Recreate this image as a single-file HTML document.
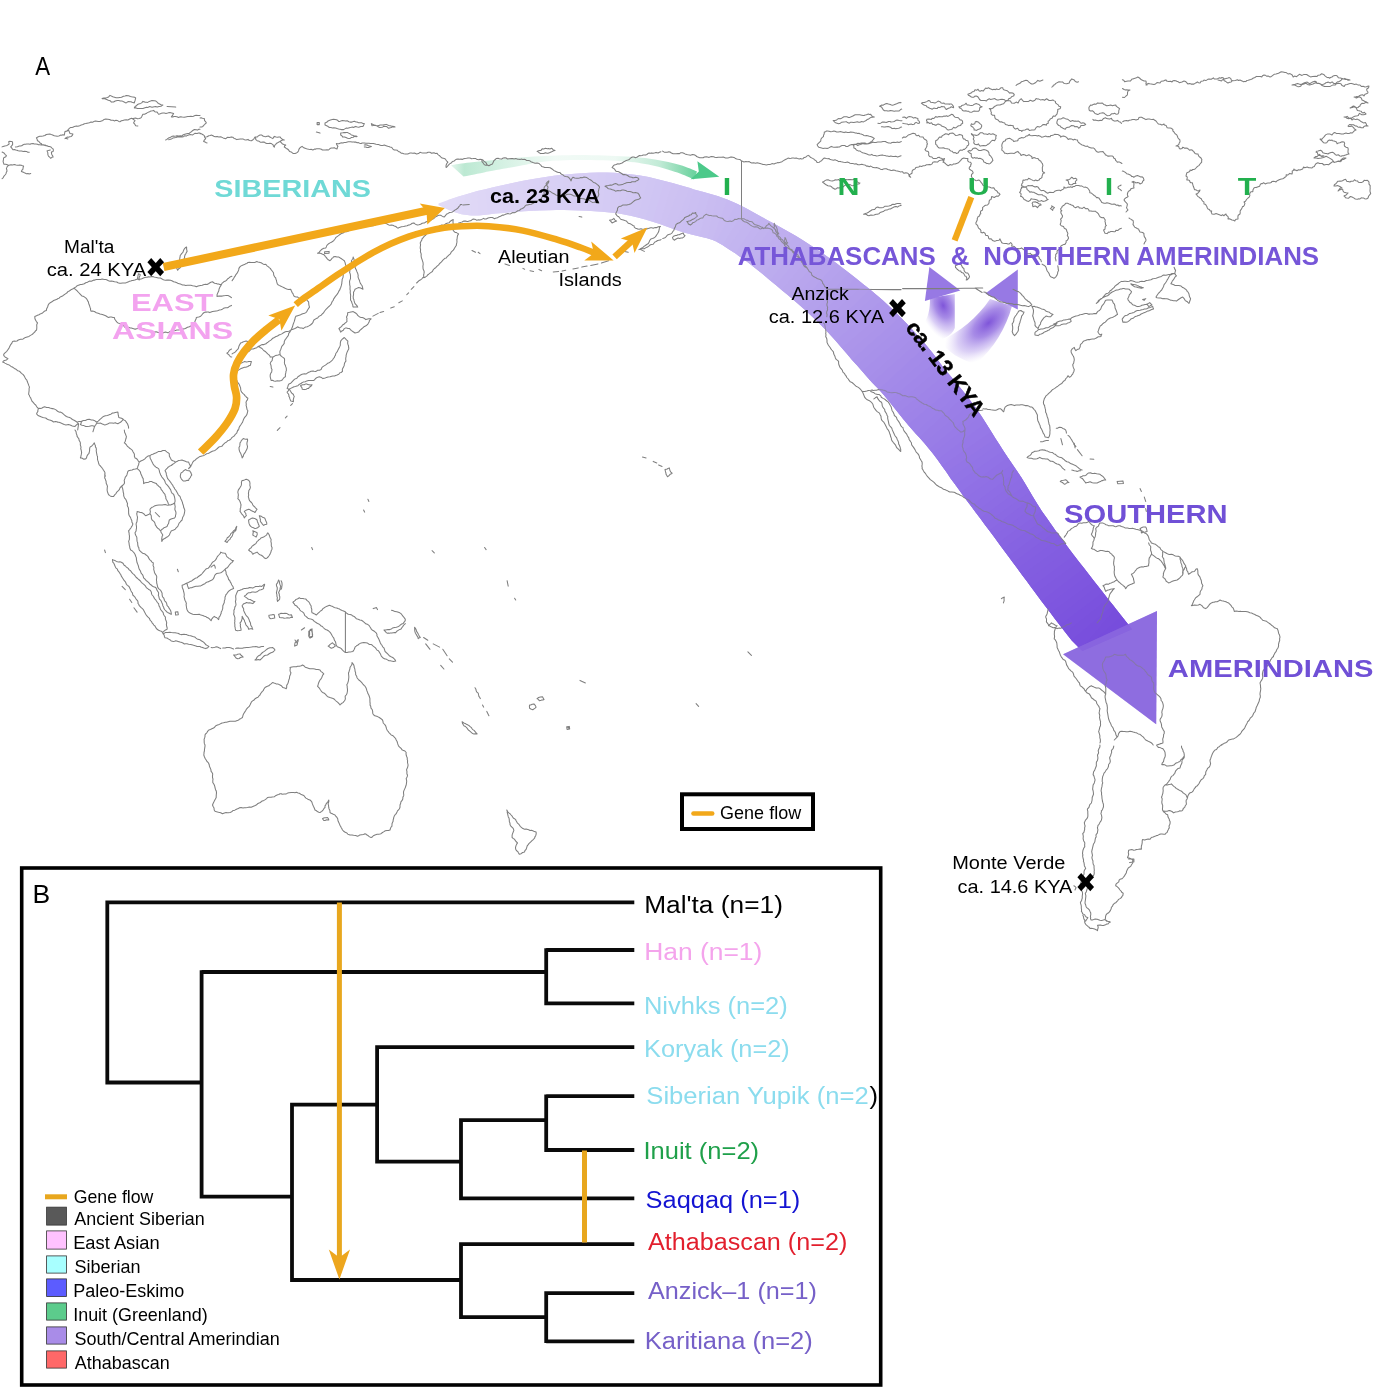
<!DOCTYPE html>
<html lang="en"><head><meta charset="utf-8"><title>Figure: gene flow map and population tree</title>
<style>
html,body{margin:0;padding:0;background:#fff;}
body{width:1400px;height:1400px;overflow:hidden;}
svg{display:block;font-family:"Liberation Sans",Arial,Helvetica,sans-serif;}
svg text{white-space:pre;}
</style></head>
<body>
<svg width="1400" height="1400" viewBox="0 0 1400 1400">
<rect width="1400" height="1400" fill="#fff"/>
<g id="flows-under">
<defs>
<linearGradient id="gband" gradientUnits="userSpaceOnUse" x1="440" y1="150" x2="1130" y2="640">
<stop offset="0" stop-color="#e4ddf7"/>
<stop offset="0.22" stop-color="#d6ccf3"/>
<stop offset="0.42" stop-color="#c5b5ee"/>
<stop offset="0.55" stop-color="#b29ce9"/>
<stop offset="0.68" stop-color="#a185e5"/>
<stop offset="0.80" stop-color="#9270e1"/>
<stop offset="0.92" stop-color="#8159dc"/>
<stop offset="1" stop-color="#7a50da"/>
</linearGradient>
<linearGradient id="ggreen" gradientUnits="userSpaceOnUse" x1="445" y1="0" x2="720" y2="0">
<stop offset="0" stop-color="#4fc48a" stop-opacity="0.05"/>
<stop offset="0.07" stop-color="#4fc48a" stop-opacity="0.38"/>
<stop offset="0.2" stop-color="#4fc48a" stop-opacity="0.25"/>
<stop offset="0.4" stop-color="#4fc48a" stop-opacity="0.08"/>
<stop offset="0.62" stop-color="#4fc48a" stop-opacity="0.10"/>
<stop offset="0.78" stop-color="#4fc48a" stop-opacity="0.35"/>
<stop offset="0.9" stop-color="#4cc98a" stop-opacity="0.8"/>
<stop offset="1" stop-color="#4cc98a" stop-opacity="1"/>
</linearGradient>
<radialGradient id="gs1" gradientUnits="userSpaceOnUse" cx="943.3" cy="305.5" r="37" gradientTransform="translate(943.5 306) rotate(-20) scale(0.62 1) translate(-943.5 -306)">
<stop offset="0" stop-color="#7f55d9" stop-opacity="1"/>
<stop offset="0.35" stop-color="#9877e2" stop-opacity="0.85"/>
<stop offset="0.7" stop-color="#b7a0ec" stop-opacity="0.5"/>
<stop offset="1" stop-color="#d8ccf5" stop-opacity="0"/>
</radialGradient>
<radialGradient id="gs2" gradientUnits="userSpaceOnUse" cx="988.6" cy="323" r="54" gradientTransform="translate(988.5 323) rotate(-42) scale(1 0.5) translate(-988.5 -323)">
<stop offset="0" stop-color="#7f55d9" stop-opacity="1"/>
<stop offset="0.35" stop-color="#9877e2" stop-opacity="0.85"/>
<stop offset="0.7" stop-color="#b7a0ec" stop-opacity="0.5"/>
<stop offset="1" stop-color="#d8ccf5" stop-opacity="0"/>
</radialGradient>
</defs>
<path d="M451.0 165.2C454.2 164.8 461.8 163.5 470.0 162.6C478.2 161.7 489.3 160.6 500.0 159.6C510.7 158.6 520.7 157.4 534.0 156.6C547.3 155.8 564.7 155.0 580.0 155.0C595.3 155.0 613.5 155.8 626.0 156.5C638.5 157.2 646.0 158.1 655.0 159.5C664.0 160.9 673.0 163.0 680.0 165.0C687.0 167.0 694.2 170.4 697.0 171.5L694.0 179.5C691.7 178.5 686.5 175.8 680.0 173.5C673.5 171.2 664.0 168.0 655.0 166.0C646.0 164.0 638.5 162.5 626.0 161.5C613.5 160.5 593.5 160.0 580.0 160.0C566.5 160.0 555.2 160.5 545.0 161.5C534.8 162.5 529.2 164.2 519.0 166.0C508.8 167.8 493.2 170.7 484.0 172.5C474.8 174.3 466.9 175.9 463.5 176.6Z" fill="url(#ggreen)"/>
<path d="M719.3 176.8L697.4 161.3L698.8 171.5L690.6 179.3Z" fill="#4cc98a"/>
<g opacity="1.0">
<path d="M438.5 203.6L448.1 200.1L457.7 196.8L452.4 211.5L443.7 207.6L438.5 205.2Z" fill="#e2dbf7"/>
<path d="M448.1 200.1L457.7 196.8L465.5 194.4L461.5 214.2L452.4 211.5L443.7 207.6Z" fill="#e1daf7"/>
<path d="M457.7 196.8L465.5 194.4L471.4 192.7L471.0 215.4L461.5 214.2L452.4 211.5Z" fill="#e0d9f7"/>
<path d="M465.5 194.4L471.4 192.7L477.3 191.1L478.6 215.4L471.0 215.4L461.5 214.2Z" fill="#dfd8f6"/>
<path d="M471.4 192.7L477.3 191.1L485.3 189.2L488.1 214.4L478.6 215.4L471.0 215.4Z" fill="#dfd7f6"/>
<path d="M477.3 191.1L485.3 189.2L493.2 187.3L495.6 213.5L488.1 214.4L478.6 215.4Z" fill="#ded6f6"/>
<path d="M485.3 189.2L493.2 187.3L501.1 185.5L503.2 212.9L495.6 213.5L488.1 214.4Z" fill="#ddd5f6"/>
<path d="M493.2 187.3L501.1 185.5L509.1 183.7L510.8 212.3L503.2 212.9L495.6 213.5Z" fill="#ddd5f6"/>
<path d="M501.1 185.5L509.1 183.7L517.1 182.0L518.4 211.7L510.8 212.3L503.2 212.9Z" fill="#dcd4f6"/>
<path d="M509.1 183.7L517.1 182.0L523.1 180.7L524.1 211.3L518.4 211.7L510.8 212.3Z" fill="#dcd3f5"/>
<path d="M517.1 182.0L523.1 180.7L533.1 178.9L533.6 210.8L524.1 211.3L518.4 211.7Z" fill="#dbd3f5"/>
<path d="M523.1 180.7L533.1 178.9L539.2 177.9L539.4 210.5L533.6 210.8L524.1 211.3Z" fill="#dbd2f5"/>
<path d="M533.1 178.9L539.2 177.9L547.2 176.7L548.9 210.2L539.4 210.5L533.6 210.8Z" fill="#dad2f5"/>
<path d="M539.2 177.9L547.2 176.7L555.3 175.6L556.5 210.1L548.9 210.2L539.4 210.5Z" fill="#dad1f5"/>
<path d="M547.2 176.7L555.3 175.6L563.4 174.7L564.1 210.1L556.5 210.1L548.9 210.2Z" fill="#d9d0f5"/>
<path d="M555.3 175.6L563.4 174.7L571.5 173.9L571.8 210.2L564.1 210.1L556.5 210.1Z" fill="#d8d0f5"/>
<path d="M563.4 174.7L571.5 173.9L581.7 173.2L579.4 210.4L571.8 210.2L564.1 210.1Z" fill="#d8cff4"/>
<path d="M571.5 173.9L581.7 173.2L589.9 172.7L587.0 210.8L579.4 210.4L571.8 210.2Z" fill="#d7cef4"/>
<path d="M581.7 173.2L589.9 172.7L598.0 172.5L594.6 211.2L587.0 210.8L579.4 210.4Z" fill="#d7cef4"/>
<path d="M589.9 172.7L598.0 172.5L606.2 172.5L602.2 211.8L594.6 211.2L587.0 210.8Z" fill="#d6cdf4"/>
<path d="M598.0 172.5L606.2 172.5L614.3 172.8L609.8 212.4L602.2 211.8L594.6 211.2Z" fill="#d5ccf4"/>
<path d="M606.2 172.5L614.3 172.8L622.5 173.4L617.4 213.3L609.8 212.4L602.2 211.8Z" fill="#d4cbf4"/>
<path d="M614.3 172.8L622.5 173.4L630.6 174.2L623.0 214.3L617.4 213.3L609.8 212.4Z" fill="#d4caf4"/>
<path d="M622.5 173.4L630.6 174.2L638.7 175.3L630.5 215.8L623.0 214.3L617.4 213.3Z" fill="#d3c9f3"/>
<path d="M630.6 174.2L638.7 175.3L648.7 177.1L637.9 217.6L630.5 215.8L623.0 214.3Z" fill="#d2c8f3"/>
<path d="M638.7 175.3L648.7 177.1L656.7 178.9L645.3 219.6L637.9 217.6L630.5 215.8Z" fill="#d1c7f3"/>
<path d="M648.7 177.1L656.7 178.9L664.6 181.0L652.6 221.7L645.3 219.6L637.9 217.6Z" fill="#d0c6f3"/>
<path d="M656.7 178.9L664.6 181.0L672.5 183.1L659.8 224.0L652.6 221.7L645.3 219.6Z" fill="#cfc5f3"/>
<path d="M664.6 181.0L672.5 183.1L680.3 185.3L665.2 225.9L659.8 224.0L652.6 221.7Z" fill="#cfc3f3"/>
<path d="M672.5 183.1L680.3 185.3L690.1 188.1L674.1 229.3L665.2 225.9L659.8 224.0Z" fill="#cec2f2"/>
<path d="M680.3 185.3L690.1 188.1L694.0 189.4L681.3 231.8L674.1 229.3L665.2 225.9Z" fill="#cdc1f2"/>
<path d="M690.1 188.1L694.0 189.4L701.8 191.6L690.5 234.2L681.3 231.8L674.1 229.3Z" fill="#ccc0f2"/>
<path d="M694.0 189.4L701.8 191.6L709.7 193.7L699.8 236.6L690.5 234.2L681.3 231.8Z" fill="#cbbff2"/>
<path d="M701.8 191.6L709.7 193.7L717.5 196.1L707.2 238.3L699.8 236.6L690.5 234.2Z" fill="#cabef2"/>
<path d="M709.7 193.7L717.5 196.1L727.2 199.4L712.7 239.9L707.2 238.3L699.8 236.6Z" fill="#c9bcf1"/>
<path d="M717.5 196.1L727.2 199.4L736.5 203.5L716.2 241.5L712.7 239.9L707.2 238.3Z" fill="#c8bbf1"/>
<path d="M727.2 199.4L736.5 203.5L745.6 208.1L722.8 245.3L716.2 241.5L712.7 239.9Z" fill="#c7b9f1"/>
<path d="M736.5 203.5L745.6 208.1L752.8 212.0L727.6 248.4L722.8 245.3L716.2 241.5Z" fill="#c5b8f1"/>
<path d="M745.6 208.1L752.8 212.0L760.0 215.9L735.5 253.6L727.6 248.4L722.8 245.3Z" fill="#c4b6f0"/>
<path d="M752.8 212.0L760.0 215.9L767.1 219.9L740.2 256.9L735.5 253.6L727.6 248.4Z" fill="#c3b5f0"/>
<path d="M760.0 215.9L767.1 219.9L774.3 223.8L746.4 261.3L740.2 256.9L735.5 253.6Z" fill="#c2b3f0"/>
<path d="M767.1 219.9L774.3 223.8L781.4 227.7L752.5 265.9L746.4 261.3L740.2 256.9Z" fill="#c1b2ef"/>
<path d="M774.3 223.8L781.4 227.7L790.3 232.8L758.5 270.7L752.5 265.9L746.4 261.3Z" fill="#c0b0ef"/>
<path d="M781.4 227.7L790.3 232.8L795.6 235.8L762.9 274.3L758.5 270.7L752.5 265.9Z" fill="#bfaeef"/>
<path d="M790.3 232.8L795.6 235.8L802.5 240.1L770.2 280.4L762.9 274.3L758.5 270.7Z" fill="#beadee"/>
<path d="M795.6 235.8L802.5 240.1L809.4 244.5L776.1 285.3L770.2 280.4L762.9 274.3Z" fill="#bcacee"/>
<path d="M802.5 240.1L809.4 244.5L816.2 249.0L781.9 290.2L776.1 285.3L770.2 280.4Z" fill="#bbaaee"/>
<path d="M809.4 244.5L816.2 249.0L823.0 253.6L787.8 295.1L781.9 290.2L776.1 285.3Z" fill="#baa8ee"/>
<path d="M816.2 249.0L823.0 253.6L829.6 258.3L793.6 299.9L787.8 295.1L781.9 290.2Z" fill="#b9a7ed"/>
<path d="M823.0 253.6L829.6 258.3L836.2 263.1L799.4 304.9L793.6 299.9L787.8 295.1Z" fill="#b8a5ed"/>
<path d="M829.6 258.3L836.2 263.1L842.7 268.0L805.1 310.0L799.4 304.9L793.6 299.9Z" fill="#b7a4ed"/>
<path d="M836.2 263.1L842.7 268.0L849.2 273.0L810.7 315.2L805.1 310.0L799.4 304.9Z" fill="#b5a2ed"/>
<path d="M842.7 268.0L849.2 273.0L855.6 278.0L816.3 320.4L810.7 315.2L805.1 310.0Z" fill="#b4a1ec"/>
<path d="M849.2 273.0L855.6 278.0L863.6 284.4L821.7 325.7L816.3 320.4L810.7 315.2Z" fill="#b39fec"/>
<path d="M855.6 278.0L863.6 284.4L870.0 289.5L827.0 331.2L821.7 325.7L816.3 320.4Z" fill="#b29dec"/>
<path d="M863.6 284.4L870.0 289.5L876.2 294.7L830.9 335.4L827.0 331.2L821.7 325.7Z" fill="#b19ceb"/>
<path d="M870.0 289.5L876.2 294.7L882.4 300.1L835.9 341.1L830.9 335.4L827.0 331.2Z" fill="#af9aeb"/>
<path d="M876.2 294.7L882.4 300.1L889.9 306.9L842.1 348.3L835.9 341.1L830.9 335.4Z" fill="#ae99eb"/>
<path d="M882.4 300.1L889.9 306.9L895.8 312.6L847.1 354.1L842.1 348.3L835.9 341.1Z" fill="#ad97eb"/>
<path d="M889.9 306.9L895.8 312.6L900.2 316.9L852.1 359.9L847.1 354.1L842.1 348.3Z" fill="#ac95ea"/>
<path d="M895.8 312.6L900.2 316.9L905.9 322.8L857.2 365.6L852.1 359.9L847.1 354.1Z" fill="#ab94ea"/>
<path d="M900.2 316.9L905.9 322.8L911.4 328.7L862.2 371.3L857.2 365.6L852.1 359.9Z" fill="#a992ea"/>
<path d="M905.9 322.8L911.4 328.7L916.9 334.7L868.5 378.5L862.2 371.3L857.2 365.6Z" fill="#a891ea"/>
<path d="M911.4 328.7L916.9 334.7L921.1 339.3L872.3 382.8L868.5 378.5L862.2 371.3Z" fill="#a78fea"/>
<path d="M916.9 334.7L921.1 339.3L926.4 345.4L879.0 389.5L872.3 382.8L868.5 378.5Z" fill="#a68ee9"/>
<path d="M921.1 339.3L926.4 345.4L932.8 353.3L884.0 395.2L879.0 389.5L872.3 382.8Z" fill="#a58ce9"/>
<path d="M926.4 345.4L932.8 353.3L937.7 359.9L888.8 401.1L884.0 395.2L879.0 389.5Z" fill="#a38ae9"/>
<path d="M932.8 353.3L937.7 359.9L942.6 366.4L893.6 407.0L888.8 401.1L884.0 395.2Z" fill="#a289e9"/>
<path d="M937.7 359.9L942.6 366.4L947.7 372.8L898.4 413.0L893.6 407.0L888.8 401.1Z" fill="#a187e9"/>
<path d="M942.6 366.4L947.7 372.8L953.0 379.0L903.2 418.9L898.4 413.0L893.6 407.0Z" fill="#a086e8"/>
<path d="M947.7 372.8L953.0 379.0L956.9 383.7L908.0 424.8L903.2 418.9L898.4 413.0Z" fill="#9f84e8"/>
<path d="M953.0 379.0L956.9 383.7L962.1 390.0L915.6 433.4L908.0 424.8L903.2 418.9Z" fill="#9e83e8"/>
<path d="M956.9 383.7L962.1 390.0L965.9 394.8L919.4 437.6L915.6 433.4L908.0 424.8Z" fill="#9c81e8"/>
<path d="M962.1 390.0L965.9 394.8L972.1 402.9L924.5 443.3L919.4 437.6L915.6 433.4Z" fill="#9b80e8"/>
<path d="M965.9 394.8L972.1 402.9L976.9 409.5L929.4 449.2L924.5 443.3L919.4 437.6Z" fill="#9a7ee7"/>
<path d="M972.1 402.9L976.9 409.5L981.5 416.2L932.9 453.6L929.4 449.2L924.5 443.3Z" fill="#997de7"/>
<path d="M976.9 409.5L981.5 416.2L985.8 423.1L937.6 459.7L932.9 453.6L929.4 449.2Z" fill="#987be7"/>
<path d="M981.5 416.2L985.8 423.1L991.3 431.8L942.0 465.9L937.6 459.7L932.9 453.6Z" fill="#977ae7"/>
<path d="M985.8 423.1L991.3 431.8L995.6 438.7L946.4 472.1L942.0 465.9L937.6 459.7Z" fill="#9678e7"/>
<path d="M991.3 431.8L995.6 438.7L998.9 443.8L950.7 478.4L946.4 472.1L942.0 465.9Z" fill="#9576e6"/>
<path d="M995.6 438.7L998.9 443.8L1003.3 450.7L955.2 484.6L950.7 478.4L946.4 472.1Z" fill="#9375e6"/>
<path d="M998.9 443.8L1003.3 450.7L1007.8 457.5L960.8 492.3L955.2 484.6L950.7 478.4Z" fill="#9274e6"/>
<path d="M1003.3 450.7L1007.8 457.5L1012.4 464.3L965.3 498.4L960.8 492.3L955.2 484.6Z" fill="#9172e6"/>
<path d="M1007.8 457.5L1012.4 464.3L1017.0 471.0L971.0 506.1L965.3 498.4L960.8 492.3Z" fill="#9070e5"/>
<path d="M1012.4 464.3L1017.0 471.0L1021.5 477.8L975.6 512.2L971.0 506.1L965.3 498.4Z" fill="#8f6fe5"/>
<path d="M1017.0 471.0L1021.5 477.8L1025.8 484.7L980.2 518.3L975.6 512.2L971.0 506.1Z" fill="#8e6de5"/>
<path d="M1021.5 477.8L1025.8 484.7L1029.9 491.8L984.7 524.4L980.2 518.3L975.6 512.2Z" fill="#8d6ce4"/>
<path d="M1025.8 484.7L1029.9 491.8L1033.0 497.1L989.3 530.5L984.7 524.4L980.2 518.3Z" fill="#8c6ae4"/>
<path d="M1029.9 491.8L1033.0 497.1L1037.3 504.1L993.8 536.6L989.3 530.5L984.7 524.4Z" fill="#8b69e3"/>
<path d="M1033.0 497.1L1037.3 504.1L1041.7 510.9L998.3 542.7L993.8 536.6L989.3 530.5Z" fill="#8a67e3"/>
<path d="M1037.3 504.1L1041.7 510.9L1046.4 517.6L1002.9 548.9L998.3 542.7L993.8 536.6Z" fill="#8966e3"/>
<path d="M1041.7 510.9L1046.4 517.6L1051.1 524.3L1008.5 556.5L1002.9 548.9L998.3 542.7Z" fill="#8864e2"/>
<path d="M1046.4 517.6L1051.1 524.3L1055.8 530.9L1013.1 562.7L1008.5 556.5L1002.9 548.9Z" fill="#8663e2"/>
<path d="M1051.1 524.3L1055.8 530.9L1060.7 537.5L1017.6 568.8L1013.1 562.7L1008.5 556.5Z" fill="#8561e1"/>
<path d="M1055.8 530.9L1060.7 537.5L1065.5 544.0L1022.1 574.9L1017.6 568.8L1013.1 562.7Z" fill="#845fe1"/>
<path d="M1060.7 537.5L1065.5 544.0L1069.2 548.9L1026.7 581.1L1022.1 574.9L1017.6 568.8Z" fill="#835ee1"/>
<path d="M1065.5 544.0L1069.2 548.9L1074.1 555.4L1031.2 587.2L1026.7 581.1L1022.1 574.9Z" fill="#825de0"/>
<path d="M1069.2 548.9L1074.1 555.4L1079.1 561.9L1035.7 593.3L1031.2 587.2L1026.7 581.1Z" fill="#825ce0"/>
<path d="M1074.1 555.4L1079.1 561.9L1084.1 568.3L1041.4 601.0L1035.7 593.3L1031.2 587.2Z" fill="#815ae0"/>
<path d="M1079.1 561.9L1084.1 568.3L1089.1 574.8L1046.0 607.0L1041.4 601.0L1035.7 593.3Z" fill="#8059df"/>
<path d="M1084.1 568.3L1089.1 574.8L1094.1 581.2L1050.6 613.1L1046.0 607.0L1041.4 601.0Z" fill="#7f57df"/>
<path d="M1089.1 574.8L1094.1 581.2L1097.9 586.0L1055.2 619.2L1050.6 613.1L1046.0 607.0Z" fill="#7e56df"/>
<path d="M1094.1 581.2L1097.9 586.0L1103.0 592.4L1059.9 625.3L1055.2 619.2L1050.6 613.1Z" fill="#7d55de"/>
<path d="M1097.9 586.0L1103.0 592.4L1108.0 598.9L1065.7 632.8L1059.9 625.3L1055.2 619.2Z" fill="#7c54de"/>
<path d="M1103.0 592.4L1108.0 598.9L1113.1 605.3L1071.6 640.3L1065.7 632.8L1059.9 625.3Z" fill="#7b52de"/>
<path d="M1108.0 598.9L1113.1 605.3L1115.6 608.5L1081.0 649.7L1071.6 640.3L1065.7 632.8Z" fill="#7a51dd"/>
<path d="M1113.1 605.3L1115.6 608.5L1121.9 616.5L1082.4 651.0L1081.0 649.7L1071.6 640.3Z" fill="#794fdd"/>
<path d="M1115.6 608.5L1121.9 616.5L1132.0 629.3L1082.4 651.0L1082.4 651.0L1081.0 649.7Z" fill="#784edc"/>
<path d="M1121.9 616.5L1132.0 629.3L1132.0 629.3L1082.4 651.0L1082.4 651.0L1082.4 651.0Z" fill="#774ddc"/>
</g>
<path d="M1157 611.1L1063.1 654.3L1156.2 724.3Z" fill="#8f6de1"/>
<path d="M930 298C930 312 928 324 912 336C926 344 950 342 954.8 328L954.8 294Z" fill="url(#gs1)"/>
<path d="M929.4 267.1L924.9 300.9L960.3 290.6Z" fill="#9779e4"/>
<path d="M940 341C960 332 977 318 990 299L1012 306C1006 328 994 348 976 364C960 360 948 352 940 341Z" fill="url(#gs2)"/>
<path d="M1017.8 269.4L985.4 293.4L1017.8 309.4Z" fill="#9779e4"/>
</g>
<g id="map"><path d="M36.4 137.9L38.3 136.7L39.8 136.3L41.5 136.2L42.9 136.0L44.9 135.5L46.3 134.5L48.0 134.2L49.8 134.1L51.3 134.6L52.6 134.9L54.3 135.7L55.9 136.0L57.1 136.2L58.9 136.0L60.5 135.1L61.5 135.3L62.8 134.8L64.3 135.1L64.6 133.5L65.0 131.4L66.8 130.9L68.0 130.0L68.6 129.3L69.3 128.4L70.4 127.6L72.1 127.4L73.5 127.0L74.3 126.4L76.5 126.1L77.9 126.3L79.7 125.8L81.3 124.9L83.0 124.5L84.4 123.7L85.7 123.6L87.1 123.2L89.4 122.7L91.0 122.1L92.7 122.2L93.7 121.6L95.6 121.0L98.2 121.4L100.0 121.4L101.4 121.1L102.9 120.4L104.1 119.4L105.7 119.1L107.7 119.3L109.6 119.5L111.0 120.3L113.1 120.2L114.3 120.9L115.9 120.3L117.5 120.6L118.8 121.4L119.9 121.7L121.4 120.8L122.9 120.4L124.3 120.0L126.2 119.8L127.9 120.0L129.7 119.0L131.4 118.3L133.3 118.6L134.4 118.3L135.5 118.1L137.5 118.8L139.3 118.5L140.6 118.0L141.4 117.4L142.0 116.1L142.9 114.3L144.5 114.3L146.2 113.6L147.0 112.9L148.6 112.1L149.6 111.8L151.0 110.9L152.5 110.7L153.6 110.4L154.8 111.7L155.7 111.9L157.1 112.1L157.9 113.3L158.6 114.3L159.7 114.1L161.3 113.3L163.0 113.0L164.3 113.1L166.0 113.5L167.7 113.1L168.5 112.8L170.0 112.6L171.7 112.9L173.6 113.6L172.5 115.4L171.4 116.9L172.8 117.0L174.0 116.5L175.3 116.5L176.9 116.7L178.6 117.4L180.3 116.8L182.3 117.1L184.1 117.3L185.7 116.9L187.7 116.5L189.1 116.4L190.9 116.3L192.2 116.5L193.5 116.2L194.3 115.7L196.1 115.2L197.9 115.6L200.0 115.4 M131.4 118.3L133.0 119.0L134.0 119.8L135.0 120.7L134.0 122.0L133.6 122.9L134.8 124.2L135.7 125.7L137.9 126.0 M65.0 131.4L66.6 131.2L68.6 130.3L69.4 132.0L70.0 133.6L71.5 133.7L72.9 134.0L72.5 135.2L71.4 136.4L69.8 136.7L68.3 137.2L67.1 137.1L65.8 137.9L65.0 138.6L66.4 138.4L67.9 138.9 M102.1 98.6L103.9 98.0L105.3 97.9L106.4 97.7L107.3 97.4L108.6 96.9L110.0 95.4L112.8 96.8L116.1 97.8L118.1 97.8L121.5 97.3L123.5 96.2L125.1 96.1L126.4 95.6L128.6 95.7L130.4 96.4L131.6 96.8L133.0 97.0L134.6 97.3L135.7 97.9L135.4 99.0L135.1 100.4L134.6 101.7L134.3 102.9L133.0 102.5L132.1 102.3L130.9 101.7L130.0 101.7L128.7 101.6L127.7 101.8L126.9 102.4L125.7 102.9L124.1 102.0L122.3 101.1L120.4 100.9L118.8 100.6L117.3 100.4L115.2 101.0L113.6 102.0L111.4 102.1L110.1 100.7L108.3 100.2L107.3 99.7L106.0 99.2L104.2 98.6L102.1 98.6 M134.3 107.9L135.1 106.5L136.4 105.8L137.6 104.4L138.6 104.0L140.7 103.4L141.7 102.9L142.9 101.4L144.2 101.8L145.1 102.2L146.4 102.3L147.7 102.4L149.3 101.4L150.5 101.1L152.0 100.5L154.3 100.7L155.9 101.1L157.4 102.3L158.2 103.4L159.2 103.8L161.0 104.7L162.9 105.0L161.6 105.8L160.9 106.3L159.1 106.6L157.1 107.1L155.6 106.5L154.2 106.7L152.0 107.3L149.7 106.6L147.7 107.4L146.5 107.2L145.0 107.8L142.9 108.6L141.8 108.5L140.1 108.5L138.7 108.5L137.4 108.5L135.5 107.8L134.3 107.9 M167.1 106.4L175.7 107.1 M165.7 140.0L166.9 139.4L168.0 138.5L168.6 137.9L170.5 137.3L171.6 136.6L173.3 136.0L174.7 136.2L175.8 136.1L177.1 135.7L178.6 136.0L180.7 135.8L182.2 136.0L182.8 135.0L184.0 134.5L185.7 134.0L187.7 133.4L189.2 133.5L190.0 132.6L191.4 131.7L192.8 130.5L194.4 129.5L196.1 129.7L197.5 130.1L198.8 129.3L200.0 129.3 M168.6 139.7L169.7 139.6L171.3 139.1L172.8 138.1L174.6 137.7L175.8 137.6L177.3 136.9L178.9 136.9L180.0 137.1L182.1 136.9L183.5 136.7L184.5 135.8L186.3 136.1L187.3 135.4L188.6 135.0L190.2 134.5L192.7 134.9L194.1 133.9L195.1 133.3L197.0 133.5L198.8 132.9L200.0 133.1 M36.4 137.9L37.1 139.1L37.4 140.7L38.7 141.2L40.0 142.9L41.1 143.4L41.8 144.4L43.4 144.7L44.3 145.2L46.0 145.7L47.1 145.7L48.4 146.5L49.4 146.5L51.0 147.0L51.6 147.9L52.9 148.6L53.4 150.0L53.1 151.4L51.4 152.1L51.6 154.0L52.1 155.0L52.8 156.1L53.1 157.1L51.9 157.3L50.7 158.3L49.6 157.0L48.6 156.4L48.0 155.1L47.8 153.9L47.9 152.9L47.3 151.6L47.1 150.7L48.4 150.5L50.3 150.0 M2.1 146.9L3.1 146.4L4.8 145.9L5.8 145.8L7.1 145.4L8.9 144.3L9.1 143.2L8.6 141.7L9.8 141.3L11.1 141.4L12.1 141.4L12.6 142.7L12.6 144.6L11.4 146.1L10.7 146.9L11.6 147.9L12.9 149.7L14.6 149.5L15.7 150.0L17.0 150.3L18.2 150.8L19.5 151.1L21.4 150.9L23.4 151.4L24.5 151.3L26.4 151.4L27.8 152.2L29.3 152.3 M15.4 146.9L17.4 146.7L19.3 146.0L20.4 146.1L21.7 145.8L22.7 145.0L24.3 144.3L25.5 144.3L26.8 144.0L28.6 143.9L30.1 144.2L31.1 143.7L33.1 143.5L34.2 143.9L35.7 144.0L37.5 144.2L38.5 144.8L39.7 144.8L41.4 145.0L43.6 145.1L45.4 145.1L47.1 146.0 M2.1 152.1L3.9 152.9L5.0 154.3L6.4 155.7L5.8 156.7L4.8 157.2L3.6 157.9L3.5 159.4L3.1 161.4L3.4 162.6L4.0 164.3L5.6 164.2L6.8 164.5L8.6 165.4L9.7 165.1L11.1 164.8L12.6 165.0L14.3 164.6L16.0 165.1L17.5 165.3L18.6 165.3L19.6 165.0L21.3 165.3L22.4 165.7L23.6 166.1L23.1 167.6L22.9 169.3L21.9 170.2L21.4 171.4L23.4 172.3L25.0 173.1L26.4 173.7L28.0 173.6L29.1 174.0L30.7 173.6 M2.1 178.6L3.1 177.8L3.8 176.4L5.0 175.0L6.0 173.7L6.3 172.3L6.9 171.4L6.9 170.0L6.4 168.6L7.2 166.6L8.6 165.4 M200.0 117.9L201.1 117.8L202.4 118.3L204.3 118.6L204.6 120.6L205.8 121.9L206.4 122.9L205.4 123.7L204.5 124.6L203.7 125.3L202.9 126.4L201.6 127.0L200.0 127.1 M200.0 133.6L201.1 133.6L202.2 134.2L203.0 134.7L204.3 135.7L204.6 137.2L205.7 138.6L204.3 140.1L203.6 141.4L205.1 141.9L205.7 142.5L207.1 142.9 M205.7 136.9L207.1 136.8L208.8 135.7L210.1 135.6L211.7 135.1L212.5 135.5L213.8 136.3L215.1 136.7L217.1 136.4L218.8 137.0L220.7 136.7L223.1 137.9L225.8 138.7L226.8 137.8L227.7 137.3L229.3 137.5L231.4 136.9L232.8 137.2L234.3 138.6L235.3 138.8L236.7 139.6L238.6 139.2L240.3 138.9L241.3 139.1L242.9 138.9L244.5 139.7L246.0 139.9L248.0 139.4L249.3 140.5L251.4 140.7L253.0 139.7L253.9 138.8L255.0 137.1L256.4 137.0L257.3 137.0L258.3 135.9L260.0 135.0L261.8 135.1L262.9 136.0L264.4 136.6L265.6 136.7L267.0 136.3L268.6 136.0L269.8 137.1L270.9 137.6L272.9 138.6L273.5 137.6L274.3 136.4L276.1 136.9L277.6 137.2L278.8 136.9L280.0 136.9L281.0 138.1L281.9 138.8L282.7 139.6L284.3 140.0L282.7 140.1L281.5 140.5L280.0 141.4L281.0 142.4L282.2 143.7L283.7 144.5L285.7 145.0L284.6 146.0L284.3 147.1L285.6 147.8L286.2 148.4L287.5 149.0L288.6 150.0L289.5 151.4L291.4 152.1L293.0 153.4L295.0 153.6L296.3 153.0L297.5 152.4L298.6 150.7L298.9 149.4L299.7 148.1L300.3 147.5L302.1 146.4L303.8 147.8L305.7 148.6L307.4 149.0L308.9 149.3L310.2 149.5L311.1 149.3L312.9 150.0L314.4 149.1L315.8 149.1L316.7 148.8L318.2 148.7L319.5 148.8L321.4 149.3L322.4 150.0L323.8 150.0L325.2 149.9L327.0 149.7L328.6 150.0L330.0 148.6L331.4 148.0L332.7 148.1L334.4 147.7L335.4 148.4L337.1 148.9L337.4 147.3L337.9 146.4L336.8 144.7L336.4 143.6L337.3 143.8L338.8 143.8L340.7 143.0L341.8 142.8L342.9 142.9L344.2 142.5L345.8 142.4L348.2 141.8L350.6 141.7L352.1 142.1L353.3 141.9L354.2 142.1L355.7 142.1L357.1 142.7L358.1 142.5L359.9 143.4L361.3 143.5L362.1 143.0L364.3 142.9L365.9 143.2L367.6 143.3L368.9 143.3L370.5 143.5L371.4 143.6L373.4 143.5L376.1 144.2L377.8 144.5L378.7 144.5L379.6 144.9L381.1 145.4L382.8 145.5L384.3 145.0L386.1 145.7L387.7 146.3L388.8 146.6L390.0 147.1L391.1 147.2L392.4 148.2L392.9 149.1L394.3 150.0L395.5 150.1L397.4 150.3L398.3 151.5L400.0 152.1L401.2 153.2L402.6 153.2L403.7 153.8L405.4 154.1L407.7 153.9L408.9 153.4L410.0 153.1L411.2 153.0L412.9 153.2L414.5 153.0L416.6 153.9L418.5 153.6L420.0 152.3L421.5 152.8L422.6 152.9L424.5 152.9L426.6 153.0L428.1 152.2L430.0 152.3 M255.0 137.1L255.7 138.5L255.8 139.7L257.1 140.7L259.2 141.3L260.2 142.2L261.7 142.3L262.8 142.1L264.3 142.1L265.5 143.0L266.7 143.5L268.8 143.6L269.9 143.3L271.4 143.6L273.2 144.9L273.3 145.9L274.3 147.1L274.7 145.3L275.7 144.3L276.7 143.2L278.1 142.5L280.0 141.4 M325.0 122.9L326.7 122.3L327.6 121.3L328.6 120.7L330.4 120.0L332.3 119.6L333.6 119.3L335.1 119.4L336.5 119.7L337.5 120.2L338.6 121.4L340.0 121.4L340.9 120.9L342.3 120.6L344.3 120.7L345.7 121.1L347.2 120.8L348.9 121.7L350.0 122.1L352.0 122.1L353.2 121.5L354.6 121.3L355.7 121.9L357.1 122.1L358.6 122.7L359.9 122.8L361.7 122.8L362.7 123.4L364.3 123.6L363.7 125.0L362.9 126.4L360.8 126.5L358.8 127.2L357.3 127.1L355.7 126.4L354.6 126.8L353.7 127.5L352.6 127.1L351.2 127.3L350.2 127.4L348.6 127.9L347.7 128.2L346.1 128.1L344.8 128.9L343.6 129.6L341.2 129.6L339.9 129.2L338.6 129.0L337.1 128.6L335.5 128.0L333.7 127.7L332.5 127.9L330.9 127.6L329.7 127.5L328.6 127.1L327.7 126.2L326.7 125.7L325.0 125.0L325.0 122.9 M340.7 132.9L342.7 132.8L344.2 132.6L345.7 132.6L347.4 132.5L348.2 132.9L349.4 133.6L350.4 134.0L351.4 135.0L352.7 135.2L354.2 136.1L356.1 136.7L357.1 136.4L356.1 136.1L354.9 136.0L353.2 137.2L351.4 137.4L350.3 138.3L349.1 138.4L347.6 138.2L346.0 137.5L344.5 136.9L342.9 137.1L342.2 136.1L340.7 135.0L340.7 132.9 M371.4 123.6L373.1 124.5L374.4 125.0L376.1 125.6L377.6 125.8L378.9 125.6L380.0 125.0L381.6 125.0L383.3 125.1L384.2 124.7L386.3 124.4L388.6 125.5L390.0 125.7L391.3 126.1L392.5 126.2L394.0 126.4L395.0 126.9L393.7 127.1L392.3 126.9L391.3 127.5L390.2 127.8L388.6 128.3L387.4 127.1L386.4 126.5L385.5 126.4L383.9 126.3L382.9 126.9L381.8 127.3L379.8 127.4L378.6 127.1L377.3 126.0L375.5 125.6L374.1 125.2L372.1 125.7L371.7 125.0L371.4 123.6 M317.1 122.6L319.3 122.6L319.3 124.6L317.1 124.6L317.1 122.6 M316.4 132.1L320.0 133.1 M364.3 145.0L365.5 144.7L367.0 145.1L368.5 145.8L369.5 145.9L371.4 146.4L369.8 147.0L368.6 147.4L367.0 147.5L365.7 147.1L364.3 146.9 M74.1 288.0L75.7 287.1L76.4 286.3L77.6 285.6L79.3 284.9L80.3 284.5L81.8 284.4L84.3 283.7L85.7 282.7L87.5 282.3L88.8 281.4L89.7 281.1L91.3 281.3L92.4 280.8L93.9 280.1L94.8 280.1L96.4 279.6L98.0 279.4L99.1 279.5L100.7 279.5L102.1 279.1L104.2 279.6L105.9 279.5L107.1 280.0L108.5 280.8L109.9 281.2L111.2 281.0L112.8 281.2L114.5 281.8L116.8 282.0L117.9 282.7L119.6 283.2L120.7 283.3L122.8 282.9L124.0 283.0L125.5 282.9L126.7 282.6L128.6 281.8L129.4 281.3L130.7 281.0L132.1 280.5L132.9 280.5L134.8 280.0L136.2 279.4L137.5 279.1L138.7 279.2L139.7 279.2L141.1 279.1L142.9 278.2L144.1 277.7L145.9 277.3L147.3 277.2L148.2 276.8L150.0 277.0L151.7 276.6L153.2 276.6L154.0 277.0L155.4 277.3L156.6 277.4L158.2 277.9L160.4 278.0L161.7 278.7L162.7 279.4L164.3 280.0L165.5 280.2L167.0 280.1L168.6 280.1L170.6 280.3L172.4 281.0L173.6 281.8L175.0 282.1L176.9 282.8L178.3 283.6L180.3 283.9L181.4 284.5L182.6 284.9L184.1 284.9L185.7 285.4L187.4 285.2L188.5 285.3L190.9 285.3L192.6 285.7L194.2 286.0L195.3 286.2L196.4 286.8L198.1 286.1L199.3 285.7L200.5 285.4L202.3 285.2L203.3 284.7L204.4 284.4L205.6 284.2L207.1 284.5L208.9 283.5L210.0 282.7L210.8 282.2L212.5 281.8L213.8 282.7L214.7 283.2L216.4 283.6L217.3 283.9L218.6 284.0L219.8 284.5L221.4 284.5L221.0 285.4L220.0 286.9L219.5 288.0L219.0 289.2L218.8 290.7L218.3 291.8L217.6 293.4L217.1 294.5L217.0 296.4L218.9 296.1L220.8 296.1L222.2 296.1L223.8 295.7L225.5 295.6L226.8 295.4L227.8 295.5L229.2 296.1L230.2 296.7L231.5 297.6 M231.5 305.4L230.4 305.9L229.2 306.5L228.4 307.3L227.4 307.8L225.7 307.7L224.3 308.1L223.2 308.6L222.4 309.2L221.0 309.7L219.3 310.1L218.3 310.4L217.6 310.8L216.2 310.9L214.3 311.2L212.4 311.5L211.2 312.0L209.8 312.6L208.2 311.9L206.7 312.1L205.4 312.1L204.2 312.5L202.9 313.5L201.6 315.3L200.6 316.2L199.5 316.8L198.6 317.1L197.3 317.3L196.4 317.5L196.0 319.0L195.1 320.9L194.6 322.9L193.2 324.0L192.2 324.7L191.2 325.7L189.4 326.8L187.5 327.3L185.4 328.5L183.5 329.1L182.5 328.8L180.9 329.1L179.8 329.7L178.5 329.9L176.8 330.0L175.5 330.4L174.3 330.8L173.1 330.9L171.4 331.2L170.0 331.5L168.9 332.4L167.9 332.7L166.3 332.2L165.4 332.1L162.7 333.0L161.2 333.2L159.6 332.5L158.0 332.4L157.1 332.1L156.1 331.8L154.8 331.9L152.4 332.1L150.5 331.6L149.0 331.1L147.7 330.6L146.4 330.0L144.8 329.3L143.3 328.8L141.2 328.6L139.6 328.4L137.9 328.5L136.8 328.7L135.7 329.1L134.6 329.1L132.8 328.5L131.4 328.0L130.3 327.9L128.4 327.3L127.1 327.2L125.0 327.3L124.0 326.1L122.4 324.7L121.7 323.9L120.4 323.4L119.1 323.3L117.9 322.9L116.7 321.9L115.9 320.7L114.8 319.3L114.3 317.5L113.0 317.4L111.4 317.0L109.9 317.1L108.7 317.5L107.6 317.0L105.7 315.7L102.4 314.5L100.0 313.9L98.2 313.2L96.3 312.7L95.6 312.3L94.4 311.5L92.5 311.1L91.1 311.2L90.5 309.8L90.6 308.6L90.0 307.2L89.6 305.8L89.3 305.0L88.6 303.2L88.4 301.9L87.8 301.1L87.2 299.7L86.6 298.9L85.7 297.9L84.6 297.1L83.9 296.6L82.0 296.1L81.1 295.1L79.9 293.8L78.6 292.5L77.8 291.7L76.8 290.5L75.3 289.4L74.1 288.0 M221.4 284.5L222.2 283.1L223.5 282.1L224.1 281.4L225.7 280.9L226.8 280.0L227.7 278.7L228.7 278.2L229.9 277.1L231.9 276.2 M74.1 288.0L73.1 288.8L71.5 289.4L70.0 290.5L68.8 291.3L67.9 291.6L67.1 292.7L65.4 293.9L64.2 294.7L62.5 296.1L60.8 296.8L59.7 297.4L59.1 298.2L57.8 298.6L57.0 299.3L55.7 299.7L53.6 300.5L51.9 301.8L50.7 302.5L49.8 303.0L48.9 303.9L48.2 305.0L47.6 307.0L46.9 308.2L46.5 309.3L46.4 310.4L44.8 311.0L43.9 311.6L42.6 313.0L41.4 313.5L40.2 313.9L39.0 314.7L37.4 315.2L35.9 316.1L34.8 316.6L34.9 318.5L35.5 320.1L36.4 321.6L37.5 322.9L37.1 323.7L36.7 325.0L36.8 326.4L36.8 327.9L36.6 330.0L35.5 330.9L34.5 332.4L33.3 333.2L32.8 334.0L31.4 334.9L30.4 335.4L29.0 336.4L27.1 336.9L25.5 337.4L24.1 338.2L23.2 338.9L22.1 339.2L20.6 339.3L18.3 340.0L17.0 341.0L15.4 341.3L14.3 341.1L12.5 341.6L11.9 343.1L10.7 344.6L9.0 348.1L7.7 350.0L6.8 351.3L5.0 352.8L4.0 353.8L3.6 355.0L4.3 356.3L5.9 357.6L7.2 358.2L8.0 358.6L6.5 359.9L4.5 360.5L3.5 361.0L2.7 362.1L3.8 362.4L4.9 363.1L6.4 363.9L7.4 364.5L8.9 364.8L9.7 365.4L11.0 366.4L12.4 367.0L14.0 368.1L14.9 368.8L16.1 369.3L17.6 370.7L19.1 371.1L20.1 371.8L21.5 373.3L23.2 374.6L24.3 376.1L25.1 377.8L25.9 379.1L26.8 380.0L27.2 381.3L27.9 383.1L28.5 384.5L28.7 385.4L29.5 387.1L29.1 388.4L29.1 390.4L29.0 391.4L28.8 392.8L28.6 394.3L29.3 395.2L29.8 396.7L30.6 397.8L31.3 399.6L32.2 401.5L33.0 402.2L33.8 403.1L34.6 404.1L35.7 405.0L36.8 406.8L37.8 407.9L38.4 408.6 M38.4 408.6L39.7 408.3L41.2 408.4L42.0 408.0L43.3 407.2L44.6 406.8L46.6 407.5L48.6 407.5L49.9 408.0L51.8 408.6L52.7 408.6L54.1 408.9L56.0 409.9L57.3 411.0L58.4 411.8L59.8 412.2L60.7 412.1L62.6 413.3L63.8 414.4L65.4 415.8L66.4 416.5L67.7 417.1L69.6 417.5L70.8 418.1L72.4 419.5L74.1 420.2L75.8 421.3L76.8 422.0L77.9 421.8L79.4 421.4L81.0 421.3L82.1 421.1L83.4 420.6L85.4 420.4L87.3 419.6L89.3 419.3L91.4 419.9L92.9 419.9L94.2 420.4L95.5 421.3L96.4 422.0L98.2 421.1L99.0 420.3L100.0 419.3L101.5 418.1L102.4 417.1L104.0 416.2L105.4 415.7L107.4 415.5L108.6 415.1L109.8 414.6L110.9 414.2L112.5 413.0L113.7 413.0L115.3 412.5L116.5 412.3L117.9 412.1L118.1 413.8L118.3 415.2L118.6 416.5L118.8 417.5L120.5 417.9L121.6 418.2L123.2 419.3L124.2 420.1L125.4 420.7L126.3 422.1L126.8 422.9L127.5 423.8L128.0 425.2L128.5 426.6L128.6 428.2 M38.4 408.6L37.9 410.1L37.8 411.6L37.0 412.7L36.6 413.9L38.0 415.5L39.8 416.3L41.6 417.1L42.9 417.5L44.3 417.8L45.7 418.0L47.4 419.2L48.6 419.7L50.5 420.2L51.8 420.8L53.6 422.0L55.5 421.6L56.9 421.7L57.8 422.2L59.0 422.3L61.0 423.0L62.1 423.6L63.0 424.0L64.3 424.6L65.9 424.9L68.5 424.5L70.1 424.9L71.3 425.4L72.2 426.0L73.5 426.2L75.0 426.4L76.2 425.1L77.6 424.0L78.6 423.8L77.8 423.0L76.8 422.0 M82.1 421.1L81.1 422.5L81.1 423.3L80.4 424.6L82.0 425.2L83.6 425.4L84.8 426.1L85.7 426.4L87.0 426.5L89.3 426.3L90.5 425.9L91.4 425.7L92.8 425.7L94.6 426.4L95.5 425.2L96.1 424.2L97.3 422.9L96.4 422.0 M78.6 423.8L77.7 430.0 M97.3 422.9L99.4 423.3L100.6 423.1L101.8 423.8L103.6 424.6L104.8 424.9L106.4 424.5L108.1 423.8L109.2 423.1L110.7 422.9L112.3 423.0L113.3 423.2L115.4 422.7L116.4 423.3L117.9 423.8L119.2 422.9L120.0 422.6L121.4 421.5L122.6 420.1L123.2 419.3 M94.6 426.4L92.9 431.8 M231.8 357.0L230.4 356.8L229.4 355.5L228.8 354.6L227.9 354.0L226.8 353.2L228.3 352.1L229.4 350.3L230.4 349.6L231.5 349.0 M176.8 268.4L177.0 266.9L177.8 265.8L177.7 264.2L178.3 263.0L178.8 261.9L179.5 260.4L179.8 258.2L180.1 256.6L180.1 255.7L181.6 253.6L182.9 252.4L183.3 251.2L183.9 249.6L184.5 248.7L185.3 247.8L186.6 247.0L186.6 249.1L186.9 250.4L187.1 251.4L186.3 252.6L185.8 253.8L185.2 254.5L184.6 256.3L184.6 257.5L183.9 259.5L182.8 261.1L182.4 262.0L182.2 263.9L181.5 264.6L180.9 266.0L180.4 267.5L178.7 268.7L177.7 270.2L176.8 268.4 M138.4 273.8L140.2 274.6L140.0 275.8L139.1 277.5L139.1 278.8L139.3 280.0L138.1 279.1L137.5 278.2L137.9 276.7L138.0 275.6L138.4 273.8 M232.1 280.7L232.6 279.9L233.6 278.6L234.3 277.2L235.1 276.2L235.9 274.6L237.1 273.2L238.0 271.6L238.7 269.9L238.9 268.4L239.9 266.9L240.7 266.1L242.5 265.2L244.4 264.6L245.7 263.8L246.9 263.4L247.9 262.5L249.6 262.2L250.9 262.4L252.2 262.5L253.5 262.4L254.8 262.4L256.8 261.6L257.8 262.0L259.1 262.2L261.1 262.8L262.9 263.9L264.4 264.4L265.7 264.3L266.6 265.2L267.3 266.1L268.6 266.9L269.2 267.6L270.3 268.4L271.1 269.6L272.2 271.0L273.5 272.8L273.6 273.7L273.7 275.1L274.6 276.8L275.7 277.9L275.9 279.1L276.5 280.5L276.7 281.9L277.3 283.9L278.0 284.7L279.2 285.4L280.4 286.0L282.3 286.9L283.6 287.5L285.1 288.3L286.7 288.9L288.6 289.5L290.7 289.3L291.1 290.3L291.6 291.3L292.1 292.6L293.0 293.6L293.3 294.7L294.3 296.4L296.2 297.0L297.4 296.9L298.3 297.7L299.6 298.2L301.1 298.2L303.0 298.0L305.0 297.3L305.7 298.7L307.0 300.1L307.6 300.8L308.6 301.8L308.7 303.0L308.9 305.1L309.5 307.1L308.4 308.8L307.6 310.0L306.8 311.6L305.8 312.6L304.6 313.2L302.7 313.7L301.4 314.3L300.0 315.1L298.3 315.5L297.0 316.0L296.1 316.1L295.3 317.3L295.1 318.3L294.8 319.5L294.3 321.4L293.9 322.4L293.2 324.2L292.8 325.6L292.5 326.8L291.7 328.5L290.7 330.4 M290.7 330.4L292.2 329.4L293.7 328.9L294.9 328.5L296.3 327.8L297.9 326.8L298.8 327.5L300.4 327.9L301.9 328.1L303.2 328.6L304.5 327.6L305.6 327.0L307.3 326.7L308.9 325.9L310.4 325.0L312.2 323.5L313.0 322.4L313.2 321.4L313.9 320.0L316.1 318.6L317.7 318.0L318.5 316.8L319.3 316.1L321.2 315.2L322.2 314.0L323.5 312.9L324.3 311.5L326.0 309.3L327.0 308.3L328.2 307.1L329.5 306.0L330.8 304.7L331.4 303.5L332.2 301.5L333.2 300.3L333.7 298.9L334.6 297.6L335.4 296.4L336.9 294.7L337.7 293.4L338.5 292.2L338.7 291.4L339.9 289.6L340.2 288.5L340.7 287.5L341.3 285.7L341.5 284.7L341.8 283.5L341.9 281.9L342.1 280.9L342.1 279.6L342.5 278.6L343.0 277.5L343.2 275.9L343.2 274.1L343.3 273.0L343.4 271.4L344.2 270.5L345.1 269.2L345.3 267.4L346.1 266.1L345.4 264.1L345.1 262.6L344.3 260.7L342.7 259.6L341.1 258.5L339.9 257.8L338.9 257.1L336.9 256.9L335.2 256.5L333.6 256.8L332.8 257.9L332.0 258.3L331.1 259.7L330.0 260.7L328.3 259.8L327.3 258.9L326.4 257.6L325.2 256.3L324.6 255.4L323.6 254.5L322.6 254.2L321.1 253.6L319.3 253.1L317.5 253.2L319.1 252.5L319.8 251.4L321.1 250.0L322.0 249.2L323.7 248.3L325.7 247.9L326.3 246.9L326.9 245.4L328.7 243.7L330.0 242.9L331.4 242.2L332.9 241.3L333.9 240.4L334.6 239.5L335.3 238.5L336.0 237.4L337.1 236.6L338.8 235.4L339.6 234.7L341.0 233.7L342.2 233.3L343.1 233.0L344.3 232.1L345.5 231.8L346.6 231.8L347.4 231.5L348.7 230.8L350.2 230.2L351.4 229.3L352.8 228.9L355.0 228.6L356.1 228.3L357.4 228.5L359.3 228.2L361.0 227.7L363.3 226.6L364.4 226.6L365.7 226.8L367.0 226.3L368.2 226.4L369.6 226.5L371.5 225.8L372.7 225.8L374.2 225.4L375.2 225.0L376.4 224.1L377.9 223.6L379.4 223.3L381.5 223.1L383.5 223.4L385.4 223.2L386.4 223.6L387.5 224.3L388.7 224.9L389.8 225.2L391.7 225.1L392.8 225.2L394.3 225.9L395.8 226.5L397.1 227.6L397.9 228.2L399.4 227.4L401.4 226.8L403.6 226.6L404.7 226.3L405.6 226.1L407.1 225.8L408.6 225.0L409.7 224.9L411.2 224.0L412.2 223.3L413.9 222.9L415.3 224.1L416.1 224.5L417.5 225.0L418.9 224.7L420.6 224.2L422.2 223.2L423.7 222.9L424.6 222.9L425.8 222.0L427.5 221.2L429.3 220.9L430.4 220.3L431.8 219.6L432.8 218.9L433.9 218.4L435.2 217.1L436.8 216.3L437.6 215.8L438.8 215.3L440.7 215.2L441.7 215.9L442.6 216.4L444.3 217.0L445.4 215.6L446.7 214.0L448.1 213.4L449.6 212.5L451.8 212.3L453.3 211.4L454.8 210.1L456.0 209.5L456.8 208.9L457.8 208.2L458.9 206.6L460.0 205.5L460.4 204.5L461.8 204.6 M324.6 251.8L329.1 251.4L329.1 253.2L324.6 253.6L324.6 251.8 M453.2 219.6L451.8 220.2L451.1 220.7L450.0 221.5L449.2 222.8L448.1 223.0L447.0 223.3L445.3 224.1L444.3 225.0L443.3 225.3L441.6 225.1L440.1 225.7L438.3 226.7L436.9 227.3L435.4 228.6L433.2 229.0L431.7 229.9L430.5 230.2L429.6 231.6L428.8 232.3L428.1 233.1L426.4 233.9L425.8 235.0L424.4 236.2L423.0 237.8L422.0 238.9L421.9 239.9L421.2 241.0L420.2 242.9L420.6 244.9L420.3 246.5L420.2 248.0L420.6 249.6L420.4 251.7L421.1 253.6L421.2 254.6L421.1 255.8L421.3 257.3L422.1 259.7L422.4 260.6L423.0 262.3L423.2 264.5L422.9 266.1L423.0 267.7L423.1 269.0L423.8 270.4L424.2 271.9L423.9 273.9L423.6 275.0L423.8 276.8L422.7 277.7L421.9 278.8L420.4 279.9L419.3 280.4 M453.2 219.6L453.0 221.2L453.0 222.1L453.1 223.4L453.9 224.8L453.5 225.9L453.1 227.1L453.0 229.0L453.2 230.4L454.3 231.8L455.2 232.4L456.6 232.6L457.3 233.1L458.6 233.9L457.5 235.6L457.2 237.7L457.1 239.0L456.8 239.8L457.0 241.3L456.8 242.9L456.4 244.3L456.4 245.3L455.4 246.8L454.3 248.6L453.3 250.1L452.2 251.1L451.4 251.8L450.8 253.1L450.4 253.9L449.1 254.9L448.1 255.8L447.1 256.7L446.3 258.0L445.1 258.2L444.3 258.9L442.9 260.1L442.1 261.2L440.9 262.5L439.4 263.7L438.7 264.9L437.1 266.1L435.7 267.7L434.4 268.5L433.2 269.8L432.4 271.5L431.1 272.4L430.0 273.2L428.7 274.2L427.9 274.7L427.0 275.8L425.6 276.9L423.8 277.7 M458.6 222.9L461.0 222.4 M353.2 257.1L354.0 259.1L354.2 260.6L355.0 262.5L355.1 263.8L354.8 265.7L355.1 267.5L355.5 268.6L356.1 269.5L356.8 271.4L357.4 272.7L357.8 273.6L358.2 275.6L358.0 276.9L358.5 278.4L359.5 280.4L359.8 281.9L360.4 283.4L361.4 284.8L362.1 285.7L362.6 287.6L363.0 289.3L362.1 288.8L360.6 288.1L358.6 287.5L356.8 288.4L355.0 289.3L354.6 290.4L353.5 292.2L353.6 293.2L353.5 295.0L353.2 296.4L353.3 298.6L353.9 299.7L354.1 300.9L354.6 302.6L355.0 303.6L356.2 304.9L357.3 306.2L357.7 307.1L356.3 306.9L355.1 307.0L353.2 307.1L352.8 306.0L352.8 304.9L352.0 303.2L351.5 301.5L350.5 300.0L350.6 298.9L350.5 297.2L350.6 296.4L350.6 294.8L350.2 292.8L350.3 290.7L350.0 289.3L350.0 288.2L350.1 286.7L349.7 284.6L349.7 283.5L349.5 281.8L349.8 280.4L350.5 278.6L350.5 276.5L350.4 274.9L350.1 273.5L349.6 272.8L349.8 271.7L349.8 270.4L349.9 269.2L349.6 267.9L350.1 266.3L350.9 265.5L351.3 264.3L351.6 263.1L351.5 262.1L351.4 260.7L352.5 259.3L352.9 258.4L353.2 257.1 M347.9 312.5L349.6 312.2L351.1 311.9L353.2 311.6L354.2 312.2L355.6 313.0L356.9 314.1L357.4 315.0L358.6 316.1L359.3 316.7L360.7 317.4L362.2 317.5L363.1 317.8L364.5 318.4L365.7 319.6L366.9 319.2L368.7 318.7L369.6 318.8L371.1 318.8L370.3 319.7L369.4 320.4L369.3 321.5L368.4 323.2L367.6 324.5L366.7 325.2L365.5 326.0L363.9 326.8L362.5 328.2L361.5 329.0L359.9 330.3L359.1 331.4L358.6 332.1L357.0 332.6L355.0 333.0L353.2 331.8L351.5 330.6L350.8 330.0L349.6 328.6L347.9 328.4L346.6 328.0L345.3 328.1L344.3 328.6L343.3 330.3L341.5 331.2L340.7 332.1L340.3 331.2L339.8 330.0L338.9 328.6L340.1 327.5L341.5 326.6L342.5 325.0L343.9 324.3L345.0 323.1L346.0 322.5L347.0 321.4L346.8 319.6L347.0 318.6L346.5 317.0L346.9 316.2L347.6 314.8L347.6 313.4L347.9 312.5 M344.3 337.5L345.6 338.9L346.5 339.9L347.9 341.1L347.7 342.0L347.7 343.6L348.1 344.7L348.5 345.7L348.6 347.2L348.8 348.2L348.6 349.3L348.0 350.3L347.2 351.9L346.6 353.6L346.1 355.4L346.1 356.5L345.8 357.8L345.7 359.0L345.9 361.1L344.7 362.8L344.3 364.3L344.2 365.6L343.6 366.9L342.8 368.2L342.3 369.4L342.5 371.4L341.1 372.5L339.9 372.7L339.1 373.8L338.2 374.6L337.1 375.0L335.6 375.5L334.6 375.9L332.8 376.0L331.8 376.3L330.0 376.8L328.0 377.0L326.4 377.4L325.4 377.9L324.0 378.2L322.9 378.6L321.6 377.6L320.7 377.3L319.3 376.8L317.2 377.4L315.6 378.5L314.9 379.4L313.9 380.4L312.7 380.6L311.0 380.4L309.5 380.5L308.6 380.4L306.8 380.9L305.3 381.7L303.2 382.1L301.8 382.8L301.0 383.6L299.5 384.2L297.9 385.7L296.7 386.0L295.5 386.4L294.0 386.7L292.5 387.5L290.7 388.4L288.9 389.3 M344.3 337.5L343.1 338.5L342.3 339.2L341.2 340.3L340.7 341.1L340.3 343.2L340.3 344.3L340.3 345.4L339.6 346.9L338.9 348.2L338.0 349.9L337.4 351.4L336.8 352.2L335.8 353.5L335.4 355.4L334.8 356.0L334.4 357.4L333.4 358.5L332.5 360.0L331.8 360.7L330.4 361.9L329.1 362.7L327.6 363.3L326.4 364.3L325.4 365.1L323.7 366.1L322.2 367.2L321.6 368.1L321.1 369.6L319.5 370.2L317.7 370.2L316.6 371.1L315.7 371.4L314.1 371.2L313.1 371.0L311.0 371.3L309.5 372.0L308.6 372.3L306.9 373.4L305.8 373.9L304.7 373.8L303.2 374.1L302.1 374.3L300.6 374.9L299.5 375.8L297.9 376.8L296.7 378.5L295.2 378.8L294.4 379.4L293.4 380.4L292.0 381.9L290.8 383.2L288.9 383.9L288.1 385.5L287.9 386.6L287.1 388.4L288.9 389.3 M288.9 389.3L290.0 390.2L290.5 391.2L291.6 392.9L292.1 393.5L293.3 394.3L293.7 395.4L294.3 396.4L293.8 397.6L293.3 399.5L293.4 400.4L293.4 401.8L292.1 401.2L290.7 400.9L289.9 398.9L289.5 397.2L288.9 396.4L288.9 395.4L288.5 394.0L287.4 392.9L287.1 392.0L288.3 390.8L288.9 389.3 M300.5 385.7L301.3 385.3L302.6 384.8L304.2 384.7L305.4 384.1L306.8 383.9L307.8 384.6L309.0 384.8L310.2 385.0L312.1 384.8L311.0 386.3L309.3 387.3L308.6 388.4L307.2 388.6L306.2 389.2L304.9 389.6L303.8 389.5L302.3 389.3L302.0 387.8L301.5 387.1L300.5 385.7 M258.6 346.4L259.8 345.8L261.0 345.1L262.5 344.6L263.9 344.6L266.0 343.8L267.1 342.7L268.0 342.2L269.3 341.1L270.9 340.1L271.6 339.4L273.2 338.0L274.6 337.5L275.5 336.7L277.5 336.0L279.4 334.8L280.8 334.4L281.8 333.9L283.5 332.7L285.3 331.8L286.6 331.5L287.5 331.4L288.8 331.3L290.7 330.4 M290.7 330.4L290.0 331.8L288.7 333.4L288.5 335.0L287.8 336.1L286.8 337.5L286.0 338.6L285.4 339.3L285.0 340.1L284.3 341.5L284.2 343.4L282.9 345.2L281.8 346.4L281.2 348.1L280.8 349.4L280.3 350.3L279.8 351.8L280.0 353.2L280.0 354.5 M258.6 346.4L260.2 347.5L262.0 348.5L262.8 349.5L264.1 350.8L265.7 351.8L266.7 352.8L267.7 353.9L269.0 354.9L270.0 356.2L270.2 357.1L271.4 356.9L272.9 357.1 M272.9 357.1L273.9 356.5L275.4 355.6L277.1 355.2L278.0 355.1L280.0 354.5L280.8 355.6L281.4 356.4L282.6 357.1L284.0 358.1L284.5 358.9L284.6 360.5L284.4 362.5L284.6 363.9L285.4 365.4L285.8 366.9L286.2 367.9L286.3 368.8L286.4 370.4L285.9 371.6L285.8 372.9L285.4 374.3L285.4 375.9L285.4 376.8L284.2 377.4L283.5 378.3L282.4 379.5L281.8 380.4L280.2 380.7L279.2 381.1L277.3 380.8L275.5 381.2L273.9 380.9L272.6 380.3L271.1 380.4L270.6 378.4L270.2 376.8L270.2 375.0L270.8 373.1L271.7 372.0L271.8 370.8L272.0 369.6L271.3 368.3L271.2 367.2L271.1 365.9L270.8 364.8L270.2 363.4L270.9 361.9L272.2 360.5L272.3 359.2L272.9 357.1 M232.1 353.9L233.2 353.1L234.2 352.7L235.4 351.8L236.6 350.4L237.4 349.7L238.3 348.7L238.9 346.3L239.5 345.1L240.2 343.7L240.7 342.9L242.0 342.5L243.4 341.8L244.4 341.6L246.1 341.1L247.7 341.5L248.7 342.2L249.6 342.9L248.8 343.7L248.0 344.8L247.8 345.8L247.0 346.9L246.1 348.2L244.7 349.8L243.8 350.5L243.1 351.6L242.0 352.9L240.7 353.6L242.4 353.6L244.4 353.2L245.8 353.0L247.0 352.3L247.9 351.8L249.5 351.0L250.4 349.9L251.6 348.9L253.2 349.0L255.0 348.2L256.8 347.7L257.8 346.7L258.6 346.4 M232.4 366.7L234.1 365.4L235.8 364.7L237.1 364.3L238.5 364.2L240.0 363.3L241.5 363.1L242.4 362.6L244.3 361.6L246.5 361.9L247.7 361.8L248.8 361.4L250.4 361.5L251.4 361.6L251.0 362.8L250.7 363.9L250.5 365.2L248.9 365.8L247.9 366.5L245.8 367.2L244.5 367.2L242.5 367.9L241.2 368.5L240.5 368.8L239.3 369.6L238.0 370.4L237.0 370.6L235.4 371.4L234.2 371.6L232.7 372.8 M232.1 375.9L233.0 376.5L234.0 377.0L235.4 378.6L236.2 379.6L237.0 380.9L237.4 382.2L238.1 382.9L238.9 383.9L239.5 385.0L240.1 386.6L240.6 387.9L240.7 389.3L240.9 390.7L241.9 392.4L243.1 393.6L244.3 394.6L245.1 395.9L245.8 396.3L246.4 397.2L247.9 398.2L247.4 399.9L246.6 400.9L246.0 402.3L246.3 404.1L246.1 405.4L246.4 406.3L246.8 408.2L247.0 409.5L247.9 410.7L247.5 412.1L247.1 414.0L246.7 414.9L245.8 416.1L245.1 416.9L244.3 417.9L243.6 419.3L243.1 420.6L242.5 422.3L241.5 423.7L240.7 425.0L239.9 426.1L239.1 427.6L238.8 429.2L238.0 430.4 M372.9 316.1L378.2 313.4 M380.0 312.5L383.6 311.6 M390.7 308.0L394.3 306.8 M398.8 302.7L402.3 300.9 M406.8 294.6L408.6 292.9 M411.2 289.3L413.9 286.6 M416.6 283.0L419.3 280.4 M290.7 405.4L292.5 403.6 M285.4 417.9L287.1 416.1 M277.3 430.4L280.0 427.7 M270.2 386.6L272.9 387.1 M430.0 152.3L431.2 153.1L432.4 153.1L434.0 152.8L435.4 153.4L437.1 153.2L437.7 154.3L438.7 155.1L439.7 155.8L440.7 156.8L442.1 158.1L444.3 158.6L445.3 159.0L446.1 160.2L447.1 161.5L447.9 162.1L446.8 163.5L446.1 165.3L446.0 166.3L446.1 167.5L447.5 166.3L448.4 165.1L449.6 163.9L451.5 162.8L452.1 161.9L453.2 161.2L454.3 160.9L455.4 159.9L456.4 159.3L458.0 159.0L459.5 159.2L461.1 159.0L462.1 159.5L463.7 158.7L464.9 158.4L466.5 158.2L468.1 157.9L470.0 158.0L471.6 158.7L472.9 158.6L474.7 158.4L475.8 158.6L477.2 159.6L479.0 159.7L480.0 159.2L481.8 159.5L483.2 160.3L484.2 161.5L485.4 162.1L486.5 163.4L486.7 164.5L487.8 165.1L488.9 165.7L490.6 164.7L492.5 163.9L493.1 162.5L494.0 160.5L495.0 159.8L496.1 158.6L498.1 158.2L499.4 158.7L501.6 159.1L503.2 158.0L505.0 157.7L506.2 158.0L507.5 159.0L509.1 158.7L511.7 158.6L512.8 158.6L514.0 158.9L515.7 158.6L517.8 159.3L519.1 159.2L520.0 159.5L521.6 159.1L522.6 159.4L524.4 159.2L525.3 159.5L526.4 160.4L528.2 160.6L529.9 160.8L530.9 161.7L533.0 162.6L535.0 163.2L537.1 163.0L539.1 163.5L539.9 164.3L540.8 165.1L541.7 166.6L543.6 167.0L544.7 167.5L546.1 167.5L548.0 167.6L550.2 167.8L550.9 168.2L552.1 169.0L553.2 169.8L554.1 170.6L555.0 171.1L556.9 171.9L558.4 172.5L560.0 172.4L560.6 173.5L562.1 174.6L563.1 174.9L564.1 176.0L565.5 176.4L567.5 176.8L568.4 177.2L569.3 178.2L570.3 179.4L571.1 180.9L571.6 179.0L572.9 177.3L574.7 178.1L576.5 178.3L578.2 178.2L579.6 177.9L580.7 177.5L582.2 177.7L584.1 177.0L585.4 177.3L586.8 177.6L587.6 178.1L589.0 179.1L590.7 180.0L592.2 181.1L593.5 182.5L594.8 182.8L596.1 183.6L597.4 184.7L598.4 185.4L599.6 187.1L599.0 188.5L598.6 190.5L598.2 192.0L598.5 192.8L598.8 194.3L598.2 196.4L597.3 197.3L596.6 198.2L596.1 199.6L597.8 200.9L598.5 202.1L598.8 203.2 M537.1 151.4L538.7 150.7L539.7 150.4L541.0 150.5L541.5 149.5L542.5 148.8L543.7 148.9L545.4 148.2L547.3 148.7L548.6 148.5L549.9 148.9L551.4 148.2L552.3 148.8L553.0 149.8L555.0 150.5L553.5 150.7L552.2 151.6L551.1 151.9L549.4 152.7L547.9 153.2L547.0 153.2L545.5 152.8L543.7 153.6L541.9 153.5L540.7 153.6L539.2 152.8L538.5 152.1L537.1 151.4 M598.8 203.2L597.0 203.1L595.4 202.1L593.7 202.3L592.4 202.4L590.7 201.4L589.4 200.3L588.4 199.8L586.9 199.2L585.6 199.4L583.6 198.8L581.5 198.6L580.1 198.4L579.4 197.8L578.3 197.2L577.3 197.0L576.4 196.1L574.7 195.9L573.7 195.9L571.8 194.8L570.4 194.3L569.3 194.3L567.7 194.2L566.2 194.7L565.6 195.4L564.2 196.1L562.1 196.1L560.2 196.4L559.0 195.7L557.4 195.3L555.8 194.9L555.0 194.3L553.5 193.5L552.5 193.1L550.8 191.8L549.5 191.1L547.9 190.7L547.5 188.7L548.1 187.1L546.9 185.6L546.1 183.6L547.5 181.9L548.8 180.9L548.7 182.1L548.1 183.1L547.4 184.1L546.1 185.1L545.2 186.0L544.3 187.1L544.0 188.9L544.1 190.6L544.0 192.7L544.3 194.3L543.7 195.1L542.8 196.2L541.6 197.7L540.7 199.6L539.2 199.9L538.1 200.5L537.3 201.7L535.9 201.7L535.0 202.1L533.6 203.2L532.6 203.5L531.3 204.2L529.2 204.4L527.5 205.1L526.4 205.0L525.3 205.8L524.3 207.1L523.5 207.8L522.5 208.5L521.0 208.9L520.2 209.8L519.3 210.4L517.8 210.7L516.1 211.9L514.3 212.7L512.9 212.6L511.9 213.0L510.4 213.9L508.8 213.7L507.8 213.5L506.3 213.9L504.8 214.6L503.8 215.1L502.7 215.1L501.4 215.7L500.5 216.2L499.1 216.8L497.2 217.9L495.8 218.1L494.7 218.7L492.3 217.5L490.7 217.5L489.1 217.7L488.1 218.0L486.2 219.0L484.5 219.0L483.6 218.4L481.8 219.4L479.8 220.1L478.7 219.8L476.8 220.2L475.6 219.6L474.6 219.3L473.5 219.1L472.2 219.6L470.7 220.8L469.2 220.9L468.3 221.4L467.0 221.4L465.7 221.1L463.6 221.1L462.1 222.0 M462.9 204.9L469.3 204.6 M481.8 159.5L482.0 161.6L483.1 162.8L483.6 163.9L484.5 164.7L485.7 165.2L487.5 165.3L488.9 165.7 M660.9 151.7L659.4 152.2L658.1 153.0L656.1 152.4L655.1 152.8L653.2 153.2L651.6 152.9L650.5 153.2L649.0 153.0L648.1 153.4L646.9 154.5L645.6 155.1L644.3 155.0L643.2 155.1L642.0 155.5L640.6 155.8L639.5 155.5L638.3 156.3L637.3 157.0L635.4 157.7L634.0 157.1L632.9 156.9L631.8 157.3L630.2 158.4L629.3 159.5L627.8 160.1L626.4 160.4L624.8 161.3L623.7 161.8L622.1 163.0L620.7 163.4L619.3 163.9L617.8 163.7L616.1 164.4L614.4 164.9L613.5 165.7L613.0 166.3L612.1 167.5L614.0 168.6L614.8 169.4L615.7 171.1L616.7 171.4L618.0 171.4L619.5 172.2L620.8 173.0L622.3 174.0L623.0 174.6L624.6 174.6L626.4 175.0L627.6 175.5L629.0 176.5L630.0 177.1L631.8 177.3L632.7 177.8L633.9 177.8L635.7 177.3L636.8 177.6L638.0 178.0L638.9 179.1L637.5 180.6L636.0 181.0L635.4 181.8L633.6 181.8L631.9 181.8L630.7 182.5L629.5 182.4L628.2 182.4L626.4 182.7L625.4 183.2L624.2 183.6L622.4 184.6L619.6 185.0L618.0 184.9L617.3 184.2L615.7 183.6L614.1 184.1L613.2 184.5L611.4 185.2L610.4 184.9L608.6 185.4L606.5 185.7L605.0 186.2L606.9 187.3L607.9 188.4L608.8 188.7L610.4 188.9L612.4 189.7L614.3 190.3L615.5 191.2L617.0 190.8L617.9 190.6L619.3 190.7L620.4 190.8L622.1 190.0L623.4 189.9L625.6 190.4L627.0 191.3L628.6 191.5L630.0 191.6L631.6 191.9L633.0 192.7L634.1 192.8L635.5 192.6L637.2 192.9L638.1 193.3L638.9 194.3L639.7 196.2L640.7 197.9L639.3 198.9L637.7 199.6L635.7 200.0L634.7 200.5L633.6 201.4L631.9 202.8L630.9 203.7L628.8 204.5L626.6 205.1L625.2 204.9L623.9 205.1L622.9 205.0L621.8 205.6L620.9 206.3L619.0 206.5L618.0 207.6L617.5 208.6L617.4 210.2L616.7 211.6L616.0 212.9L615.7 213.9L616.8 215.4L617.5 216.2L618.6 216.6L619.3 217.5L620.3 218.8L621.4 219.6L623.4 220.1L624.8 220.6L626.4 221.1L627.6 222.3L628.2 223.2L630.2 223.8L631.8 224.6L632.6 225.4L634.0 225.8L634.3 227.2L635.4 228.2L636.8 228.5L637.6 229.1L639.1 229.3L641.0 228.8L642.1 229.3L644.3 229.1L645.6 228.7L646.7 229.0L648.1 228.5L649.1 228.2L650.7 227.7L651.8 227.8L653.2 228.2L654.3 227.8L655.4 227.6L656.7 227.6L658.4 226.8L660.4 226.4L659.5 227.4L659.2 229.5L658.9 230.7L658.6 231.8L657.8 233.3L656.6 235.0L656.1 235.9L655.0 237.1L653.7 238.1L652.6 238.6L651.5 238.7L650.4 239.5L649.6 240.7L648.9 242.6L648.4 243.5L646.7 244.5L645.4 245.5L644.3 246.1L643.0 247.4L642.2 247.8L640.9 248.4L640.1 249.0L638.9 249.6L640.0 249.3L641.7 248.8L643.2 248.7L644.3 248.8L645.6 247.9L647.5 247.0L648.8 246.1L650.0 245.0L651.3 244.4L653.2 244.3L653.9 243.3L654.9 242.0L656.2 241.5L657.6 240.5L658.9 240.2L660.3 240.1L661.0 239.6 M609.5 220.2L610.5 219.9L611.7 219.9L612.8 219.3L613.9 218.4L614.9 220.1L616.6 221.1L614.5 221.7L613.5 222.3L612.1 222.9L610.8 221.3L609.5 220.2 M579.1 216.6L581.8 217.1 M472.0 250.5L475.5 252.3 M478.2 252.3L480.0 253.6 M505.0 263.9L509.5 265.4 M522.9 268.4L524.6 269.3 M530.0 270.7L533.6 271.4 M538.9 269.6L541.6 270.7 M553.2 272.0L558.6 271.4 M562.1 271.1L565.7 270.2 M572.9 268.9L578.2 267.9 M581.8 267.1L587.1 266.1 M590.7 265.4L597.9 263.9 M601.4 263.0L608.6 260.7 M624.6 251.4L628.2 252.3 M640.7 249.6L644.3 251.4 M662.6 151.1L663.9 151.9L664.8 152.3L666.0 152.2L667.2 152.3L668.9 151.8L670.0 152.0L671.4 153.0L673.1 153.8L674.7 153.8L676.0 153.8L677.9 153.6L679.6 153.6L680.8 152.7L682.5 152.7L683.8 153.2L685.0 153.9L686.8 154.5L688.2 154.8L690.5 155.2L692.5 154.5L694.1 154.7L695.7 155.4L696.6 156.6L698.4 157.2L699.8 157.7L702.3 157.8L703.2 157.8L704.4 157.0L706.4 156.8L707.5 156.9L709.1 157.4L710.5 156.7L711.6 156.4L713.7 156.7L714.7 157.2L716.1 157.6L717.1 157.5L718.0 157.3L719.6 157.2L721.4 157.2L723.3 157.1L725.5 158.0L726.9 158.1L727.9 158.0L729.4 157.6L730.8 157.1L731.7 157.1L732.9 157.3L734.7 157.8L735.4 158.5L736.8 158.9L738.3 159.2L739.8 159.4L741.2 160.7 M741.5 160.7L741.5 218.8 M741.2 160.7L742.5 161.3L743.9 161.9L745.8 161.5L747.2 161.7L749.3 161.6L750.6 162.6L751.7 163.0L753.6 162.8L755.6 163.3L757.2 162.8L758.1 162.9L760.0 163.4L761.1 163.8L763.0 164.4L764.2 164.6L766.3 165.0L768.2 164.6L769.7 164.5L770.7 164.3L772.0 163.6L774.0 163.9L775.6 163.2L776.6 163.0L777.9 162.5L778.8 162.7L780.3 162.3L782.0 161.7L783.5 160.6L785.0 159.8L786.5 159.1L788.0 158.1L789.9 158.4L791.2 158.3L792.1 158.0L793.5 158.0L794.7 158.2L796.3 158.0L797.5 158.4L799.3 158.9L800.6 158.6L801.5 159.0L802.9 158.8L803.8 157.7L806.0 156.9L807.2 155.9L808.2 155.4L809.6 156.3L810.3 157.2L812.1 158.1L813.6 158.9L814.4 159.7L815.8 160.6L816.4 161.2L817.1 162.5L819.2 162.3L820.2 161.4L821.6 160.7L822.9 159.2L824.3 158.0L826.3 158.6L827.9 158.7L828.9 158.5L829.7 159.2L831.4 159.8L833.5 160.3L835.0 159.7L836.4 160.4L837.2 160.6L838.6 161.6L840.3 161.4L841.2 161.8L842.4 162.0L843.6 162.2L845.7 162.5L847.5 162.0L848.6 162.4L850.0 163.2L851.3 163.4L852.9 163.4L854.3 164.1L856.1 163.8L858.0 164.8L859.7 164.7L861.8 164.3L863.5 164.8L864.9 164.9L866.5 166.1L867.8 166.1L869.2 166.7L870.7 166.1L871.7 166.6L873.1 167.6L875.2 167.8L876.6 167.6L877.9 167.9L879.5 168.6L880.8 169.4L882.6 169.6L883.3 168.9L885.0 168.8L886.4 168.7L887.8 169.5L889.9 170.1L891.0 170.5L892.1 170.5L893.2 170.0L894.8 170.3L895.7 170.7L897.2 171.0L899.3 171.4L900.2 171.9L901.7 171.8 M824.3 132.1L825.5 131.7L826.5 131.0L827.5 131.1L829.0 131.3L830.8 131.8L832.4 131.5L833.9 131.0L835.0 131.2L836.7 132.0L838.3 132.0L839.6 131.7L840.5 131.6L841.9 132.0L843.0 132.3L844.1 132.6L845.7 132.1L847.5 132.6L849.3 132.5L850.5 132.1L852.7 132.3L854.3 132.6L855.2 133.1L856.4 133.0L857.6 133.4L858.9 133.2L859.8 133.7L861.0 133.9L861.7 134.3L863.1 134.8L863.8 135.4L865.4 135.7L866.5 135.5L867.6 135.7L869.3 136.3L870.6 136.5L872.4 137.3L874.3 138.4L872.9 140.0L871.9 141.4L870.7 142.0L869.5 143.0L868.0 143.5L866.3 143.7L865.0 143.1L864.1 142.9L862.9 143.0L861.8 142.9L860.5 143.2L859.4 143.5L857.9 143.2L856.2 144.2L855.0 144.4L853.7 144.9L852.9 144.6L851.6 144.6L849.6 145.2L847.9 146.4L846.1 146.5L845.0 145.6L843.9 145.5L842.0 145.6L840.5 146.2L839.7 146.9L838.2 147.1L837.0 147.1L835.0 147.3L834.0 147.2L832.8 146.9L831.3 146.4L830.3 147.0L828.7 147.9L827.1 148.5L826.1 148.2L824.2 148.2L823.2 148.4L821.7 148.1L820.7 147.7L818.9 147.3L817.7 146.0L817.1 144.6L818.6 143.1L819.6 142.1L820.7 141.1L821.0 139.0L822.0 137.7L823.4 136.6L823.6 135.0L824.2 134.0L824.3 132.1 M852.9 144.6L854.9 144.2L856.2 144.3L857.7 145.5L859.1 144.7L860.7 144.5L861.8 143.8L863.1 143.8L864.8 144.0L866.8 144.0L868.5 143.8L869.4 143.4L870.7 142.9L872.2 142.6L872.8 142.1L874.0 142.5L875.0 142.4L876.0 142.5L877.7 142.1L879.6 142.0L881.1 141.9L883.0 141.5L884.1 141.6L885.4 141.5L886.6 142.3L888.6 142.9L889.8 143.1L890.8 143.2L892.0 142.4L893.7 142.3L895.8 142.5L897.5 142.0L898.9 142.4L900.3 141.9L901.3 141.6 M852.9 144.6L853.8 145.8L853.9 148.0L855.2 148.4L856.4 150.0L858.2 150.9L859.8 150.9L861.5 152.1L862.6 152.8L863.8 153.1L865.4 153.6L866.9 154.1L867.9 154.5L869.1 154.9L870.8 155.0L871.7 154.4L873.0 155.2L874.3 155.4L875.2 155.4L876.5 155.9L878.2 155.8L880.4 155.2L882.3 154.9L883.4 155.2L885.0 155.4L885.9 155.9L887.4 156.0L889.2 156.4L890.8 156.0L892.8 156.4L894.4 156.6L895.7 156.2L897.7 156.9L899.6 156.3L901.1 155.8 M833.2 120.5L835.0 120.4L836.7 119.9L837.5 119.1L838.7 118.5L840.4 118.7L842.1 117.9L844.0 116.7L845.5 116.8L846.8 116.7L848.6 117.4L849.8 117.4L851.2 116.7L852.9 116.1L853.7 115.5L855.2 114.7L856.7 114.7L858.0 114.8L859.7 114.8L861.8 115.2L863.3 115.5L864.2 115.5L865.1 115.1L866.4 114.8L868.4 114.0L869.2 114.4L870.7 114.3L871.5 115.6L872.5 116.4L874.3 117.0L872.6 117.2L871.4 117.2L869.7 118.1L868.8 119.0L867.1 119.6L866.1 120.5L865.2 120.9L863.5 121.9L861.6 121.6L860.0 122.3L858.7 122.2L857.4 121.8L855.2 122.2L853.7 122.6L851.6 122.2L850.4 122.3L849.3 123.2L847.5 122.6L846.4 121.7L845.5 121.8L843.8 121.9L841.7 122.2L840.4 123.2L838.5 123.7L837.1 123.2L835.5 122.7L834.7 122.1L833.2 120.5 M879.6 106.2L881.8 105.0L883.3 105.2L884.3 104.4L885.7 103.8L886.8 103.5L888.4 104.1L890.4 104.5L891.4 105.0L892.6 105.2L894.0 104.8L896.0 104.0L897.3 103.5L898.8 102.8L900.1 102.4L901.1 102.7 M901.7 109.1L900.6 109.5L899.8 110.4L899.0 111.0L897.3 111.1L895.6 110.9L894.2 111.3L892.1 110.7L890.3 110.5L889.1 111.0L887.8 111.1L886.8 110.8L885.8 110.8L884.5 110.7L883.2 109.8L882.6 108.7L881.6 107.1L879.6 106.2 M877.9 123.2L879.2 123.5L880.7 123.2L881.9 122.3L882.6 122.1L884.2 122.1L886.2 122.5L887.5 121.9L888.6 121.4L890.0 121.4L890.8 122.0L892.9 121.8L894.3 121.5L895.6 120.6L897.1 120.1L899.3 120.5L900.7 120.7L902.0 120.8 M881.4 126.8L882.5 126.8L883.8 127.0L885.0 127.1L886.1 126.8L888.2 126.5L889.7 127.0L891.0 127.6L892.1 128.6L893.2 128.4L894.3 128.3L895.6 128.7L896.9 128.4L898.6 128.2L899.5 128.0L900.4 127.3L901.7 127.0 M822.5 182.1L823.6 181.8L824.6 180.9L826.0 180.1L828.1 179.8L829.6 180.4L830.6 180.7L832.3 181.0L834.0 180.4L835.3 179.8L837.1 179.9L838.6 179.5L840.1 180.9L842.1 181.2L843.7 179.8L845.7 179.5L847.6 179.7L848.7 179.6L850.4 179.6L852.6 179.7L854.2 179.2L855.4 179.4L856.4 180.4L857.3 181.8L858.5 182.7L860.0 183.0L859.1 183.9L857.9 184.1L856.3 184.3L855.4 183.8L853.9 185.1L852.9 185.7L851.4 185.4L850.3 184.7L849.3 184.4L848.0 184.8L846.6 185.1L845.7 184.8L844.2 185.9L842.9 187.0L841.6 187.1L840.4 187.5L839.2 187.9L837.6 187.7L836.3 188.7L835.0 189.3L833.3 188.2L832.3 187.7L831.4 186.6L830.2 186.0L829.2 185.9L827.9 185.7L826.1 184.8L824.4 183.5L823.2 182.6L822.5 182.1 M863.6 214.3L865.5 213.4L867.0 213.0L868.1 212.6L869.0 211.8L870.7 210.7L872.1 209.8L874.3 209.6L875.2 208.9L876.2 207.5L877.9 207.1L879.2 207.7L880.0 207.7L881.5 207.7L883.4 207.4L885.0 206.2L887.1 206.3L888.8 206.0L890.8 205.6L892.1 204.5L893.0 204.2L894.6 204.5L896.2 203.7L897.4 203.5L899.3 203.6L900.8 203.7 M901.2 205.2L899.8 205.8L898.8 206.1L897.5 207.1L896.6 206.6L895.3 206.6L893.5 207.2L892.1 208.1L890.4 208.9L888.8 209.1L887.4 209.9L886.2 210.0L884.8 210.3L883.2 211.6L881.6 212.0L880.1 212.5L878.9 213.8L877.3 214.2L876.1 214.3L874.1 215.0L872.4 215.3L870.9 215.0L868.9 215.7L867.9 215.6L866.5 214.5L865.3 214.1L863.6 214.3 M662.7 238.4L664.3 237.9L665.4 237.5L666.4 236.4L667.5 235.0L669.5 234.3L670.7 233.9L671.9 233.1L672.9 231.4L673.8 230.5L674.3 228.6L675.1 227.3L675.7 225.6L676.1 224.4L677.9 223.2L679.5 222.8L680.3 222.1L681.9 220.6L683.2 219.6L684.1 218.6L684.9 217.4L686.6 216.7L688.6 216.1L689.8 215.0L691.3 214.7L692.4 213.0L694.3 213.2L695.7 212.5L695.9 213.9L696.6 214.9L697.5 216.1L696.7 216.6L695.4 217.9L693.6 219.1L692.1 219.6L690.4 220.8L689.1 220.9L688.1 221.4L686.8 221.4L687.9 222.8L688.4 224.1L690.4 225.0L691.9 223.9L692.7 222.8L694.4 222.2L695.7 221.4L697.1 219.9L698.0 219.8L699.4 219.0L700.1 218.4L701.5 218.0L702.9 217.9L703.3 217.0L703.9 215.9L705.3 214.8L706.4 214.3L707.9 215.1L709.2 215.6L710.8 215.4L711.9 215.8L713.6 216.1L715.2 216.0L716.6 216.0L718.0 217.2L718.9 217.5L720.7 217.9L722.3 218.3L723.2 218.9L724.3 220.5L726.3 221.3L728.0 221.5L730.1 221.1L731.4 221.4L732.7 221.1L733.7 220.3L734.7 219.3L736.7 219.4L738.4 218.6L739.6 218.7L741.2 218.8L743.2 218.7L744.6 219.1L745.4 219.6L746.6 220.2L747.5 220.3L749.3 221.4L750.9 221.6L752.3 221.9L753.5 223.5L754.5 224.4L756.4 225.0L757.9 225.5L759.5 226.1L761.2 227.0L762.3 227.2L763.6 228.6L764.7 228.1L765.9 226.7L766.5 225.6L768.1 224.8L768.9 223.2L769.8 224.7L771.0 225.9L772.3 226.9L773.3 227.7L774.3 228.6L775.7 230.1L776.1 231.9L777.0 232.9L777.4 234.1L777.9 235.7L779.2 236.7L780.4 237.7L781.1 238.9L782.5 239.8L783.2 241.1L784.4 241.7L785.7 242.5L786.5 244.3L787.5 245.3L788.6 246.4L789.2 248.2L790.2 249.0L792.0 249.8L792.8 251.2L793.9 251.8L794.9 252.5L795.9 253.6L797.6 254.6L798.5 256.3L799.3 257.1L799.9 259.2L800.8 260.0L802.1 261.6L803.7 261.9L804.6 262.5L804.6 264.1L805.0 265.4L805.5 266.1L807.0 267.7L807.5 268.8L808.2 269.6L808.9 271.1L809.8 272.0L811.1 272.6L811.5 273.5L811.8 275.0L813.1 276.2L815.0 277.3L816.2 277.8L817.1 278.6L818.4 279.0L820.1 279.5L821.3 280.2L821.9 281.1L822.5 282.1L822.7 283.3L823.7 284.4L824.3 285.6L824.6 286.5L826.1 287.5L827.0 288.7L827.4 290.3L827.9 291.5L828.0 292.9L828.3 294.9L827.9 296.4L827.0 298.2L827.0 299.6L827.3 300.6L827.6 302.0L827.0 303.6L826.9 305.1L827.6 307.4L827.4 308.7L827.6 309.9L827.0 311.0L826.7 312.0L826.6 313.2L827.0 314.3L827.0 315.5L826.8 316.8 M672.5 237.5L673.5 236.2L675.5 235.4L676.6 235.5L677.9 234.8L679.2 234.7L681.2 233.8L683.2 233.0L683.8 234.7L685.0 235.7L683.7 237.1L682.6 237.9L680.9 238.1L679.6 238.4L678.2 238.1L677.1 238.6L676.2 239.0L675.3 239.5L674.3 240.2L673.2 239.4L672.5 237.5 M827.9 289.3L838.6 289.3L856.4 289.3L874.3 289.6L892.1 289.6L901.1 289.6 M741.2 218.8L742.6 220.5L743.8 221.3L744.4 221.8L746.6 222.2L747.8 223.0L749.3 224.1L750.5 225.1L751.7 225.9L753.8 226.9L755.6 226.8L757.4 226.9L758.4 227.8L760.0 228.9L761.1 228.7L762.7 228.0L763.9 228.2L765.1 228.3L767.3 228.0L769.4 228.6L770.7 228.9L771.7 229.4L772.6 230.6L772.9 231.8L773.2 232.8L774.4 233.0L776.1 234.3L776.5 235.4L776.9 236.4L778.0 237.1L778.9 238.8L780.5 239.8L781.4 241.4L782.6 242.6L783.5 243.5L784.3 244.1L784.6 245.5L786.0 246.8L787.0 247.5L788.6 248.6L790.5 249.8L792.0 250.7L792.6 252.1L793.3 252.5L793.8 253.3L795.0 254.2L795.7 255.4L797.1 256.6L798.1 256.9L798.7 258.9L799.6 259.6L801.1 260.7L801.5 262.0L802.9 263.4L803.1 264.4L803.8 265.6L804.8 266.8L805.7 267.2L807.0 268.0L808.2 269.6 M774.3 223.2L774.4 224.3L775.3 225.5L776.2 226.6L777.0 228.6L777.3 230.1L777.2 231.3L778.0 232.5L778.8 233.9L777.7 233.4L776.1 232.1L775.5 230.8L775.5 229.6L774.0 228.0L774.4 226.5L774.3 225.7L774.1 224.7L774.3 223.2 M785.0 237.5L785.7 238.7L786.1 239.8L786.5 241.0L786.7 241.9L787.7 242.9L786.5 243.7L785.9 244.6L784.5 243.2L784.0 242.2L784.1 241.1L784.9 239.1L785.0 237.5 M902.4 171.7L903.2 172.7L904.1 173.2L905.8 172.7L907.1 172.9L908.2 173.7L909.4 175.1L909.9 176.4L910.7 177.3L909.2 176.3L908.9 174.6L910.3 174.2L912.0 173.2L912.1 171.4L912.5 170.2L914.3 169.3L915.1 168.9L915.8 167.6L917.2 167.3L918.8 167.1L919.7 166.0L921.5 166.4L923.2 165.7L924.3 165.7L925.4 165.5L926.2 164.8L927.7 164.8L929.4 164.4L930.5 164.7L932.1 163.9L932.9 162.2L934.8 161.8L936.2 161.9L937.5 162.1L938.6 161.1L939.3 160.4L940.5 160.3L941.7 160.0L943.3 159.1L944.6 158.6L943.9 160.0L943.9 161.1L942.9 162.1L943.9 162.4L945.1 163.2L946.0 164.2L947.1 165.0L948.2 165.7L949.5 165.1L950.2 164.5L951.5 165.0L952.7 164.7L953.6 163.9L955.1 164.0L956.6 163.4L957.9 163.1L959.3 161.8L960.7 160.4L962.0 158.8L963.8 158.0L965.9 158.5L967.9 158.6L967.7 159.8L967.7 160.8L968.9 161.9L970.6 162.2L971.4 163.9L970.7 164.6L970.7 166.1L969.6 167.0L969.1 168.1L969.6 169.3L970.7 170.0L971.7 170.6L972.5 171.2L973.2 172.9L972.2 173.8L971.5 174.6L971.4 176.4L972.5 178.2L973.3 179.5L975.0 180.0L975.9 180.7L977.1 180.5L978.8 180.0L980.1 180.9L980.7 181.9L982.1 183.6L982.9 185.2L984.4 185.6L986.5 185.7L987.5 186.7L989.3 187.1L991.0 187.8L992.0 188.1L993.6 187.7L994.4 188.7L995.1 189.9L996.4 190.7L997.4 191.7L997.9 192.9L998.9 193.0L1000.0 194.3L998.8 195.6L998.1 196.3L996.4 196.1L994.3 197.5L991.7 196.5L991.1 199.4L989.4 200.3L989.1 201.6L989.0 203.1L988.5 203.8L987.5 205.0L985.6 205.2L984.6 205.8L983.6 206.7L982.5 207.6L982.7 208.9L982.4 210.2L981.1 210.7L980.4 212.1L980.8 213.7L979.9 214.2L979.6 215.9L978.1 216.6L977.2 218.8L977.3 219.7L976.8 221.1L975.8 222.9L976.2 224.4L977.5 225.2L977.8 226.1L978.1 227.1L978.6 228.2L980.3 229.5L981.0 230.8L980.8 232.2L982.4 232.9L983.4 232.3L985.0 233.2L985.7 235.4L987.6 235.5L988.5 236.8L988.5 237.9L989.3 238.9L990.8 238.8L991.7 239.3L992.4 240.5L994.7 241.3L996.1 240.8L996.9 240.4L999.1 240.3L1000.0 238.9L1000.9 241.1L1001.8 242.8L1003.1 243.2L1005.2 243.5L1006.6 243.4L1007.9 243.9L1009.3 243.9L1010.7 242.5L1012.1 244.3L1011.6 246.1L1014.4 246.5L1016.1 248.5L1017.7 248.6L1019.2 248.7L1020.5 248.6L1021.4 247.9L1022.9 249.0L1024.5 250.2L1024.9 251.6L1024.7 252.8L1026.3 253.4L1028.1 253.8L1029.6 253.8L1030.4 253.2L1031.0 254.3L1032.7 255.3L1034.4 254.8L1036.3 255.0L1037.1 255.6L1038.2 256.4L1039.1 257.2L1039.3 258.6L1040.8 259.9L1041.4 261.8 M1056.0 261.0L1055.8 259.7L1055.4 258.6L1055.3 257.3L1055.8 256.4L1055.6 254.8L1056.1 254.0L1057.1 253.1L1057.1 251.4L1057.3 250.4L1058.8 249.8L1059.8 248.7L1060.8 247.2L1060.7 246.1L1062.2 245.2L1063.4 244.6L1064.9 244.4L1065.7 243.1L1066.2 242.2L1066.1 240.7L1067.1 240.6L1067.8 239.4L1068.4 238.7L1068.4 237.3L1067.3 235.4L1067.9 233.6L1067.5 232.5L1066.8 231.3L1066.6 230.2L1066.2 229.2L1064.3 228.2L1063.5 226.6L1062.6 226.2L1061.2 225.8L1060.2 224.5L1060.7 222.9L1061.2 220.7L1060.6 219.2L1061.8 217.8L1062.4 216.9L1062.5 215.7L1061.8 214.6L1060.9 212.9L1060.9 211.3L1061.8 210.7L1060.8 209.9L1060.7 208.6L1061.8 207.7L1062.0 206.7L1063.1 205.7L1064.3 205.0L1064.9 204.4L1065.7 203.2L1067.6 203.2L1068.9 203.9L1070.0 204.3L1071.4 205.0L1073.1 205.6L1074.0 206.9L1075.6 207.7L1077.3 206.7L1078.6 206.8L1079.3 207.9L1080.5 208.1L1082.4 208.4L1084.0 207.2L1085.5 208.7L1087.5 208.6L1088.6 209.4L1089.1 211.0L1091.0 210.9L1092.1 211.3L1094.1 211.2L1095.7 211.3L1096.4 212.1L1097.4 212.8L1098.2 213.6L1099.1 215.3L1100.0 216.8L1101.3 217.4L1102.0 217.8L1103.6 217.5L1104.6 219.0L1105.3 220.1L1104.9 221.1L1105.4 222.9L1105.5 224.5L1106.4 225.5L1105.4 226.1L1105.1 227.6L1105.0 229.1L1103.6 230.0L1104.3 231.8L1105.0 233.3L1107.1 233.6L1108.5 232.1L1109.8 232.2L1110.8 231.4L1112.3 231.4L1114.3 231.8L1115.4 231.4L1115.9 230.2L1118.0 230.4L1119.6 228.9L1121.4 228.2 M1060.7 190.7L1061.9 189.8L1063.3 189.1L1064.0 188.5L1063.9 186.9L1065.5 188.0L1066.8 187.7L1067.9 187.1L1069.6 187.2L1070.6 186.8L1072.2 187.4L1073.2 186.5L1074.7 186.4L1076.0 185.4L1078.6 185.4L1080.2 186.1L1081.6 185.9L1083.3 186.9L1084.6 187.3L1085.7 187.1L1087.6 188.0L1088.8 189.5L1089.8 191.3L1089.8 192.7L1091.1 192.9L1092.9 194.3L1094.2 195.5L1095.5 196.2L1096.6 197.8L1097.4 197.4L1098.8 197.9L1100.0 199.6L1101.1 201.3L1101.9 202.6L1104.0 203.2L1105.7 203.3L1106.9 202.7L1108.9 203.2L1110.3 203.7L1111.6 204.3L1113.0 204.3L1114.0 204.0L1115.2 204.3L1116.1 205.2L1117.9 205.0L1119.1 206.1L1119.9 205.6L1121.4 205.9 M1121.4 190.7L1120.1 189.4L1118.4 188.5L1117.9 187.1L1119.0 186.0L1120.0 185.8L1121.1 185.0 M1121.9 163.5L1120.8 162.8L1119.6 162.1L1118.2 161.9L1117.3 162.2L1116.5 161.0L1115.7 160.6L1115.4 159.1L1114.3 158.6L1113.5 157.6L1113.3 156.6L1112.2 156.0L1110.7 155.9L1109.5 156.1L1107.7 156.1L1106.3 155.1L1105.4 155.0L1105.0 153.8L1104.0 152.8L1103.0 151.6L1101.4 151.7L1100.2 151.7L1098.2 152.2L1096.4 151.4L1095.2 149.7L1094.4 148.6L1093.3 147.9L1091.4 148.1L1090.4 147.7L1088.4 146.9L1087.5 146.1L1085.8 146.4L1084.8 145.9L1083.3 145.2L1082.1 145.0L1081.2 144.4L1080.1 143.7L1078.6 142.5L1077.7 141.2L1077.5 140.1L1075.8 139.7L1074.7 139.3L1073.3 140.0L1071.4 138.9L1069.7 138.7L1068.2 139.4L1066.8 137.7L1065.5 136.7L1063.6 136.1L1062.1 136.2L1060.7 137.1L1060.1 135.8L1059.2 135.2L1057.9 134.6L1056.8 134.5L1054.8 134.2L1053.6 134.9L1051.8 135.4L1050.8 135.5L1050.1 136.8L1048.4 136.5L1046.8 136.7L1046.0 136.1L1044.2 136.4L1042.9 137.1L1041.5 137.2L1040.3 136.2L1038.4 135.5L1037.4 135.9L1035.9 135.5L1033.9 135.4L1032.0 135.8L1030.0 135.4L1029.3 134.4L1028.0 135.5L1027.1 136.0L1026.1 136.1L1025.0 137.1L1023.4 137.9L1021.7 137.5L1020.7 137.9L1019.2 138.6L1018.2 139.1L1017.9 140.7L1015.7 140.9L1013.7 141.5L1012.8 140.0L1011.7 139.7L1010.7 138.9L1009.9 138.3L1008.3 138.4L1006.8 139.0L1005.9 139.3L1005.4 140.7L1003.4 141.4L1002.4 143.2L1001.9 144.6L1001.8 146.1L1002.2 147.6L1001.8 149.2L1002.0 150.4L1003.6 151.4L1004.6 153.3L1005.6 153.3L1007.4 153.7L1008.8 153.5L1010.7 153.2L1012.2 153.3L1014.3 153.4L1016.0 152.2L1017.9 151.4L1018.8 152.8L1019.8 153.2L1020.5 154.2L1021.1 155.4L1022.5 154.8L1023.5 154.6L1025.0 155.0L1026.3 155.7L1027.3 155.4L1028.9 154.8L1030.3 155.6L1031.9 156.7L1032.1 158.6L1034.0 157.5L1035.9 158.2L1038.0 158.6L1039.3 160.4L1040.7 161.0L1041.4 162.5L1042.4 163.6L1042.9 165.7L1042.3 167.6L1042.4 169.3L1042.4 170.3L1042.6 171.6L1043.8 172.2L1044.6 172.9L1043.1 173.3L1042.6 174.6L1042.0 176.2L1042.0 177.3L1041.1 178.2L1039.8 178.7L1039.4 179.7L1038.3 180.3L1037.2 180.8L1035.7 180.0L1034.3 180.8L1032.9 180.4L1030.9 179.4L1029.7 178.7L1028.6 178.2L1027.6 179.7L1025.6 179.8L1024.5 180.2L1023.2 180.0L1022.7 181.2L1022.9 182.5L1022.0 183.6L1021.4 185.4L1022.5 186.1L1023.4 186.5L1025.0 187.1L1026.6 186.4L1028.0 185.6L1030.0 185.8L1032.1 185.4L1033.4 186.3L1035.1 187.1L1036.4 186.6L1038.0 187.1L1039.3 188.9L1040.5 190.1L1041.3 190.7L1042.6 190.5L1043.5 190.4L1045.2 191.5L1046.4 192.5L1047.7 193.2L1048.6 192.7L1049.8 192.3L1052.0 192.6L1053.6 192.5L1054.8 191.2L1056.6 190.6L1058.5 190.3L1059.7 190.2L1060.7 190.7 M1021.4 187.1L1023.0 187.2L1024.0 187.1L1025.5 187.1L1026.7 187.9L1027.1 189.6L1028.6 190.7L1030.0 192.3L1031.1 191.8L1032.5 192.3L1033.8 192.2L1035.0 193.1L1036.1 193.5L1037.5 194.3L1038.4 194.7L1039.6 194.8L1040.9 194.7L1042.2 194.7L1043.3 195.8L1044.6 196.1L1046.2 197.2L1046.9 198.9L1048.2 199.6L1046.9 199.9L1046.3 200.5L1045.0 201.1L1042.9 201.4L1041.5 200.5L1040.5 200.9L1038.8 201.3L1037.7 200.3L1035.7 199.6L1033.9 199.2L1032.3 199.1L1031.1 198.8L1030.3 200.2L1028.6 201.4L1027.0 201.1L1025.4 200.0L1024.1 199.6L1023.2 197.9L1021.8 196.6L1020.6 196.5L1021.1 194.3L1020.9 193.4L1019.6 192.5L1020.8 190.6L1020.7 189.3L1021.7 188.1L1021.4 187.1 M1032.1 203.2L1033.0 202.0L1034.2 202.1L1035.2 201.7L1036.6 202.5L1037.5 202.3L1038.0 203.3L1039.1 203.9L1040.6 204.1L1041.1 205.0L1039.2 205.6L1038.4 206.4L1037.5 207.7L1036.2 206.5L1035.2 206.1L1034.1 206.3L1033.0 206.8L1032.6 205.4L1032.8 204.4L1032.1 203.2 M1051.8 205.9L1052.9 206.6L1054.5 207.7L1053.0 208.8L1052.7 210.4L1052.0 209.6L1050.4 208.6L1052.0 207.2L1051.8 205.9 M921.4 103.2L922.8 102.5L924.4 102.6L925.7 102.1L926.7 101.6L928.6 100.5L929.7 100.8L930.6 102.2L932.7 102.4L935.0 103.1L936.6 102.1L938.1 101.1L939.3 101.4L940.7 102.3L941.2 103.1L942.4 103.3L944.0 103.0L944.9 104.0L946.3 103.9L948.7 104.1L950.0 104.1L951.5 104.0L952.6 105.1L953.5 106.5L953.6 107.7L952.3 107.2L951.3 106.8L950.0 107.7L948.5 108.2L947.5 108.8L946.4 109.5L945.4 108.6L944.4 106.8L943.3 106.7L941.6 106.4L940.2 107.4L938.0 107.3L937.3 108.5L935.7 108.6L933.8 108.1L932.1 109.2L930.7 108.6L929.7 108.3L927.9 107.2L926.8 106.8L926.1 105.6L924.4 105.3L923.2 104.5L922.5 104.0L921.4 103.2 M967.9 94.3L969.2 93.8L971.1 93.1L972.5 91.7L974.0 91.5L975.0 89.8L976.7 90.3L978.0 89.2L979.0 90.7L980.1 91.2L981.7 90.5L983.1 91.1L984.6 89.4L985.7 88.0L986.8 88.5L988.7 87.7L989.5 88.5L990.8 89.0L992.6 89.7L994.0 89.2L995.4 89.7L996.4 88.9L998.2 89.5L999.3 89.3L1001.1 87.7L1002.7 87.7L1003.1 89.0L1003.7 89.7L1005.5 90.3L1007.1 90.7L1008.5 91.9L1009.6 93.1L1010.7 92.8L1012.7 93.0L1014.3 94.3L1013.8 95.7L1012.8 96.2L1011.8 96.5L1010.7 97.9L1008.7 98.8L1007.9 100.2L1006.6 100.4L1005.8 101.5L1004.6 99.8L1003.4 99.5L1002.0 99.2L1000.0 99.6L998.3 99.9L997.3 100.0L996.0 99.6L994.9 98.5L992.9 98.9L990.6 99.4L989.3 98.8L987.5 99.7L986.4 101.0L985.0 100.5L982.5 100.4L980.9 100.5L979.6 99.5L978.6 97.9L977.5 96.4L976.1 95.9L974.7 96.2L973.7 97.3L972.3 97.3L971.4 97.0L969.6 95.8L968.4 95.2L967.9 94.3 M958.9 106.8L960.9 106.7L961.7 105.6L963.6 105.1L965.0 104.4L966.1 103.2L967.2 105.0L968.4 104.9L969.8 105.2L971.3 105.4L973.1 105.2L973.8 104.5L975.0 104.1L976.1 103.5L977.5 104.1L979.0 104.5L979.6 105.1L980.4 106.2L982.1 106.8L980.9 107.2L979.7 107.8L979.6 110.0L978.6 111.2L976.7 111.3L975.8 111.3L974.5 111.1L973.3 111.3L972.3 111.9L971.1 112.2L969.6 112.1L968.5 111.2L967.2 111.3L965.7 110.7L963.9 110.9L962.5 110.4L962.0 109.5L961.1 108.5L959.8 108.1L958.9 106.8 M926.8 119.3L928.9 119.0L930.2 119.2L931.4 119.4L932.2 118.3L933.9 118.4L934.5 117.8L935.7 116.6L937.1 117.2L939.0 116.6L940.8 116.7L942.5 116.7L943.7 116.1L945.4 116.3L946.4 115.7L948.0 116.4L950.1 115.3L951.3 114.3L952.6 114.4L953.7 115.9L955.0 117.2L957.1 117.5L958.4 117.8L959.1 118.7L960.1 119.9L961.6 120.0L962.5 121.1L962.7 123.2L961.1 124.2L960.7 125.5L958.8 125.8L957.7 126.3L956.4 127.4L955.0 128.0L953.6 127.3L952.3 129.0L950.8 129.6L948.1 130.1L946.5 128.9L945.8 127.8L944.5 127.1L942.9 126.4L941.5 125.9L940.7 124.9L939.6 124.6L938.4 124.1L937.1 124.3L936.3 125.1L935.0 125.1L933.9 124.6L932.7 124.4L931.5 122.8L929.7 123.5L928.1 122.4L926.8 122.9L927.2 121.6L926.5 120.6L926.8 119.3 M902.6 117.2L904.5 117.0L905.4 117.4L906.3 118.4L907.6 117.3L908.9 116.6L910.8 116.8L911.8 116.9L913.5 118.1L915.2 117.5L916.2 118.1L917.9 118.4L917.9 119.8L918.2 120.6L919.2 121.1L919.6 122.9L917.9 123.4L916.1 122.4L914.8 123.3L914.2 124.2L912.5 124.6L911.6 124.1L909.8 124.3L908.4 124.7L907.5 124.1L905.4 123.8L903.7 123.5L902.7 123.3 M971.4 123.8L972.6 124.4L974.7 123.8L975.3 121.8L976.8 121.4L978.6 122.2L979.5 123.3L981.2 124.6L981.8 125.9L981.3 127.3L980.6 128.6L979.5 129.1L978.0 129.5L976.5 130.4L975.3 130.0L974.1 130.0L974.1 128.5L973.4 127.8L972.6 126.8L971.4 126.4L970.8 125.5L971.4 123.8 M935.7 140.7L937.6 139.7L938.8 137.9L939.9 136.9L941.6 137.2L942.0 136.0L942.9 135.4L944.4 134.5L945.6 133.8L947.2 134.1L948.7 134.8L949.5 133.6L950.8 133.2L952.5 133.1L953.6 133.6L954.3 134.2L955.5 135.4L957.6 135.3L959.6 134.4L960.8 134.7L962.5 135.4L962.7 137.5L963.5 138.9L964.8 139.1L965.7 140.1L966.4 140.6L967.9 140.7L968.4 142.4L968.8 143.4L968.5 145.1L967.2 145.8L966.8 147.2L966.1 147.9L965.0 148.8L964.4 149.5L963.4 149.3L962.3 150.3L960.2 150.1L958.9 151.4L958.3 152.8L956.6 153.5L955.3 152.6L953.3 152.8L952.2 151.3L950.9 150.9L950.0 150.5L949.2 149.2L948.3 149.1L947.1 148.7L945.1 148.5L943.3 147.7L941.9 147.9L941.1 147.9L939.1 148.0L937.5 146.7L936.9 145.2L935.7 144.3L935.6 142.8L935.7 140.7 M902.4 138.0L903.9 136.9L905.9 137.2L907.1 136.2L908.3 135.0L910.0 134.6L911.1 133.9L913.0 133.3L914.4 133.6L915.5 134.0L916.1 135.4L917.1 135.7L918.7 135.2L919.8 136.8L922.0 137.0L923.2 137.1L923.7 138.4L924.7 139.3L926.4 140.3L927.0 141.3L926.8 142.5L927.5 143.9L926.8 145.0L927.0 146.1L926.0 148.0L925.0 149.6L926.1 150.9L927.4 151.3L928.4 151.8L928.8 153.2L928.6 155.0L929.5 156.6L930.4 156.7L931.9 157.0L933.1 158.5L934.2 158.4L935.7 158.6L937.0 158.2L937.9 157.4L939.2 157.2L940.2 158.0L942.1 158.5L942.9 160.4 M971.4 133.6L973.0 134.7L975.0 134.9L976.2 135.4L977.9 135.0L978.9 134.3L980.4 132.7L982.6 132.8L983.8 133.9L986.0 134.0L987.6 134.4L989.3 133.6L990.4 134.2L991.6 134.2L992.9 133.8L994.8 134.7L996.4 135.4L995.7 137.0L996.0 138.3L995.4 139.3L994.6 140.7L992.9 140.2L992.0 140.5L991.0 141.5L989.6 143.1L988.5 144.2L987.5 144.3L986.8 145.3L985.6 145.7L983.6 145.4L981.6 145.8L980.4 146.1L979.4 145.5L978.5 143.9L977.1 144.8L975.0 144.3L973.7 142.9L974.2 140.8L973.2 138.9L974.0 137.5L973.1 135.5L971.7 134.5L971.4 133.6 M967.9 151.4L969.3 150.4L970.7 150.9L972.3 149.7L972.9 148.5L975.0 147.9L976.5 148.6L977.8 149.6L978.7 150.4L980.9 150.5L982.3 149.9L983.9 149.6L985.8 150.1L987.7 150.9L988.9 152.6L989.1 153.9L989.3 155.0L990.1 155.5L991.1 156.7L992.2 158.3L992.9 160.4L991.5 162.1L990.3 163.4L989.3 163.9L987.7 163.5L986.8 163.6L985.3 162.5L983.9 162.1L983.2 160.2L981.6 158.9L979.9 158.2L978.6 158.6L977.0 157.7L975.9 158.3L974.8 157.6L972.8 158.2L971.4 156.8L971.2 155.0L971.3 153.8L969.7 153.1L968.6 152.0L967.9 151.4 M989.3 108.6L991.3 108.8L992.6 108.2L993.9 107.3L994.2 106.4L995.6 106.0L996.7 105.2L998.0 105.0L1000.0 105.0L1001.8 104.2L1003.5 103.8L1005.0 102.0L1005.4 100.7L1008.2 100.6L1010.5 101.1L1011.5 102.9L1014.3 103.2L1016.2 102.1L1018.1 102.9L1019.3 100.4L1021.3 98.7L1022.5 100.4L1023.8 101.6L1025.5 101.4L1028.6 101.4L1030.2 100.3L1032.8 101.3L1034.9 100.3L1036.1 98.6L1037.6 98.9L1038.9 99.1L1040.4 99.9L1042.9 99.6L1044.5 100.2L1046.6 98.7L1049.1 100.5L1051.0 100.4L1052.9 99.9L1053.8 100.6L1055.4 101.4L1055.5 102.9L1056.8 103.9L1058.5 105.1L1058.9 106.3L1060.7 106.8L1060.4 108.2L1059.8 108.8L1057.7 109.5L1057.8 111.2L1057.4 112.0L1057.1 113.9L1056.2 114.9L1055.2 116.3L1053.7 115.9L1052.9 116.5L1052.3 118.0L1051.3 118.4L1050.0 119.3L1049.5 120.4L1048.1 121.2L1048.3 123.3L1046.8 123.7L1046.4 125.2L1044.9 124.6L1042.9 124.6L1041.3 126.1L1039.3 127.1L1037.7 126.6L1036.7 127.0L1035.7 128.2L1034.8 129.7L1033.7 130.0L1031.9 129.9L1030.4 130.3L1029.3 130.4L1028.3 129.1L1026.5 129.1L1025.0 130.0L1023.1 130.2L1021.8 131.5L1021.1 130.4L1019.2 130.4L1018.6 129.5L1017.6 128.3L1015.6 129.1L1014.3 128.2L1013.3 127.0L1013.3 125.8L1011.6 125.4L1010.5 125.3L1008.5 125.6L1007.5 124.9L1005.4 124.6L1004.7 122.9L1002.9 122.5L1001.3 121.7L1000.0 122.0L999.0 121.1L998.0 119.9L996.4 119.3L995.4 118.7L994.8 117.2L994.6 115.3L992.6 115.3L991.1 113.9L991.4 112.3L990.9 111.4L990.6 109.6L989.3 108.6 M1016.1 85.4L1017.0 84.6L1018.8 83.8L1020.3 83.1L1021.5 81.7L1023.1 81.3L1025.9 80.2L1027.4 80.5L1028.6 81.8L1030.3 83.2L1031.7 84.0L1032.9 84.0L1034.0 83.5L1035.8 82.5L1037.8 80.4L1039.8 81.3L1042.9 80.0 M1051.8 87.1L1053.0 86.4L1053.3 85.2L1054.7 84.7L1055.9 83.4L1059.0 81.8L1061.1 82.0L1062.5 81.9L1064.3 83.6L1066.8 83.7L1069.2 83.1L1069.7 81.3L1071.8 78.9L1074.3 79.9L1075.3 81.6L1077.1 82.2L1078.6 81.8 M1057.1 121.1L1057.9 119.3L1059.2 118.9L1061.2 118.9L1063.1 117.8L1064.3 118.1L1066.2 119.1L1067.9 119.3L1068.9 120.2L1070.4 121.4L1072.6 120.6L1074.1 121.2L1075.1 121.0L1076.6 121.2L1078.6 121.1L1079.7 121.9L1080.3 122.8L1081.5 123.3L1082.9 122.8L1084.4 123.2L1085.7 124.6L1083.7 125.4L1081.8 125.4L1080.7 125.8L1080.1 127.3L1078.6 128.2L1077.6 126.8L1076.1 126.6L1074.6 126.7L1073.7 125.7L1071.5 125.5L1070.0 126.6L1069.0 127.3L1067.9 127.3L1066.2 127.8L1065.3 129.3L1063.3 128.6L1062.2 127.7L1060.9 127.1L1060.0 125.8L1058.9 125.5L1057.9 124.8L1056.8 123.1L1057.1 121.1 M1089.3 106.8L1090.6 105.1L1092.0 105.3L1093.1 104.4L1094.6 103.9L1095.9 104.3L1097.6 102.9L1100.0 103.2L1102.4 103.0L1103.7 104.4L1104.8 104.8L1106.6 105.8L1108.6 105.4L1110.7 105.0L1112.5 105.7L1114.0 105.2L1115.9 105.0L1116.1 106.0L1117.2 106.9L1118.4 107.8L1119.6 108.6L1118.9 110.1L1118.7 111.7L1118.7 112.8L1117.9 113.9L1115.9 114.2L1114.6 113.2L1113.5 113.8L1111.5 113.8L1110.2 115.2L1109.1 115.5L1107.1 115.7L1105.1 114.1L1104.1 113.2L1102.9 112.7L1101.4 113.1L1099.8 113.3L1099.0 113.9L1097.6 114.4L1096.4 113.9L1095.0 113.5L1094.4 112.7L1093.3 111.4L1092.4 110.8L1090.8 111.1L1089.3 110.4L1089.0 109.1L1088.9 107.8L1089.3 106.8 M1092.9 119.3L1093.7 120.3L1095.4 120.1L1096.9 120.4L1098.8 120.8L1100.2 120.2L1101.9 120.4L1103.6 118.4L1105.5 117.7L1106.7 118.6L1107.8 118.7L1109.7 119.1L1111.4 118.2L1112.1 119.7L1114.3 121.1L1115.9 121.0L1117.5 120.4L1119.0 121.7L1120.7 122.2L1121.4 123.5 M955.4 265.7L956.9 265.1L957.7 264.7L958.9 263.9L961.0 264.4L961.6 265.5L962.5 267.5L963.9 268.5L964.1 270.5L964.7 271.6L966.1 272.9L967.7 273.0L968.5 274.3L968.9 275.1L969.6 276.6L968.8 278.2L967.4 279.7L966.1 280.0L966.7 279.2L966.8 277.9L966.0 276.3L965.0 276.1L964.3 274.6L963.3 272.9L961.4 272.5L960.7 271.1L959.2 271.0L958.0 269.8L957.1 269.3L956.7 268.4L955.5 267.5L955.4 265.7 M902.6 288.6L917.9 288.6L935.7 288.6L953.6 288.6L975.0 288.0 M975.0 288.0L982.1 292.5 M982.7 288.0L975.0 288.0 M1066.1 180.0L1067.8 179.7L1069.5 179.4L1070.8 178.3L1071.4 177.3L1072.4 177.6L1073.5 178.8L1075.5 178.2L1076.8 179.1L1076.7 180.4L1075.5 181.1L1075.3 182.3L1075.9 183.6L1074.9 183.4L1073.5 183.5L1072.0 184.8L1070.8 184.8L1069.6 184.5L1068.8 183.8L1068.6 182.5L1068.1 180.8L1066.1 180.0 M1146.0 85.0L1146.8 84.5L1148.2 83.4L1149.8 83.7L1151.2 83.9L1154.0 84.5L1155.5 83.9L1157.0 82.6L1160.0 83.0L1161.2 81.3L1163.4 81.1L1164.8 80.2L1165.9 79.9L1166.7 81.1L1168.6 81.5L1170.6 81.2L1172.0 82.0L1172.6 81.1L1174.1 80.6L1175.8 80.7L1176.7 81.3L1178.3 81.8L1179.3 82.7L1182.0 82.0L1184.0 81.0L1185.6 81.4L1186.6 82.7L1188.0 84.0L1189.6 83.5L1191.1 84.1L1193.9 84.1L1195.4 83.1L1196.3 82.8L1197.3 81.9L1198.6 82.7L1200.0 83.0L1201.1 81.2L1203.0 81.1L1204.0 80.0L1205.6 80.4L1206.6 80.2L1207.8 79.3L1209.0 79.0L1211.3 79.3L1213.4 77.9L1214.3 79.0L1216.0 79.0L1217.3 78.9L1219.5 77.8L1220.8 78.2L1221.9 77.5L1223.0 77.7L1224.2 79.1L1226.2 78.4L1228.0 78.0L1229.3 77.6L1230.7 78.4L1231.4 80.3L1232.7 80.7L1235.4 80.4L1237.4 79.7L1238.6 80.5L1240.0 80.0L1242.0 80.9L1243.5 81.8L1244.6 81.4L1245.8 81.6L1246.7 80.6L1248.2 80.3L1250.7 79.5L1252.0 79.0L1253.0 78.3L1254.9 77.5L1256.5 76.4L1258.6 76.6L1260.4 76.4L1261.8 76.9L1262.5 75.8L1264.0 75.0L1265.3 75.2L1266.8 76.3L1268.0 75.9L1270.0 77.0L1271.5 76.4L1272.8 75.3L1274.1 74.3L1276.0 74.0L1278.5 73.2L1281.2 71.8L1283.0 71.9L1284.9 72.4L1286.2 72.6L1287.3 73.4L1288.6 74.0L1290.0 73.6L1292.2 75.0L1293.2 77.0L1294.6 76.1L1296.5 76.7L1297.5 75.8L1299.4 74.3L1302.0 75.4L1304.0 74.4L1306.6 74.5L1308.5 75.8L1310.5 76.9L1312.5 76.4L1315.4 76.3L1317.0 76.4L1318.0 75.3L1320.0 75.0L1321.7 73.8L1323.7 74.4L1325.0 75.8L1327.3 77.6L1328.5 77.5L1329.8 78.2L1330.4 77.4L1332.0 77.0L1333.0 76.1L1335.0 75.5L1336.2 75.5L1337.4 76.1L1338.3 77.8L1340.7 78.1L1342.3 78.7L1344.0 79.0L1345.5 79.5L1346.8 79.3L1348.1 79.4L1350.0 80.0L1348.1 80.3L1347.1 79.6L1346.1 79.2L1344.7 78.4L1343.4 78.9L1342.2 78.6L1341.2 80.1L1340.0 81.0L1339.0 81.5L1337.2 82.0L1335.9 83.4L1334.0 83.6L1332.1 81.9L1330.3 83.0L1328.0 82.0L1327.2 82.6L1325.7 82.8L1324.7 83.8L1323.4 84.2L1321.4 84.5L1318.7 83.3L1316.7 82.9L1316.0 81.6L1314.7 81.2L1312.6 82.0L1311.5 82.6L1309.6 83.7L1308.5 83.0L1307.2 82.1L1305.3 82.4L1304.0 83.0L1302.0 83.9L1300.2 84.6L1299.0 83.9L1297.5 83.5L1295.4 84.2L1294.3 85.0L1292.0 85.0L1294.1 84.5L1295.2 85.3L1297.2 86.4L1298.8 86.7L1300.7 86.3L1301.4 85.0L1302.3 84.4L1304.0 84.0L1305.1 83.3L1306.3 83.5L1307.6 84.4L1309.6 85.0L1313.0 83.9L1315.4 82.8L1317.5 83.5L1320.0 83.6L1322.1 85.6L1324.6 86.6L1326.7 86.5L1328.1 86.4L1330.2 86.4L1333.1 84.9L1335.0 85.1L1336.0 84.0L1338.4 83.3L1340.9 83.7L1342.1 85.6L1344.2 86.4L1345.3 84.8L1347.3 84.4L1348.4 84.0L1350.0 83.6L1351.6 83.4L1353.3 84.0L1354.4 84.4L1356.3 84.1L1358.2 85.1L1360.0 85.0L1361.3 86.4L1363.2 86.3L1364.9 87.0L1366.4 86.8L1367.6 86.3L1369.0 86.0L1368.6 87.7L1367.0 88.8L1366.7 89.6L1367.0 91.0L1368.0 92.0L1367.8 93.0L1366.4 93.7L1365.0 94.2L1364.0 96.0L1362.9 94.8L1361.1 95.0L1359.2 95.7L1358.5 96.7L1356.8 96.6L1355.1 97.2L1354.0 97.0L1355.5 97.1L1356.1 98.1L1357.6 97.6L1358.3 97.0L1359.5 97.0L1360.8 97.6L1361.5 98.3L1362.0 100.0L1363.8 100.8L1365.0 101.6L1366.6 102.1L1368.0 103.0L1367.0 102.8L1365.7 102.2L1364.8 103.0L1363.7 103.5L1362.2 103.3L1361.1 104.0L1360.3 104.8L1360.0 106.0L1358.6 106.7L1358.0 107.6L1356.4 107.8L1354.9 106.8L1353.7 106.0L1352.2 106.6L1351.0 107.9L1350.0 108.0L1351.0 107.6L1352.4 107.5L1353.8 106.7L1355.1 107.2L1356.3 108.1L1357.4 110.5L1359.0 110.7L1360.0 111.0L1361.2 111.2L1362.0 112.5L1363.1 112.9L1364.4 112.3L1365.1 113.2L1366.0 114.0L1364.9 114.6L1363.6 114.8L1361.8 114.7L1359.5 113.4L1358.7 114.5L1358.3 115.5L1357.4 115.8L1356.0 116.0L1354.7 116.2L1352.9 117.1L1351.8 118.1L1350.5 118.1L1348.8 118.2L1347.2 116.4L1345.4 117.0L1344.0 117.0L1345.8 117.3L1346.8 118.2L1348.7 118.7L1350.0 118.2L1351.0 118.6L1352.0 120.0L1353.5 118.8L1354.8 119.2L1355.9 119.5L1357.3 119.1L1359.5 120.2L1360.8 121.5L1362.0 122.0L1363.4 122.9L1365.4 122.5L1366.3 124.1L1366.8 125.6L1368.0 126.0L1366.9 126.1L1365.8 125.8L1363.9 126.6L1363.2 127.8L1361.2 127.8L1360.0 127.0L1358.9 127.3L1357.8 126.9L1356.5 126.0L1355.3 125.9L1353.5 124.7L1351.9 124.8L1349.5 124.5L1348.0 126.0L1348.8 126.6L1350.2 126.5L1351.7 126.1L1353.6 127.6L1354.2 128.8L1356.0 130.0L1355.1 130.3L1354.0 131.1L1352.3 133.0L1350.6 132.7L1349.0 133.6L1347.4 133.4L1346.0 133.0L1344.6 133.4L1343.4 134.0L1341.4 134.1L1339.0 133.4L1336.8 133.6L1334.7 132.5L1333.3 133.2L1332.0 135.0L1329.7 133.9L1327.7 133.9L1325.6 134.9L1324.0 136.8L1322.9 138.0L1321.9 139.2L1320.0 139.0L1321.9 140.8L1323.5 142.7L1325.2 143.1L1326.7 142.7L1328.2 140.6L1329.7 140.0L1330.9 140.4L1332.0 140.0L1332.5 140.8L1334.1 141.1L1336.5 141.9L1337.1 143.8L1338.3 143.1L1339.8 142.8L1342.1 141.7L1344.0 142.0L1344.7 143.2L1344.3 144.5L1344.4 146.0L1345.9 147.2L1346.9 147.4L1348.0 148.0L1348.2 149.4L1348.0 151.3L1348.0 152.5L1349.0 154.0L1347.3 154.2L1346.4 154.7L1344.7 155.3L1343.7 155.7L1342.2 155.7L1341.2 156.3L1340.0 156.0L1338.2 154.8L1336.4 155.2L1335.0 154.4L1334.6 153.6L1332.7 152.3L1331.0 152.4L1329.0 153.3L1328.0 154.0L1326.5 153.5L1325.4 153.4L1322.9 152.8L1322.0 151.2L1320.6 150.2L1318.0 151.0L1316.6 151.3L1316.0 152.0L1317.4 152.7L1317.7 153.8L1318.3 155.5L1319.8 155.3L1320.6 155.8L1321.9 156.6L1324.0 156.0L1322.9 155.7L1321.2 156.0L1320.3 155.4L1319.6 154.4L1318.7 155.0L1317.3 156.4L1315.9 156.4L1314.0 158.0L1315.5 157.7L1318.0 158.6L1321.4 157.9L1323.5 157.4L1325.2 156.8L1326.1 156.2L1328.7 157.6L1330.0 158.4L1332.2 159.7L1334.4 162.5L1338.0 161.3L1340.3 161.7L1340.5 160.4L1342.1 158.9L1343.5 158.0L1346.0 158.0L1344.8 158.7L1343.8 159.4L1342.1 159.5L1341.4 160.9L1340.2 161.3L1338.4 161.1L1336.0 162.0L1334.1 162.3L1332.7 161.6L1330.1 163.5L1328.5 164.8L1327.5 164.4L1326.3 164.4L1324.9 164.7L1324.0 165.0L1322.3 163.5L1319.6 163.5L1317.8 162.7L1315.9 163.7L1314.9 165.3L1314.4 166.4L1312.8 167.1L1312.0 168.0L1310.0 167.7L1308.8 167.7L1307.2 167.0L1304.8 167.7L1303.6 167.0L1302.6 168.9L1300.0 170.0L1298.5 169.8L1296.9 170.7L1295.6 170.0L1294.7 170.2L1294.0 169.0L1293.3 170.6L1292.2 171.0L1292.3 172.9L1292.0 174.0L1289.7 173.4L1288.6 174.4L1287.7 175.1L1286.2 174.7L1286.1 176.6L1285.3 177.0L1284.0 178.0L1282.8 178.7L1281.4 179.0L1279.7 179.6L1277.7 180.5L1276.6 181.1L1276.0 182.0L1274.9 181.6L1273.2 181.3L1272.0 181.4L1271.3 182.5L1269.8 183.0L1268.0 183.0L1266.7 183.3L1265.2 183.9L1263.6 182.7L1262.4 183.7L1261.1 183.5L1260.0 185.0L1259.7 186.2L1258.1 186.8L1256.2 187.6L1255.1 187.4L1254.0 188.0L1253.0 189.7L1252.8 191.8L1250.9 191.8L1250.0 193.0L1249.6 194.3L1249.9 195.4L1249.2 197.1L1248.0 198.0L1246.5 199.5L1245.5 201.2L1244.0 202.0L1244.9 203.3L1244.3 205.3L1243.5 206.5L1242.5 206.6L1242.0 208.0L1241.2 209.4L1240.1 211.0L1240.2 212.7L1240.0 214.0L1238.2 215.2L1237.9 216.9L1238.0 219.0L1236.2 219.2L1235.4 219.8L1234.8 221.0L1233.5 220.3L1232.0 220.0L1230.5 219.2L1229.6 218.8L1228.0 219.0L1228.3 217.1L1227.6 216.2L1226.4 215.3L1226.0 214.0L1224.8 214.8L1224.0 215.7L1222.5 214.8L1221.2 215.6L1220.0 215.0L1218.0 214.3L1216.0 213.6L1215.1 213.9L1213.9 214.3L1212.0 214.0L1211.2 212.1L1211.7 211.0L1210.3 211.0L1209.4 209.6L1208.0 209.0L1207.2 207.8L1207.0 206.8L1206.2 205.4L1205.4 204.3L1204.0 204.0L1203.9 201.9L1202.6 201.1L1201.7 199.8L1201.3 198.7L1200.0 198.0L1199.0 197.2L1198.2 196.6L1197.3 195.8L1196.8 194.7L1196.0 194.0L1197.7 193.5L1198.5 192.3L1199.3 191.7L1200.0 190.0L1198.6 190.9L1196.8 190.4L1195.8 189.8L1194.5 189.7L1194.0 188.0L1193.3 186.3L1192.8 184.6L1192.3 182.7L1190.9 182.8L1190.0 182.0L1189.5 180.5L1188.3 180.1L1186.8 179.9L1187.2 178.2L1187.2 176.9L1186.0 176.0L1186.4 174.3L1186.9 172.7L1188.8 172.1L1189.9 171.1L1190.0 170.0L1191.6 170.5L1192.7 169.5L1193.7 169.4L1195.1 169.0L1196.0 168.0L1197.5 166.4L1198.9 165.6L1200.0 164.0L1201.0 162.9L1201.7 162.1L1201.6 160.7L1201.9 159.8L1201.0 158.0L1199.7 157.0L1198.9 156.4L1198.3 155.0L1198.0 154.0L1196.8 154.1L1194.9 153.4L1194.3 152.0L1193.4 151.8L1193.1 150.8L1192.0 150.0L1191.0 149.8L1189.5 150.2L1188.3 149.0L1187.5 148.3L1186.0 148.0L1184.6 148.2L1183.4 147.4L1182.6 147.2L1182.1 148.5L1180.0 149.0L1179.2 148.1L1178.8 146.7L1177.4 146.0L1176.0 146.0L1177.3 145.6L1178.1 145.0L1178.9 144.3L1179.2 143.0L1180.0 142.0L1179.9 139.9L1178.8 138.8L1178.0 138.0L1177.7 137.0L1177.2 135.8L1176.5 134.6L1175.1 133.7L1174.0 132.0L1172.8 130.9L1172.9 129.5L1171.4 128.3L1170.0 128.0L1168.7 127.9L1167.2 127.7L1166.5 126.4L1166.2 125.6L1164.4 125.0L1164.0 124.0L1163.0 124.5L1161.8 125.0L1160.3 124.3L1158.3 123.9L1157.1 122.5L1156.0 121.0L1154.4 120.0L1153.4 119.2L1152.3 119.5L1150.6 119.2L1149.2 118.9L1147.8 118.9L1146.0 119.6L1144.4 118.7L1143.4 118.2L1141.6 117.2L1140.2 117.2L1139.0 117.4L1138.4 119.2L1136.0 120.0L1134.5 119.4L1132.7 119.4L1130.9 120.0L1129.3 120.3L1128.0 121.0L1126.7 120.6L1124.9 120.7L1123.9 121.0L1122.7 121.7 M1122.4 79.8L1123.8 80.3L1124.6 81.7L1126.6 81.2L1128.0 81.0L1129.3 81.1L1130.6 80.9L1132.0 79.0L1133.0 79.0L1134.2 78.4L1135.8 78.1L1137.8 77.0L1139.5 78.0L1141.4 79.8L1144.1 81.0L1146.0 81.0L1146.2 82.5L1145.9 83.6L1147.0 85.0 M1122.5 88.5L1124.1 89.5L1125.8 90.1L1126.7 89.7L1128.0 89.9L1130.0 90.0L1128.1 90.8L1127.5 92.7L1127.5 94.2L1127.2 95.1L1126.0 96.0L1124.5 97.5L1122.4 97.2 M1218.0 80.0L1220.0 80.6L1221.4 81.0L1222.2 80.0L1223.5 79.4L1224.3 80.8L1225.9 81.5L1226.9 82.5L1228.0 83.0L1229.6 82.3L1231.2 81.9L1232.0 81.0 M1334.0 186.0L1334.5 184.4L1335.5 184.1L1336.8 182.6L1337.7 181.3L1339.0 181.2L1340.0 181.0L1340.9 181.2L1342.5 180.7L1343.7 180.0L1345.4 179.3L1346.2 180.1L1346.8 181.4L1348.2 181.4L1350.0 182.0L1351.0 181.3L1352.2 181.3L1353.6 180.9L1354.5 179.7L1355.6 180.7L1357.5 180.9L1358.4 182.2L1360.0 182.4L1361.9 182.4L1363.4 181.5L1364.1 180.2L1365.8 180.6L1367.4 180.3L1368.3 181.1L1369.0 182.0L1369.0 184.1L1370.2 185.6L1370.1 187.4L1370.2 188.7L1370.0 190.0L1370.0 191.1L1370.3 192.5L1370.7 193.4L1369.9 194.7L1368.7 196.0L1368.0 198.0L1366.9 198.8L1366.0 198.9L1364.7 198.7L1363.4 197.9L1362.3 197.9L1361.2 197.8L1360.0 199.0L1358.8 198.8L1357.4 199.2L1355.3 199.0L1353.7 197.9L1352.0 197.0L1350.6 196.5L1349.4 197.3L1348.4 198.3L1347.0 198.1L1345.5 197.8L1344.8 196.5L1344.0 196.0L1344.9 195.5L1346.2 194.9L1347.4 193.7L1348.0 193.0L1346.2 192.7L1344.0 192.2L1343.0 191.0L1342.7 189.3L1341.7 189.2L1340.1 189.7L1338.7 190.4L1338.0 191.0L1338.7 190.2L1339.6 188.9L1340.3 188.1L1342.0 188.0L1340.2 186.8L1339.2 186.2L1337.5 185.6L1336.1 185.9L1334.0 186.0 M1122.3 171.1L1123.4 171.3L1124.5 171.9L1125.9 172.8L1126.6 173.7L1128.0 174.0L1129.8 174.7L1131.1 175.6L1131.6 176.6L1132.9 176.5L1133.8 177.3L1135.1 176.3L1136.0 176.0L1137.5 175.5L1138.5 175.9L1139.7 176.5L1141.0 177.1L1142.2 176.8L1143.3 177.9L1144.0 180.0L1142.6 181.3L1142.2 182.9L1141.0 183.5L1140.0 184.0L1139.3 183.1L1137.5 182.5L1135.8 182.9L1135.0 182.2L1133.3 181.4L1132.0 182.0L1133.6 182.6L1134.0 183.7L1133.8 185.6L1133.7 186.9L1134.0 188.0L1132.6 188.2L1131.7 188.5L1130.4 189.3L1130.3 190.3L1129.0 190.9L1128.0 192.0L1127.4 194.0L1127.4 195.1L1128.1 196.5L1127.0 197.2L1125.9 197.8L1124.6 198.9L1124.0 200.0L1125.0 201.4L1125.7 202.2L1126.9 203.3L1127.4 204.5L1127.0 206.2L1126.5 207.8L1127.3 209.0L1128.0 210.0L1127.3 210.7L1126.0 212.0 M1129.0 218.0L1129.9 218.6L1131.2 219.4L1132.0 220.1L1133.1 220.5L1133.4 222.5L1133.0 224.4L1134.0 226.0L1134.6 227.1L1136.4 228.0L1137.6 228.7L1138.6 228.9L1139.0 230.3L1140.0 232.0L1141.6 232.2L1142.7 232.5L1144.0 233.6L1143.9 234.6L1144.3 236.6L1145.5 238.4L1146.0 240.0L1145.8 241.0L1144.9 242.0L1144.0 244.0 M823.6 322.9L824.5 323.8L824.8 324.7L825.0 326.1L825.4 328.4L825.7 329.9L825.9 330.8L825.9 332.5L825.7 333.6L826.0 334.8L825.7 336.6L826.8 338.8L827.0 340.4L827.0 342.4L827.9 344.3L828.6 345.5L830.1 347.5L831.1 349.1L831.8 350.0L833.0 351.3L833.5 352.3L833.7 353.7L834.3 355.0L834.8 355.9L835.3 357.7L836.2 359.4L837.6 360.4L838.6 361.4L838.6 362.9L838.7 364.0L839.3 365.8L840.1 367.6L841.3 368.9L842.3 370.2L842.9 372.1L843.5 372.7L844.6 373.7L845.4 375.3L846.2 376.0L846.8 377.5L848.3 379.0L849.3 380.7L850.3 381.8L851.9 382.4L852.6 383.0L853.6 383.9L854.9 385.2L856.0 386.2L857.9 387.1L858.7 387.7L860.1 388.8L861.5 390.5L862.1 391.4 M862.1 391.4L862.8 392.6L863.5 394.2L864.6 397.1L865.6 398.4L867.3 399.8L869.4 400.7L871.8 402.7L872.9 404.3L873.7 407.2L876.0 410.4L877.2 411.6L879.5 413.1L880.0 414.4L881.0 416.3L881.1 418.0L881.4 419.3L882.1 420.7L883.7 422.1L885.0 424.3L886.4 426.9L887.2 428.9L888.2 429.9L889.2 431.8L890.0 434.3L890.4 435.3L890.7 436.8L891.4 438.4L891.4 439.6L892.1 440.9L893.2 442.3L895.6 445.2L896.4 447.1L897.4 448.4L898.9 449.5L899.5 450.6L900.7 451.4 M873.9 398.9L875.3 397.8L877.1 396.8L877.5 398.1L878.7 399.9L879.8 401.2L881.5 402.2L882.1 404.2L882.1 405.2L882.5 406.4L883.6 408.3L884.6 409.1L884.9 411.1L886.7 414.0L887.0 415.3L887.9 416.7L887.6 417.9L887.9 419.3L888.5 421.8L888.9 424.1L889.4 425.5L890.7 426.9L891.8 428.1L892.3 429.9L893.6 432.7L894.3 434.3L895.0 435.7L896.7 437.9L897.1 439.2L897.8 440.4L898.6 442.5L898.6 443.9L899.4 445.2L899.6 446.1L900.1 447.0L900.3 448.2L900.7 449.3L900.7 451.4 M870.7 391.4L872.6 392.2L873.8 392.6L874.9 393.6L875.8 394.1L877.7 394.5L879.3 394.6L880.8 395.9L881.3 397.3L883.1 398.4L884.9 399.3L885.7 400.0L886.9 401.0L887.8 401.5L888.9 402.9L890.2 405.2L891.1 406.7L891.6 408.7L892.1 410.7L893.1 412.0L893.5 413.1L894.1 414.2L894.3 415.5L895.8 416.7L896.6 417.6L897.0 419.3L898.6 421.4L899.9 423.5L900.6 425.3L901.8 426.8L903.0 427.7L903.2 428.9L903.6 429.9L904.4 431.4L905.0 432.1L905.6 432.8L906.7 434.1L907.4 435.7L908.9 438.1L909.1 439.5L910.1 440.9L910.7 441.8L911.4 442.8L911.6 444.6L912.2 445.7L913.4 447.1L915.0 449.6L915.5 450.7L916.2 452.1L917.8 453.6L918.8 455.1L919.4 456.6L919.5 458.0L920.3 459.0L921.1 460.5L922.1 462.1L922.2 463.7L922.1 464.9L921.9 466.2L922.2 467.3L922.1 468.6L922.6 469.3L923.3 470.6L924.4 472.5L925.3 473.2L926.4 475.0L927.6 476.7L929.0 478.1L930.3 479.6L931.8 480.7L932.8 481.4L934.3 482.6L935.6 484.2L936.4 485.0L937.7 485.8L939.7 487.1L941.4 487.8L942.8 488.6L943.4 489.3L945.3 489.7L946.5 490.4L947.8 490.8L948.5 491.5L950.0 492.1L951.8 491.9L954.0 492.2L954.9 492.5L955.9 493.3L957.5 493.9L958.6 494.3L959.8 495.0L960.8 495.4L962.2 495.9L963.6 497.2L966.5 498.9L968.4 499.7L970.3 501.5L971.4 502.8L972.5 503.5L974.4 504.1L976.5 506.3L978.4 507.6L979.2 508.5L980.7 509.1L982.5 510.6L984.3 511.4L985.7 511.5L987.2 512.1L989.2 512.9L990.3 513.6L991.0 514.1L992.0 515.0L992.8 515.7L993.8 516.5L994.7 517.9L997.0 518.9L998.5 520.0L1000.5 520.5L1001.7 521.5L1003.6 522.1L1004.7 522.6L1005.7 522.8L1006.8 523.6L1007.7 524.0L1009.9 524.4L1011.9 525.0L1012.9 525.3L1014.3 526.4L1015.4 526.8L1016.9 527.9L1018.6 528.9L1020.5 529.9L1021.9 530.2L1023.8 530.5L1025.0 530.7L1026.5 531.7L1028.6 532.8L1030.2 533.7L1031.2 534.0L1033.3 534.8L1034.3 535.6L1035.7 537.1L1037.4 538.0L1038.7 538.6L1040.5 539.6L1041.3 540.4L1042.7 540.5L1043.7 540.7L1045.2 541.0L1046.4 541.4L1048.0 542.1L1049.0 542.2L1050.6 542.9L1051.9 543.4L1053.9 543.6L1055.5 544.8L1057.1 545.7L1058.6 545.3L1059.9 544.8L1061.5 543.8L1063.4 543.8L1064.4 543.5L1065.7 543.6 M862.1 391.4L863.7 391.4L864.8 391.6L866.8 391.0L868.4 390.4L870.8 390.3L872.1 389.9L873.2 390.4L875.0 390.3L876.5 390.3L878.5 389.6L881.0 389.7L882.9 390.1L883.8 390.2L885.5 390.8L887.1 391.9L890.0 392.5L892.0 392.8L894.0 392.4L895.6 392.6L896.7 392.7L898.4 393.5L899.8 393.7L901.3 394.7L902.8 395.7L905.0 395.6L906.2 395.9L907.2 396.6L908.8 396.9L910.2 396.7L912.1 396.7L914.3 397.2L915.7 397.8L916.4 398.8L917.8 399.9L919.9 401.5L921.1 402.3L922.1 403.0L923.1 403.5L924.3 404.3L926.4 404.5L927.5 405.5L928.8 405.9L930.2 406.5L931.0 407.1L931.7 407.6L932.8 408.6L934.2 409.0L935.7 410.1L937.8 410.3L938.8 410.7L940.0 410.7L941.4 410.7L942.5 411.8L944.0 413.3L945.0 415.1L946.2 416.0L947.8 417.1L948.8 418.0L949.3 419.0L950.7 420.1L952.0 421.5L953.2 422.7L953.9 424.5L954.3 425.7L955.1 426.9L955.7 427.6L956.8 428.4L957.4 429.4L958.5 430.1L959.7 431.2L960.7 432.1L961.6 432.0L963.1 431.5L964.2 430.5L965.0 430.0 M965.0 430.0L965.0 428.5L964.5 426.8L963.8 425.6L963.0 424.0L963.1 422.5L962.8 421.4L964.8 420.6L966.1 419.5L967.2 418.5L968.3 417.1L968.8 416.3L969.3 415.0L970.6 413.5L972.2 412.7L973.4 412.4L974.5 412.1L976.0 411.1L977.8 410.7L979.8 410.5L981.7 410.3L982.7 410.1 M965.0 430.0L964.8 431.3L964.6 432.7L964.7 433.9L964.7 435.0L964.2 437.0L963.6 438.5L963.3 440.0L962.8 440.7L963.1 442.1L962.9 443.0L962.4 444.8L962.3 446.3L962.5 447.2L963.1 448.5L963.2 449.9L963.9 451.4L965.2 452.8L965.7 454.0L966.3 455.6L966.6 457.7L966.2 459.1L966.3 460.6L967.1 462.1L968.5 462.7L970.1 464.1L971.2 465.9L972.5 467.4L972.9 469.5L973.6 470.7L974.6 471.9L975.3 473.0L976.5 473.5L977.4 474.4L978.8 475.8L980.7 476.8L982.1 477.1L983.5 476.8L984.9 476.9L986.2 476.6L987.4 477.0L988.8 477.6L989.4 478.4L991.0 479.1L992.8 479.3L993.9 477.9L994.7 477.3L995.3 476.3L996.9 475.0L998.0 474.5L999.0 473.9L1000.3 473.3L1001.4 472.8L1002.2 471.6L1002.6 470.4 M1013.6 470.7L1012.8 471.7L1012.1 472.8L1012.0 473.9L1011.8 475.2L1011.7 476.9L1010.8 478.5L1010.5 479.6L1010.0 481.4L1009.4 483.4L1009.1 484.6L1008.0 486.3L1008.1 487.4L1007.9 488.6L1007.8 490.0L1009.3 491.4L1010.1 492.5L1010.7 493.5L1011.1 494.9L1012.1 496.4L1012.7 497.0L1013.9 497.8L1015.7 498.5L1016.8 499.2L1017.6 499.7L1018.6 500.7L1020.6 501.2L1022.4 501.0L1023.5 501.4L1024.5 501.9L1026.0 502.5L1027.1 502.8L1029.1 503.5L1031.0 504.4L1031.9 505.4L1033.4 506.5L1034.9 506.7L1035.7 507.1L1035.5 508.1L1035.4 509.5L1035.2 511.2L1034.5 513.1L1033.8 514.5L1033.6 515.7L1033.9 517.0L1034.4 518.0L1035.0 519.0L1035.7 520.6L1036.2 521.4L1036.8 522.9L1037.8 524.3L1039.2 524.8L1040.9 525.8L1041.9 526.6L1042.8 527.8L1043.8 528.2L1044.7 529.2L1045.5 529.7L1046.4 530.7L1048.2 531.8L1050.1 532.3L1051.5 532.9L1052.7 532.9L1053.7 533.1L1055.3 532.8L1057.1 532.8L1058.4 534.0L1059.0 535.5L1060.2 536.9L1061.3 538.4L1062.4 539.5L1064.2 541.6L1065.7 543.6 M1080.7 470.7L1079.0 470.8L1077.2 471.4L1076.1 470.9L1074.3 470.7L1072.7 470.2L1071.8 470.1 M1060.3 481.4L1061.5 480.6L1063.5 480.3L1064.5 480.1L1065.7 479.7L1067.1 480.9L1067.9 481.9L1068.9 482.5L1067.1 482.7L1065.8 483.7L1064.6 484.2L1063.5 483.6L1062.5 482.4L1061.2 482.1L1060.3 481.4 M1001.4 472.8L1002.1 473.8L1002.6 475.0L1002.9 476.2L1003.4 477.4L1003.4 479.4L1003.6 481.4L1003.8 482.8L1003.5 484.7L1004.8 486.5L1005.2 487.8L1005.2 488.9L1005.7 490.0L1006.1 491.1L1007.1 492.3L1008.1 493.7L1009.1 494.2L1010.4 495.1L1012.1 496.4 M1027.1 502.8L1027.1 504.1L1027.1 505.5L1026.9 506.8L1026.2 508.1L1025.4 509.6L1025.0 511.4L1026.3 512.7L1027.2 513.5L1028.2 513.7L1029.6 514.4L1030.8 515.2L1031.6 515.5L1033.6 515.7 M1064.3 537.1L1065.4 535.6L1066.1 534.7L1066.6 533.6L1067.3 532.8L1067.8 531.4L1069.8 530.4L1071.4 528.6L1073.2 527.6L1074.3 526.8L1076.1 526.3L1077.1 525.3L1078.4 523.7L1080.0 522.9L1081.8 523.2L1083.3 522.8L1084.4 522.7L1086.0 522.7L1087.6 522.2L1088.6 521.4L1089.9 522.7L1090.5 523.6L1091.7 524.7L1092.9 525.4L1094.3 525.7L1093.6 527.1L1093.2 528.4L1093.0 530.2L1092.7 531.2L1092.1 532.7L1091.4 534.3L1092.5 536.2L1093.4 536.9L1094.3 538.6L1095.1 536.9L1095.5 535.4L1095.6 534.1L1095.6 532.9L1096.1 531.4L1096.0 530.4L1095.7 528.6L1096.7 527.3L1098.4 526.1L1099.0 524.5L1100.0 522.9L1101.8 522.9L1103.1 523.1L1104.7 523.9L1106.0 524.8L1107.1 524.9L1108.6 525.7L1110.6 525.7L1113.2 525.8L1114.8 526.5L1115.8 526.7L1117.6 526.0L1118.7 525.8L1120.0 525.7L1121.4 526.5L1123.3 526.9L1125.0 527.9L1126.1 528.0L1127.5 528.0L1129.2 528.5L1131.4 528.6L1132.5 528.3L1134.2 528.7L1135.9 529.3L1138.3 529.8L1139.7 530.3L1141.2 530.6L1142.9 531.4L1144.5 532.9L1145.9 533.4L1147.2 534.6L1148.2 536.1L1148.6 537.1L1149.1 539.2L1149.8 540.5L1150.8 541.7L1151.4 542.9L1152.4 543.3L1153.6 543.8L1155.5 544.3L1157.1 545.7L1158.5 546.9L1159.7 547.3L1160.7 549.3L1162.2 550.6L1162.9 551.4L1164.7 552.3L1165.6 552.7L1166.8 553.5L1168.0 554.0L1169.2 554.4L1171.4 554.3L1172.4 554.6L1173.6 555.1L1175.3 556.0L1177.2 556.3L1178.4 556.3L1180.0 557.1L1180.6 558.2L1181.3 559.0L1182.3 560.1L1183.0 561.3L1183.8 563.1L1184.7 564.4L1185.7 565.7L1185.8 566.9L1186.3 568.0L1186.7 569.0L1186.7 570.3L1188.0 572.1L1188.1 572.9L1188.6 574.3L1190.1 573.3L1191.3 572.3L1192.4 571.7L1194.3 571.4L1195.3 570.3L1195.9 569.3L1197.1 568.6L1197.7 569.9L1197.8 570.9L1197.9 572.7L1197.9 573.8L1198.5 575.2L1199.3 576.2L1200.0 577.1L1200.4 578.5L1201.2 580.2L1201.5 582.0L1201.6 583.3L1202.2 584.2L1202.9 585.7L1202.0 587.6L1202.0 588.7L1201.5 589.8L1200.4 591.3L1200.1 592.4L1200.0 594.3L1198.5 595.6L1197.1 596.8L1196.0 597.5L1195.4 598.2L1194.3 600.0L1193.7 600.8L1193.3 602.0L1192.8 603.2L1192.3 604.7L1191.4 605.7L1192.7 605.4L1194.5 605.1L1196.5 605.3L1198.4 605.0L1200.0 604.3L1201.5 605.4L1202.3 606.0L1203.3 607.5L1204.3 608.0L1205.7 608.6L1207.0 607.6L1208.1 606.4L1208.7 605.6L1209.4 604.5L1210.7 603.4L1211.4 602.9L1213.0 602.3L1214.1 602.3L1215.3 601.8L1217.2 601.7L1218.5 601.1L1220.0 600.0L1221.6 600.8L1223.2 600.9L1224.2 601.3L1225.9 601.8L1226.9 602.3L1228.6 602.9L1229.5 603.9L1231.2 605.7L1231.8 606.8L1232.8 607.6L1233.5 608.8L1233.9 609.9L1234.3 611.4L1236.0 611.0L1237.8 611.3L1238.9 611.5L1240.4 611.3L1241.3 611.6L1242.9 611.4L1244.0 611.6L1245.7 611.4L1247.3 611.7L1248.3 612.1L1249.8 612.7L1251.4 612.9L1252.5 613.5L1253.6 614.1L1254.9 614.5L1256.0 615.3L1258.0 616.0L1259.0 616.5L1260.0 617.1L1261.0 618.4L1262.1 619.5L1262.8 620.3L1264.6 620.8L1266.4 621.2L1267.5 622.1L1268.6 622.9L1269.5 623.5L1270.5 624.2L1271.5 625.2L1272.9 626.1L1274.6 627.8L1276.0 628.3L1277.1 628.6L1278.0 630.3L1278.3 631.7L1278.7 633.4L1279.5 635.0L1280.0 637.1L1279.6 638.6L1279.7 640.5L1279.1 642.0L1278.9 643.0L1278.5 644.1L1278.6 645.7L1278.3 647.1L1277.8 648.2L1277.0 649.3L1276.5 650.2L1276.2 651.4L1275.0 652.8L1274.3 654.3L1273.6 655.4L1273.5 656.5L1272.2 657.5L1271.4 658.8L1270.6 659.8L1269.9 661.5L1268.6 662.9L1268.0 664.9L1267.0 666.5L1266.3 667.2L1265.8 668.4L1264.2 669.4L1263.2 670.5L1262.9 671.4L1262.5 673.3L1262.4 674.4L1262.7 676.1L1262.7 678.0L1262.0 679.6L1260.9 681.3L1260.0 682.9L1260.4 684.8L1260.5 685.9L1260.6 687.7L1260.8 688.7L1260.6 690.3L1260.1 692.9L1260.0 694.3L1260.3 695.7L1260.3 697.3L1259.5 699.1L1259.2 701.1L1258.7 702.2L1257.9 704.0L1257.1 705.7L1256.2 707.5L1256.0 708.6L1255.4 710.5L1255.1 711.6L1253.8 713.0L1252.6 715.8L1251.4 717.1L1250.2 718.2L1249.8 719.0L1249.0 720.5L1247.5 721.9L1247.2 722.9L1246.6 724.1L1245.7 725.7L1245.0 727.2L1244.4 728.4L1243.6 729.5L1242.8 730.1L1241.8 731.3L1241.1 732.7L1240.0 734.3L1238.6 735.2L1237.7 736.2L1236.2 737.4L1233.6 738.9L1232.4 739.1L1230.6 739.4L1228.6 740.0L1227.2 741.7L1225.7 742.7L1224.3 743.2L1223.1 744.1L1222.0 744.5L1221.1 745.0 M1048.6 608.6L1048.0 610.0L1047.9 610.8L1047.4 612.2L1047.2 613.6L1046.7 614.9L1045.8 616.2L1045.7 617.1L1046.5 619.0L1046.5 620.8L1046.4 621.9L1047.8 623.6L1048.4 624.7L1048.6 625.7L1049.6 624.6L1050.5 623.8L1051.4 622.9L1052.2 623.5L1053.6 624.1L1055.0 625.0L1055.8 625.4L1057.1 625.7L1056.1 626.8L1055.2 628.8L1054.7 630.5L1054.4 631.5L1054.4 632.6L1054.3 634.3L1054.5 635.6L1054.6 636.7L1054.2 638.9L1055.2 639.7L1056.2 641.5L1056.8 643.0L1057.1 645.7L1057.1 647.4L1057.6 648.6L1058.1 649.6L1058.6 650.8L1059.2 651.6L1059.7 653.1L1060.4 655.2L1061.4 657.1L1062.3 658.2L1063.3 659.6L1064.9 660.3L1065.5 661.0L1066.1 662.9L1066.6 664.9L1067.9 667.0L1068.6 668.6L1069.8 669.6L1070.6 670.6L1072.6 672.1L1073.3 673.4L1073.6 674.5L1074.0 676.1L1076.1 678.5L1077.1 680.0L1078.0 681.3L1079.6 683.2L1079.7 684.3L1080.3 685.9L1081.9 686.8L1084.2 689.0L1084.9 690.6L1085.7 691.4L1087.2 693.1L1088.3 693.6L1089.4 694.1L1090.4 695.6L1091.4 697.7L1092.8 698.7L1094.3 700.0L1095.8 700.9L1096.4 701.8L1096.9 703.8L1098.0 705.2L1099.0 706.6L1099.3 707.7L1100.0 708.6L1099.5 710.4L1099.4 711.4L1099.1 713.0L1099.8 715.5L1099.5 717.5L1099.8 718.9L1100.0 720.0L1100.6 721.6L1100.4 723.2L1100.6 724.5L1100.4 726.0L1099.8 727.1L1099.3 729.3L1099.0 730.5L1098.6 731.4L1099.0 732.5L1099.3 733.6L1099.6 734.6L1099.9 735.9L1099.8 737.7L1100.3 739.3L1100.4 741.4L1100.0 742.9 M1094.3 538.6L1093.8 540.5L1093.1 541.7L1092.9 542.8L1093.0 543.9L1092.7 545.8L1092.3 546.8L1091.4 548.6L1093.1 549.2L1094.2 549.3L1095.4 550.3L1097.1 551.4L1098.4 551.2L1100.2 550.4L1102.1 550.6L1104.2 551.1L1105.9 551.5L1107.3 551.2L1108.6 551.4L1109.5 552.1L1110.2 553.1L1111.7 554.1L1112.4 555.1L1113.4 556.0L1114.3 557.1L1114.3 558.7L1114.0 559.6L1113.8 561.7L1113.6 563.0L1113.8 565.1L1114.4 566.5L1114.3 568.6L1114.5 570.1L1114.2 570.9L1114.2 572.9L1114.4 574.3L1114.9 576.3L1116.0 578.3L1117.1 580.0 M1117.1 580.0L1118.3 581.5L1119.7 582.7L1121.6 584.4L1122.8 585.1L1123.5 586.0L1124.6 586.5L1125.2 587.9L1125.7 588.6L1126.8 587.0L1127.6 586.0L1128.9 585.3L1130.5 584.4L1131.9 584.1L1132.7 583.5L1134.3 582.9L1134.1 581.6L1133.6 579.7L1133.4 578.0L1132.9 577.2L1132.2 575.7L1131.4 574.3L1133.1 573.4L1134.2 572.4L1134.7 571.7L1135.6 570.3L1136.5 569.6L1137.1 568.6L1138.3 568.0L1139.9 567.3L1141.9 566.8L1143.4 566.9L1144.5 566.6L1146.0 566.5L1148.6 565.7L1148.6 564.3L1148.9 563.2L1149.0 561.9L1148.9 560.6L1149.2 558.1L1150.2 556.6L1151.0 555.1L1151.4 554.3L1151.6 553.4L1151.3 552.0L1150.6 550.2L1150.6 548.4L1150.8 546.9L1150.4 546.0L1149.4 545.0L1148.6 542.9 M1151.4 554.3L1153.3 555.4L1154.6 556.4L1155.7 557.4L1157.3 558.4L1158.4 558.6L1160.0 560.0L1161.2 561.2L1162.0 562.4L1162.6 563.1L1163.3 564.4L1164.6 566.5L1164.8 567.4L1165.7 568.6L1164.6 570.4L1163.8 572.3L1163.3 574.0L1163.5 574.9L1163.1 576.2L1162.9 577.1L1163.8 578.0L1164.8 578.6L1165.8 580.2L1166.2 581.2L1167.6 582.1L1168.6 582.9L1169.9 582.5L1171.7 581.6L1173.8 580.7L1175.0 580.4L1177.1 580.0L1178.5 579.0L1179.8 577.8L1180.5 577.1L1181.3 576.1L1182.1 575.6L1182.9 574.3L1183.1 572.9L1182.9 571.9L1183.3 570.5L1184.2 569.4L1184.7 567.9L1185.4 566.8L1185.7 565.7 M1162.9 551.4L1162.6 552.3L1162.7 553.7L1162.6 555.1L1162.3 556.6L1162.9 557.6L1163.7 558.6L1163.9 560.3L1164.3 562.9L1164.8 564.1L1165.0 565.5L1165.6 567.1L1165.7 568.6 M1180.0 557.1L1180.1 559.4L1180.8 561.1L1180.8 562.6L1181.6 564.4L1181.9 565.3L1182.0 566.6L1182.9 568.6L1182.9 570.2L1182.8 571.3L1182.6 572.6L1182.9 574.3 M1117.1 580.0L1115.3 580.8L1113.7 582.0L1112.5 582.3L1111.4 582.9L1110.0 583.2L1108.7 584.2L1106.8 584.1L1105.7 584.2L1104.6 585.1L1102.9 585.7L1103.8 586.6L1104.4 587.8L1105.0 589.8L1105.7 591.4L1107.3 590.3L1109.3 589.7L1110.4 589.2L1111.3 589.1L1112.6 588.9L1114.3 588.6L1112.7 590.1L1111.5 591.9L1110.3 593.3L1109.4 595.4L1109.2 596.6L1108.6 598.2L1108.6 600.0L1107.9 601.5L1107.3 602.4L1106.3 603.7L1104.9 605.3L1104.1 606.6L1103.9 607.6L1103.3 608.9L1102.9 611.4L1102.5 612.9L1102.0 614.0L1101.5 615.3L1101.3 616.7L1100.4 619.3L1099.0 620.7L1097.8 622.1L1097.1 622.9 M1105.7 657.1L1107.6 656.9L1108.8 657.0L1110.6 656.5L1112.4 655.8L1113.2 655.4L1114.3 654.3L1115.9 654.7L1117.6 655.3L1119.7 655.3L1121.1 655.3L1122.8 655.2L1124.0 655.1L1125.7 654.3L1126.1 655.8L1127.3 657.1L1128.3 657.9L1129.7 659.6L1130.9 660.2L1131.8 660.8L1132.8 661.5L1134.3 662.9L1135.4 664.3L1137.1 665.5L1138.8 666.3L1140.0 666.3L1141.1 667.1L1142.9 668.6L1144.5 669.8L1145.4 671.4L1146.7 672.7L1147.5 674.3L1149.1 675.5L1150.3 676.3L1151.4 677.1L1151.6 678.4L1151.8 679.8L1152.2 681.3L1153.6 682.8L1153.8 685.5L1153.6 688.4L1153.8 689.7L1154.3 691.4 M1105.7 657.1L1104.9 659.0L1104.4 660.5L1103.2 662.0L1102.6 663.4L1102.4 664.8L1102.6 666.6L1102.9 668.6L1103.4 669.9L1103.9 670.9L1104.8 672.4L1105.6 673.6L1106.0 675.0L1106.3 678.1L1107.1 680.0L1106.3 681.6L1106.2 683.4L1105.1 685.1L1105.8 688.1L1105.8 690.7L1105.7 692.3L1105.7 694.3L1105.1 695.7L1105.1 697.3L1105.5 699.3L1105.8 701.0L1106.0 702.2L1106.6 703.5L1107.0 704.7L1107.1 705.7L1107.4 707.7L1107.2 711.0L1107.7 713.7L1108.5 718.5L1109.5 721.4L1110.4 722.9L1110.8 723.9L1111.4 725.7L1112.6 727.3L1113.3 728.6L1113.8 730.3L1114.5 731.1L1115.4 732.6L1115.7 733.6L1116.0 735.1L1117.1 737.1L1117.9 736.1L1118.2 735.2L1118.7 733.4L1119.5 732.4L1120.0 731.4L1121.8 731.3L1123.4 731.6L1124.6 731.4L1126.3 731.8L1128.1 731.8L1130.0 731.3L1131.4 731.4L1133.2 732.1L1134.9 732.6L1137.0 733.1L1138.3 733.9L1140.0 734.3L1141.2 735.3L1142.1 736.1L1143.4 737.1L1144.4 738.5L1145.7 740.0L1147.3 740.8L1148.8 741.6L1150.3 742.2L1151.3 742.8L1152.1 743.5L1153.2 745.0 M1156.7 744.9L1158.7 744.6L1160.4 743.6L1161.9 743.3L1162.9 742.9L1163.0 741.5L1162.7 739.2L1163.0 738.1L1163.5 736.7L1163.6 734.5L1164.2 733.4L1164.3 731.4L1163.4 730.3L1162.7 728.8L1161.7 726.9L1161.4 724.1L1161.0 722.8L1160.4 721.8L1160.0 720.0L1160.4 718.7L1161.2 717.6L1161.8 716.4L1162.1 715.1L1162.1 713.7L1161.8 712.7L1162.1 710.6L1162.9 708.6L1163.3 706.5L1163.3 705.4L1163.1 704.4L1162.7 702.9L1162.1 701.5L1161.1 700.5L1161.0 698.8L1160.0 697.1L1159.1 696.2L1157.6 694.8L1156.2 693.6L1155.3 693.0L1154.3 691.4 M1085.7 691.4L1086.6 689.5L1087.6 688.3L1089.0 687.2L1089.8 686.4L1091.4 685.7L1092.7 686.6L1094.1 687.1L1095.0 687.6L1096.2 688.1L1097.7 687.9L1099.1 688.1L1100.0 688.6L1101.5 690.0L1102.6 690.8L1103.7 691.7L1104.8 693.0L1105.7 694.3 M1156.7 744.9L1162.9 742.9 M1114.3 740.0L1117.1 737.1 M1048.6 625.7L1049.9 626.1L1051.1 626.8L1052.2 627.2L1053.2 627.7L1054.6 627.6L1055.6 628.0L1057.1 628.6L1058.4 628.3L1059.4 628.1L1060.9 628.3L1062.0 627.3L1062.9 626.9L1064.2 626.5L1065.7 625.7L1066.4 625.1L1067.8 624.5L1069.2 624.3L1070.3 623.5L1071.4 622.9 M1080.0 477.1L1081.8 476.6L1083.0 475.7L1084.4 475.7L1085.8 475.4L1087.3 473.9L1088.6 472.9L1090.5 472.8L1092.1 473.5L1093.7 473.4L1094.6 473.2L1096.7 473.7L1098.3 474.0L1100.0 474.3L1101.0 475.2L1101.8 475.7L1103.3 476.9L1104.6 478.5L1105.7 480.0L1104.0 480.0L1102.7 480.6L1101.8 480.6L1100.4 481.6L1099.1 482.0L1097.1 482.9L1094.9 482.9L1093.8 482.9L1092.3 482.8L1090.1 481.8L1089.2 482.1L1088.0 482.5L1087.1 482.5L1085.7 482.9L1084.9 481.8L1083.8 480.4L1082.5 478.6L1081.0 477.9L1080.0 477.1 M1117.1 481.4L1122.9 480.9L1123.4 483.4L1117.7 483.7L1117.1 481.4 M1140.0 488.6L1141.4 491.4 M1144.3 497.1L1145.7 501.4 M1145.7 508.6L1146.3 511.4 M1140.0 528.6L1141.4 527.7L1143.2 527.1L1144.6 527.0L1145.7 527.1L1146.5 528.5L1146.7 529.5L1147.1 531.4L1145.1 532.0L1143.4 532.2L1141.4 532.9L1141.2 530.8L1140.5 529.4L1140.0 528.6 M1001.4 598.6L1002.4 597.9L1004.3 597.1L1004.0 598.7L1004.1 599.8L1004.1 600.9L1003.4 602.9 M1099.9 745.1L1099.9 747.1L1098.9 748.8L1098.2 750.7L1098.6 752.9L1097.5 755.1L1097.8 757.0L1097.9 758.1L1097.7 759.3L1097.3 760.8L1096.4 762.1L1096.3 764.3L1096.4 765.7L1095.6 767.8L1094.6 770.4L1093.6 771.8L1093.1 774.6L1093.9 775.9L1094.4 777.7L1095.1 779.8L1094.3 782.9L1093.1 785.1L1092.8 787.8L1092.6 789.0L1093.2 791.2L1093.4 792.8L1093.5 794.3L1092.2 797.5L1092.1 800.0L1091.4 803.0L1089.8 804.6L1088.9 807.5L1087.5 808.8L1087.4 809.9L1087.8 811.2L1087.8 813.1L1087.9 815.0L1087.8 816.8L1086.9 818.7L1085.5 820.1L1084.3 822.7L1084.7 824.7L1085.1 826.0L1084.6 827.9L1084.7 829.4L1084.4 830.3L1083.9 832.3L1082.7 833.7L1083.1 835.0L1083.3 836.5L1083.1 838.7L1083.6 840.7L1084.7 842.5L1084.8 843.8L1084.6 844.9L1084.8 846.6L1083.7 848.3L1082.9 850.5L1082.7 851.9L1082.5 853.6L1082.9 855.0L1082.6 856.0L1082.9 857.3L1083.1 858.5L1083.6 860.0L1083.4 861.5L1083.9 862.3L1084.2 863.9L1084.4 865.9L1085.1 867.1L1085.7 868.6L1084.9 869.4L1084.3 870.5L1084.0 871.9L1084.0 873.0L1084.1 874.0L1083.5 875.1L1082.8 876.2L1082.5 877.1L1081.6 879.0L1081.6 880.4L1081.1 881.5L1080.8 883.0L1080.3 884.1L1080.4 885.7L1081.1 886.9L1081.4 888.3L1081.3 890.1L1082.0 891.3L1082.5 892.6L1082.5 894.3L1082.2 896.4L1082.3 898.1L1081.9 899.0L1081.6 900.6L1081.0 901.3L1080.4 902.8L1080.9 904.3L1081.3 906.0L1081.3 908.2L1081.6 910.0L1081.4 911.4L1082.1 912.3L1082.5 913.4L1083.3 914.4L1082.9 915.7L1083.5 916.5L1083.6 917.8L1084.1 919.4L1084.8 920.0L1084.7 921.7L1084.8 922.8L1085.7 924.3L1086.8 925.3L1087.5 925.9L1088.4 926.9L1089.4 927.3L1090.0 928.6L1091.2 928.2L1092.7 928.4L1094.6 929.0L1096.6 929.9L1097.5 930.7 M1113.8 746.0L1113.6 747.0L1113.1 748.6L1112.1 749.6L1111.4 750.7L1111.7 752.1L1111.0 754.2L1110.5 756.0L1109.7 757.2L1109.7 758.3L1110.1 759.8L1110.3 761.4L1109.8 763.0L1108.6 764.5L1108.5 766.2L1108.1 767.3L1107.4 768.9L1106.4 769.7L1105.9 770.6L1105.0 772.1L1104.0 773.1L1103.4 774.9L1102.6 776.9L1102.3 779.1L1102.2 781.6L1102.8 782.9L1102.2 784.3L1102.0 786.4L1101.4 788.7L1101.1 790.9L1101.6 792.9L1101.5 794.4L1101.8 795.7L1101.9 796.7L1102.0 798.5L1102.3 800.0L1102.4 801.0L1102.9 802.7L1103.4 804.1L1103.5 806.7L1102.8 808.6L1102.2 810.1L1101.3 810.9L1101.5 811.9L1100.9 813.4L1101.6 815.7L1101.9 817.7L1101.4 820.1L1100.7 821.4L1100.0 822.3L1099.5 823.4L1099.0 824.3L1098.0 825.3L1097.7 826.9L1097.4 827.8L1097.9 829.6L1097.5 832.1L1097.3 833.2L1096.1 834.6L1096.0 835.6L1096.2 837.0L1095.5 837.9L1095.1 839.9L1094.8 841.8L1094.3 842.8L1093.4 844.3L1092.9 846.4L1092.5 848.2L1092.2 849.5L1091.7 851.4L1092.1 853.6L1092.5 855.3L1092.1 856.6L1091.9 857.8L1092.4 859.6L1093.0 861.0L1092.9 862.2L1093.2 864.3L1094.1 865.8L1094.0 867.3L1094.1 868.2L1094.3 870.3L1094.1 871.8L1094.3 872.8L1094.0 874.6L1093.3 875.7L1092.3 876.5L1091.5 878.1L1090.0 879.3L1089.6 881.0L1089.2 882.5L1088.3 883.9L1087.1 885.8L1087.4 887.1L1087.4 888.2L1086.8 890.0L1086.2 892.0L1085.3 893.4L1085.9 895.9L1085.5 899.5L1085.3 900.7L1085.1 901.8L1085.0 903.2L1085.7 905.0L1086.1 906.7L1087.0 907.9L1088.3 908.8L1089.3 909.8L1090.0 911.4L1090.7 912.7L1090.8 914.5L1090.4 916.4L1090.7 917.5L1090.5 918.7L1091.1 920.0L1092.4 920.0L1093.7 919.6L1095.3 919.0L1097.2 919.2L1099.9 920.2L1101.6 920.4L1103.3 920.1L1105.0 919.6L1106.4 920.5L1107.7 921.4L1109.2 921.5L1110.3 922.1 M1162.8 810.7L1164.0 812.3L1165.1 812.9L1166.2 814.2L1167.7 814.8L1167.9 816.5L1168.3 817.6L1169.3 819.3L1169.4 820.4L1170.1 821.5L1170.1 823.2L1169.8 824.5L1169.0 825.9L1169.3 827.9L1168.6 828.9L1168.1 830.0L1167.5 831.2L1167.2 832.4L1166.3 832.9L1165.0 834.3L1163.9 834.2L1161.9 833.9L1160.8 833.9L1159.1 834.6L1157.7 835.4L1156.8 835.6L1155.6 836.1L1154.3 836.4L1153.2 836.9L1152.0 837.3L1150.8 838.1L1150.1 839.3L1148.1 839.1L1146.2 839.6L1144.7 840.1L1142.5 839.6L1142.2 840.8L1142.2 842.6L1141.9 844.3L1141.7 845.1L1141.4 846.0L1141.3 847.4L1141.4 849.3L1140.1 848.9L1138.4 849.3L1136.5 849.4L1135.2 850.0L1133.7 850.2L1131.8 849.6L1128.6 850.3L1128.5 851.2L1128.3 852.8L1128.7 854.2L1128.1 856.3L1127.5 857.8L1129.1 858.1L1130.3 858.6L1131.8 859.3L1132.8 860.0L1132.6 862.1L1132.6 863.3L1131.5 864.7L1130.7 866.4L1129.3 867.2L1128.3 867.9L1127.4 869.6L1126.5 871.4L1126.4 872.8L1125.2 874.6L1124.5 875.9L1123.2 877.5L1121.9 878.8L1120.0 879.3L1119.1 880.2L1118.8 881.8L1117.1 883.1L1116.0 884.2L1115.7 885.7L1117.1 886.6L1117.9 887.3L1118.9 888.4L1120.0 890.0L1121.3 891.3L1121.7 892.3L1123.2 893.2L1122.9 895.4L1122.0 896.3L1121.5 897.5L1120.0 898.6L1118.6 899.4L1117.6 900.8L1116.7 901.6L1115.7 902.8L1114.5 903.3L1113.6 904.1L1113.0 904.9L1112.5 906.3L1111.4 907.1L1111.2 908.7L1110.3 910.6L1109.4 911.9L1108.3 913.1L1107.1 913.6L1106.1 914.8L1105.7 915.9L1105.5 917.2L1105.4 918.6L1105.0 919.6L1105.9 920.3L1106.8 921.3L1108.9 921.5L1110.3 922.1L1108.9 922.8L1108.0 924.0L1106.8 924.1L1105.5 924.7L1103.5 925.4L1102.2 925.5L1100.2 924.9L1097.5 925.3L1098.0 926.4L1098.2 927.7L1097.6 929.6L1097.5 930.7 M1162.8 810.7L1162.4 809.2L1162.6 807.5L1162.7 805.4L1162.0 803.7L1161.8 802.1L1162.1 800.0L1162.2 798.8L1161.5 797.3L1162.1 795.7L1162.5 794.3L1162.8 793.6L1163.0 792.0L1163.2 790.7L1163.0 788.8L1163.2 787.2L1164.3 785.8L1165.0 785.0L1165.9 784.9L1167.4 784.9L1168.9 784.6L1170.5 784.3L1171.4 783.9L1172.8 785.3L1173.9 786.3L1175.3 787.4L1176.1 788.4L1177.8 789.3L1179.6 790.4L1180.7 790.8L1182.2 791.7L1182.9 792.8L1184.3 793.6L1186.0 794.9L1186.8 796.9L1187.5 797.9L1186.9 799.4L1186.2 800.1L1186.1 801.9L1186.3 802.9L1186.4 804.3L1185.3 805.7L1184.7 807.4L1183.2 808.5L1183.0 809.6L1182.1 810.7L1181.1 810.9L1179.5 810.8L1178.8 811.4L1177.3 811.7L1175.3 812.0L1173.6 812.9L1172.0 811.5L1170.7 810.9L1169.9 810.6L1168.6 810.6L1167.2 811.3L1164.7 811.3L1162.8 810.7 M1187.5 797.9L1187.8 796.1L1188.7 794.6L1189.2 793.5L1190.2 792.8L1191.9 792.2L1192.8 791.4L1193.6 790.0L1194.4 788.4L1195.5 787.5L1195.9 786.5L1197.0 786.1L1197.8 785.1L1198.9 783.7L1199.3 782.9L1200.0 781.6L1201.2 779.8L1202.9 778.6L1203.9 777.3L1204.2 775.8L1205.7 774.3L1205.7 772.6L1206.0 771.4L1207.1 769.5L1207.5 768.4L1209.1 767.3L1210.0 765.7L1210.6 763.6L1210.1 761.5L1210.0 760.1L1210.6 758.9L1211.1 757.1L1211.7 755.6L1212.2 754.3L1213.1 752.4L1214.3 750.7L1215.0 750.0L1216.5 749.5L1217.0 748.7L1217.8 747.4L1219.2 746.7L1219.7 746.1L1220.6 745.6L1221.8 745.1 M1156.7 745.5L1157.3 746.3L1158.6 747.5L1160.2 747.6L1161.7 748.4L1162.8 748.6L1163.6 749.7L1164.3 750.8L1165.0 752.3L1165.2 754.1L1165.3 755.3L1165.0 757.1L1164.2 758.6L1163.9 759.7L1163.5 761.7L1162.2 763.2L1161.8 764.6L1163.6 764.6L1165.3 765.1L1166.8 766.1L1167.9 766.0L1170.2 765.7L1171.4 765.7L1172.5 765.4L1174.4 764.7L1175.0 763.9L1176.1 763.0L1177.9 762.4L1179.1 761.8L1180.0 761.4L1180.7 759.9L1181.6 759.2L1182.8 758.4L1183.2 757.3L1184.3 756.1L1184.2 754.3L1183.9 752.5L1183.2 751.7L1182.9 750.1L1182.1 748.6L1181.6 747.5L1181.5 746.1 M1184.3 756.1L1184.2 757.4L1183.6 758.4L1182.2 760.0L1181.9 761.4L1182.0 762.8L1181.2 764.4L1180.6 765.8L1180.0 767.9L1178.1 768.4L1176.6 769.8L1175.7 770.8L1174.8 773.3L1173.6 774.7L1172.9 775.6L1171.4 776.4L1170.6 777.9L1170.3 779.2L1169.4 780.4L1168.5 781.8L1167.8 782.5L1166.6 784.1L1165.0 785.0 M1128.6 858.9L1133.9 858.9L1133.9 862.1L1129.6 862.6 M1084.6 914.6L1085.4 916.3L1086.3 917.0L1087.9 917.8L1086.6 919.5L1085.7 921.1 M1073.9 885.7L1075.2 886.6L1076.1 887.8L1075.3 889.2L1075.0 890.0 M75.0 430.0L76.1 431.8L76.3 433.6L77.0 435.3L77.1 436.4L78.0 437.6L78.8 438.6L79.2 440.6L79.8 441.4L80.4 442.9L80.3 444.8L80.8 446.4L81.0 447.4L80.7 448.8L81.1 449.7L81.4 451.4L81.6 452.7L81.2 454.9L80.8 456.7L80.4 457.9L81.8 458.0L83.5 459.1L84.6 459.1L85.7 458.9L86.5 457.9L87.0 456.0L88.0 454.4L88.9 453.6L89.2 452.5L89.6 450.6L89.6 448.8L90.0 447.1L91.3 446.3L92.5 445.3L93.3 444.2L94.3 442.9L94.7 444.2L95.4 445.4L95.4 446.9L96.1 447.9L96.4 449.3L96.2 450.3L96.4 452.0L96.8 454.1L97.0 455.4L97.5 456.5L97.5 457.9L97.5 459.4L97.8 460.4L98.3 461.8L98.7 463.5L99.2 464.8L100.1 465.6L100.7 466.4L101.6 467.3L102.2 468.2L102.8 469.0L103.5 470.3L104.5 471.6L105.0 472.9L104.9 474.4L104.8 475.7L104.7 477.9L105.4 479.2L105.6 480.0L106.1 481.4L106.2 483.2L107.0 485.0L107.5 486.4L107.3 487.2L107.2 488.9L107.1 490.0L107.4 491.6L107.9 493.0L108.3 494.2L109.3 495.4L110.2 495.9L111.7 496.4L113.6 496.4L114.8 494.7L116.0 493.6L116.8 492.1L118.4 490.7L119.3 489.7L120.0 487.9L121.3 486.4L122.1 485.7 M122.1 485.7L122.0 487.0L122.6 488.4L122.9 489.8L123.1 491.0L123.2 492.1L123.6 493.5L123.7 494.8L123.7 495.9L124.2 497.1L124.6 498.1L125.6 499.1L126.4 500.7L126.7 501.8L127.5 503.4L127.3 505.1L127.4 506.0L128.3 507.5L128.6 509.3L128.6 510.8L128.6 512.3L128.7 514.0L129.2 515.7L130.1 516.8L130.7 517.9L131.0 518.9L131.8 520.5L131.9 522.2L132.7 523.4L132.8 524.3L132.2 525.7L131.6 526.6L130.9 528.0L129.9 529.1L129.6 529.9L128.6 530.7L128.8 532.0L129.1 533.0L129.2 534.8L129.5 535.8L129.4 537.5L129.4 539.4L128.6 541.4L128.9 542.2L129.1 543.6L129.3 545.3L129.7 546.6L129.8 548.0L130.7 550.0L132.3 550.9L133.3 552.0L134.3 553.2L135.0 554.3L135.7 556.2L136.4 557.9L136.4 559.2L136.8 561.3L137.1 562.8L137.8 564.4L138.3 565.7L138.8 567.8L139.3 569.3L140.5 571.1L141.0 572.9L141.7 573.9L142.6 574.7L143.2 576.2L143.6 577.8L144.8 578.9L146.0 580.4L147.4 581.5L148.5 582.3L149.4 583.4L150.0 584.3L151.2 585.0L152.6 586.3L153.8 586.9L154.7 587.0L155.9 587.8L156.4 588.6L156.8 589.9L157.4 590.8L157.9 591.6L158.6 592.8L158.6 594.3L158.3 595.2L158.9 596.6L159.1 597.8L159.6 599.3L160.7 600.2L161.4 601.5L162.0 603.0L162.5 603.9L162.8 605.7L163.7 607.3L163.9 608.4L165.0 610.0L165.9 610.9L166.6 611.7L167.6 612.4L169.3 613.2L170.4 614.0L171.4 614.3 M171.4 614.3L171.1 612.4L170.6 610.5L169.8 609.2L169.2 608.4L168.4 606.8L167.1 605.7L166.7 603.6L166.1 602.2L165.2 601.5L164.5 600.5L164.1 599.0L163.8 598.2L162.8 597.1L162.4 596.3L162.1 594.7L162.1 593.3L161.6 592.1L160.7 590.4L159.5 589.4L158.6 588.6L157.8 587.4L157.6 586.6L157.3 585.3L157.1 584.3L156.7 583.0L156.7 581.5L156.4 580.0L156.7 577.8L156.7 576.4L156.2 575.2L155.0 573.6L154.4 572.3L154.3 571.4L153.7 569.4L153.9 567.7L153.6 566.7L153.0 565.4L153.3 564.1L153.2 562.8L152.0 562.1L150.7 560.4L149.9 559.8L149.0 558.7L148.6 557.6L147.8 556.4L146.9 555.5L146.1 555.0L145.1 554.1L143.7 553.5L142.5 553.2L141.7 552.3L140.8 551.7L139.7 550.7L139.3 550.0L138.9 548.9L138.9 547.8L138.1 546.6L137.8 545.2L137.7 543.6L137.6 542.5L137.1 541.4L136.9 539.5L136.9 538.2L136.7 537.0L136.0 535.8L135.5 534.8L135.0 532.8L136.1 531.0L136.2 529.6L136.5 528.2L136.5 526.9L136.4 525.9L136.1 524.3L136.3 523.1L136.9 522.1L137.1 520.4L137.3 519.2L137.5 517.1L137.1 515.7L136.7 513.7L137.1 512.6L137.1 511.4L139.2 512.1L140.0 512.4L141.4 512.5L142.7 513.1L143.7 513.7L144.7 514.9L145.7 515.7L147.4 514.9L149.0 514.3L150.0 513.6 M150.0 513.6L150.9 515.0L151.3 515.9L151.3 516.9L151.4 518.5L152.1 520.0L152.9 520.7L154.0 521.5L154.9 523.1L155.4 525.1L156.4 526.4L156.9 527.4L157.7 528.2L159.1 529.1L159.5 529.9L160.7 530.7L161.0 532.3L161.7 533.3L162.8 535.0L162.0 536.8L161.9 538.2L161.7 539.5L161.8 541.4L162.7 539.7L163.7 539.0L165.2 538.3L166.1 537.5L167.1 537.1L168.3 536.2L169.4 535.0L169.8 533.9L170.4 532.4L171.4 530.7L172.5 530.5L174.2 529.8L175.3 529.1L176.2 527.8L177.8 526.4L178.5 524.6L179.2 523.0L180.1 522.1L181.0 521.0L182.1 520.0L182.4 518.5L182.7 517.3L183.3 516.3L183.9 515.2L184.3 513.6L184.7 511.5L184.8 510.1L184.3 508.8L183.7 507.5L183.5 506.1L183.2 505.0L182.6 503.5L182.5 502.5L181.9 501.1L181.6 500.3L180.9 499.0L180.6 498.1L180.0 496.4L178.9 495.5L178.3 494.7L177.4 493.1L176.7 491.8L175.7 490.0L174.6 488.9L174.2 487.6L173.4 486.8L172.6 485.0L171.4 483.6L170.5 482.1L169.8 481.2L168.8 480.0L167.7 478.7L167.1 477.1L166.8 476.0L166.3 474.4L166.2 472.9L165.5 471.5L165.0 470.7L166.1 469.3L167.3 468.1L168.1 467.2L169.3 466.4L170.4 465.7L171.3 465.5L172.4 464.5L174.1 463.4L175.7 462.1L177.4 461.3L178.7 460.4L180.4 460.3L182.1 460.0L183.1 460.6L184.7 461.1L185.8 461.6L187.0 462.0L188.6 462.1L189.4 464.0L190.2 465.5L190.7 466.4L189.6 467.9L188.6 468.6L189.6 467.2L190.7 466.5L191.1 465.5L191.8 464.2L192.2 463.4L192.8 462.1L193.9 460.8L194.9 460.4L196.1 459.2L197.1 458.3L198.1 457.7L199.3 456.8L201.0 456.3L202.8 455.8L204.0 455.4L204.9 454.9L206.6 453.8L207.8 453.6L209.3 452.9L210.4 452.2L212.3 451.2L213.9 450.8L215.0 450.4L216.4 449.3L217.3 448.5L218.8 447.1L220.8 446.6L222.3 446.0L223.2 444.5L223.9 443.9L225.0 442.9L226.6 442.0L227.9 440.6L229.1 440.3L230.0 439.8L231.0 438.8L232.1 437.4L233.6 436.4L234.5 435.8L235.3 434.3L236.7 433.2L237.1 432.0L237.8 430.0 M124.3 430.0L124.6 432.2L125.2 433.4L125.9 435.2L126.4 436.4L126.1 438.3L125.7 439.4L125.3 441.2L124.3 442.9L125.4 443.7L126.7 445.2L127.5 446.5L128.6 447.1L129.7 448.3L130.6 448.9L131.6 449.6L132.5 450.5L132.8 451.4L133.8 453.1L134.4 454.3L134.4 456.3L135.0 457.9L135.9 458.3L137.2 459.2L138.0 460.6L139.3 462.1L138.8 463.3L138.7 464.6L137.9 466.2L137.7 467.2L137.1 468.6L135.4 469.0L133.7 469.2L132.1 470.0L130.5 470.2L128.6 470.7L127.8 471.7L127.3 473.4L126.9 474.9L126.2 476.2L125.3 477.1L124.9 478.5L124.2 480.4L124.5 482.1L124.3 483.6L123.1 485.0L122.1 485.7 M139.3 462.1L140.8 461.0L142.1 460.4L143.1 460.0L144.6 459.1L145.7 457.9L146.5 457.2L147.6 456.3L149.0 455.8L150.0 455.7L151.1 454.9L151.9 454.4L152.8 454.3L154.3 453.6L156.3 452.8L157.4 452.1L158.6 451.4L159.9 451.4L160.9 451.4L162.8 450.6L165.0 450.4L165.9 451.2L167.1 452.1L168.2 452.8L169.3 453.6L169.3 455.0L169.4 456.2L170.0 457.3L170.5 458.3L171.4 460.0L172.8 460.8L174.0 461.1L175.7 462.1 M137.1 468.6L138.5 469.7L139.5 470.7L140.5 472.1L140.7 473.5L141.4 475.0L142.1 476.5L142.3 477.4L143.2 478.6L143.3 480.4L143.6 481.6L143.6 483.6L145.1 482.7L147.0 482.4L148.6 482.2L150.0 481.4L151.9 481.6L152.8 482.3L154.2 482.7L155.5 483.2L156.4 483.6L157.0 484.8L157.9 485.3L158.8 486.3L159.7 487.0L160.7 487.9L161.0 489.1L161.5 489.9L162.4 490.8L162.9 491.7L163.7 492.9L165.0 494.3L165.2 495.8L165.8 496.8L165.8 498.3L166.2 499.2L167.1 500.7L167.9 502.4L168.2 503.5L169.3 505.0 M150.0 455.7L150.0 457.3L150.3 458.5L150.9 459.5L151.4 460.6L152.1 462.1L153.1 464.1L154.0 465.3L155.3 466.5L156.4 467.6L157.7 468.1L158.6 468.6L159.2 470.1L159.6 472.2L160.3 473.9L160.7 475.0L161.5 476.1L161.8 477.0L162.8 478.1L164.2 479.8L165.0 481.4L165.3 482.7L166.0 483.8L167.3 485.1L168.7 486.8L169.3 487.9L170.6 489.6L171.0 490.8L171.4 492.2L172.2 493.4L173.6 494.3L174.3 496.2L174.7 497.9L175.0 499.9L175.1 501.1L174.6 502.9L172.9 504.0L170.8 504.8L169.3 505.0 M150.0 513.6L150.4 511.4L150.0 510.2L150.0 509.3L150.7 508.4L151.9 507.3L153.0 506.9L154.3 506.1L155.9 505.5L157.0 505.3L158.9 505.0L160.7 505.0L162.4 504.9L163.4 504.7L165.1 504.4L166.8 505.0L167.9 505.2L169.3 505.0L170.5 504.9L171.8 504.5L173.0 504.0L174.6 502.9L174.8 504.8L175.2 506.5L174.9 508.6L174.9 509.8L175.7 511.4L176.0 512.8L175.9 514.2L175.5 515.4L175.5 516.4L174.6 517.9L172.7 518.4L171.1 519.0L169.3 520.0L168.9 521.6L168.6 523.5L167.7 524.8L167.1 526.4L165.3 527.2L163.9 527.7L163.4 528.4L162.2 529.2L160.7 530.7 M155.3 512.5L159.6 516.8 M181.1 472.9L182.5 472.1L183.5 470.9L184.4 470.3L185.3 469.6L187.2 470.4L188.6 470.8L189.6 470.7L190.2 471.6L190.9 472.6L191.1 473.5L191.8 475.0L190.8 476.3L190.4 477.5L189.1 478.9L188.6 480.4L187.3 480.3L185.3 481.0L183.2 481.0L182.2 479.9L181.4 479.1L180.4 477.1L180.3 475.8L180.6 474.3L181.1 472.9 M240.0 442.9L240.7 442.0L241.4 440.4L242.7 439.3L243.2 438.6L244.7 439.0L245.7 439.2L247.5 439.0L247.6 440.6L247.3 441.5L247.0 442.7L246.9 443.9L247.1 445.1L247.5 446.1L247.3 448.0L246.7 449.6L245.9 451.1L245.4 452.1L244.3 453.6L243.5 455.1L243.2 456.4L242.1 457.9L242.0 456.6L241.4 455.4L240.9 453.9L240.5 453.0L239.6 451.4L239.1 449.5L239.0 447.4L239.8 445.9L239.9 444.7L240.0 442.9 M112.5 559.6L113.5 560.1L114.8 560.4L116.3 561.4L117.6 561.8L118.5 561.9L120.0 561.8L121.3 562.2L123.0 563.3L123.5 564.1L124.1 565.2L125.5 566.0L126.4 567.1L127.3 567.7L128.2 568.4L129.2 569.9L130.6 570.8L131.2 571.6L131.9 572.7L132.8 573.6L134.1 574.6L135.1 575.8L135.5 576.6L137.0 578.0L138.0 578.9L139.3 580.0L140.6 581.2L141.3 582.3L142.5 583.4L143.8 584.4L144.9 585.4L145.7 586.4L146.6 587.9L147.7 588.5L148.8 589.6L149.7 589.9L150.6 590.7L151.4 592.3L151.5 593.6L152.1 595.0L153.1 596.0L153.6 596.7L153.9 597.6L154.7 598.8L155.8 599.9L156.3 600.8L157.4 602.6L158.6 603.6L158.8 604.9L159.1 606.2L159.7 606.9L160.2 608.3L160.5 609.3L161.5 610.7L162.8 612.1L163.3 613.1L163.5 614.5L164.4 615.8L165.4 617.0L165.4 619.1L166.1 620.7L166.7 622.7L166.4 624.7L166.6 626.0L167.2 628.0L167.1 629.3L165.6 629.9L164.3 630.9L162.8 632.5L161.5 631.3L160.4 631.0L158.6 630.3L156.8 629.0L156.0 627.9L155.0 626.0L153.8 625.1L153.3 624.2L152.1 622.8L151.6 621.7L150.9 621.0L150.1 620.2L149.4 618.3L147.8 616.9L146.7 615.6L145.7 614.3L144.8 612.4L143.8 610.6L143.1 609.3L142.4 608.7L141.2 607.7L140.0 606.4L139.3 605.7L138.7 604.3L137.9 603.2L138.1 602.4L137.7 600.8L136.1 599.1L135.0 597.2L133.9 596.0L132.8 595.0L132.4 592.9L131.7 592.1L131.0 590.9L130.1 588.8L129.0 586.5L127.5 585.3L126.4 584.3L125.6 582.2L123.9 580.2L123.2 579.0L122.4 577.7L121.2 575.9L120.7 574.4L120.0 573.6L118.9 571.8L117.7 570.4L117.4 569.1L115.8 567.8L115.0 566.1L114.6 565.0L113.8 563.2L112.9 562.4L112.6 561.0L112.5 559.6 M122.1 586.4L125.3 589.6 M129.6 599.3L131.8 602.5 M133.9 607.8L137.1 612.1 M162.8 633.6L164.1 633.4L165.3 632.6L166.3 632.4L168.0 632.6L169.8 632.2L171.4 632.5L173.6 632.8L175.1 632.7L176.6 633.1L177.9 633.3L179.9 634.3L181.3 634.6L182.1 634.6L184.0 634.2L185.4 634.4L186.4 634.6L187.4 635.0L188.8 635.5L190.7 635.7L192.7 636.5L194.7 636.9L195.7 637.9L197.1 638.9L198.9 639.4L200.1 639.8L200.8 640.5L202.1 641.2L203.6 642.1L205.0 643.7L205.9 644.8L207.1 645.4L208.9 646.4L207.7 647.7L205.7 648.6L203.8 648.1L202.6 647.6L200.7 647.0L199.9 646.4L198.4 646.5L197.1 646.4L195.3 645.8L194.3 645.4L192.8 645.1L191.8 644.8L190.7 644.5L188.6 644.3L187.0 643.8L185.5 643.7L184.4 644.0L182.9 643.0L181.8 642.6L180.0 642.1L178.1 641.4L176.7 640.9L175.8 640.8L174.5 641.2L173.4 641.4L171.4 641.1L170.3 640.0L168.7 639.1L166.9 638.0L165.0 637.8L164.4 636.5L164.3 635.6L163.7 634.3L162.8 633.6 M211.1 647.5L212.3 647.7L213.6 647.5L214.9 647.2L216.4 646.8L217.4 647.0L219.0 647.8L220.7 648.6 M222.8 648.1L223.8 647.9L225.2 648.0L226.6 647.4L228.1 647.4L229.3 647.5L231.2 647.9L232.2 648.6L233.6 649.0 M235.7 648.6L236.9 648.1L238.6 648.1L239.6 648.3L241.2 648.3L242.4 648.3L244.0 647.8L244.8 647.8L246.4 647.5L248.3 647.4L249.7 647.3L251.5 647.0L253.0 646.7L254.6 646.7L255.6 646.6L257.1 646.8L258.1 647.3L259.6 647.3L260.8 646.7L261.8 646.5L263.6 646.4 M233.6 655.0L235.2 655.1L236.5 654.9L237.7 654.2L238.6 654.1L240.0 653.9L241.0 655.2L241.9 655.8L243.2 657.1L241.4 657.2L240.4 657.5L239.2 658.5L237.8 658.8L236.5 658.2L235.8 657.7L234.8 656.3L233.6 655.0 M182.1 585.3L183.5 584.8L184.5 584.3L186.4 583.2L188.5 582.5L189.9 581.6L191.7 580.9L192.8 580.0L194.3 579.0L196.0 577.9L197.1 577.8L198.0 576.8L199.6 575.7L201.3 574.5L202.2 573.5L203.3 572.1L204.6 570.7L205.7 569.3L206.8 568.6L208.1 568.3L209.4 566.9L210.4 565.4L211.1 564.5L212.1 562.8L212.8 562.0L214.3 561.1L215.4 560.1L216.4 558.6L217.2 556.9L218.3 555.5L219.3 554.5L220.3 553.3L220.7 552.1L222.3 552.9L223.6 553.1L225.0 553.2L225.9 554.3L226.3 555.4L226.8 556.6L228.1 557.6L229.3 558.6L230.7 559.3L231.5 560.2L233.6 560.7L232.8 561.4L231.9 562.6L230.7 563.3L229.3 565.0L228.8 565.7L228.0 566.9L226.9 568.1L225.7 568.6L225.0 569.3L225.6 570.6L226.1 572.4L226.1 573.8L227.1 575.7L228.1 577.6L228.6 579.5L229.7 580.5L230.3 582.1L231.1 583.1L231.6 584.7L232.8 586.3L233.2 587.4L233.6 588.6L231.9 589.2L230.9 589.6L229.3 590.7L228.1 591.9L227.1 593.3L225.8 594.9L225.6 596.0L225.0 597.1L225.0 598.6L224.9 599.6L224.3 600.9L224.3 602.6L223.5 604.2L222.8 605.7L222.8 607.0L222.7 608.7L222.0 610.7L221.2 612.0L221.2 613.2L220.7 614.3L220.0 616.1L218.9 617.3L218.9 618.6L218.6 619.6L217.5 618.5L216.4 617.4L215.5 617.2L214.3 616.4L213.1 617.3L212.5 618.2L211.7 619.1L211.1 620.7L210.3 619.9L209.5 618.9L207.9 617.8L206.5 617.2L205.7 616.4L204.5 616.2L202.8 615.4L200.9 615.1L199.3 614.3L197.2 614.6L196.0 614.4L194.1 614.4L192.8 614.3L191.6 613.8L190.0 613.0L188.6 612.1L187.6 610.9L187.2 610.0L186.8 609.0L186.5 607.5L186.3 605.8L186.1 604.5L186.4 603.6L185.7 601.5L184.9 600.2L184.4 598.2L184.0 596.5L184.3 595.0L184.0 592.9L183.6 591.5L183.3 590.0L182.8 588.8L182.3 587.6L182.1 585.3 M186.4 583.2L187.3 584.4L187.5 585.7L187.9 586.6L188.6 588.6L190.3 587.7L191.6 587.7L193.4 586.9L195.0 586.4L196.0 586.2L197.8 586.2L199.5 586.0L200.7 585.9L202.3 585.0L203.6 584.3L204.9 583.7L205.5 583.0L206.9 582.1L207.9 582.0L209.3 581.3L210.8 580.5L212.1 580.0L213.0 579.1L214.0 577.6L214.4 576.3L214.9 575.1L216.4 573.6L218.3 573.3L219.6 573.1L220.8 572.7L221.6 572.3L222.8 571.4L223.7 570.7L225.0 569.3 M211.1 567.1L212.2 566.2L213.4 565.3L214.3 565.0L215.1 566.8L215.3 568.2 M237.8 590.7L239.2 590.6L240.4 590.0L242.0 589.5L242.8 589.0L244.3 588.6L245.7 588.4L246.9 588.2L248.0 588.2L249.5 587.5L251.6 587.8L252.8 588.1L254.4 587.1L255.6 586.5L257.7 586.4L258.8 586.4L259.9 586.1L261.4 586.4L262.3 586.0L263.3 585.0L264.6 584.3L264.4 585.6L263.6 586.9L263.6 588.6L262.3 589.3L261.0 589.8L259.4 590.1L258.6 590.7L257.1 591.8L255.3 592.3L253.3 592.1L252.0 592.0L250.2 592.7L248.6 592.8L247.4 593.4L246.2 594.9L245.0 595.6L244.3 596.1L245.6 597.1L246.7 597.9L247.6 598.7L248.6 599.3L250.2 599.5L251.5 600.3L252.8 600.9L254.0 601.4L255.0 601.4L254.0 602.4L252.8 603.6L250.7 603.1L249.2 602.8L248.2 603.0L246.4 602.5L245.3 603.3L244.2 603.5L243.2 604.2L242.1 605.7L242.6 607.1L243.3 608.1L243.7 609.0L243.6 610.4L244.3 612.1L245.2 613.8L245.7 614.7L246.5 615.9L248.0 617.4L248.6 618.6L249.1 619.7L249.6 621.3L250.5 623.0L250.7 625.0L251.1 625.9L252.0 627.0L252.3 628.5L252.8 629.3L251.5 628.8L250.4 628.8L248.6 629.3L248.4 628.3L247.7 626.8L246.3 625.4L245.8 624.5L245.3 622.8L244.7 621.7L244.4 620.3L243.2 618.6L242.8 617.3L242.1 616.4L242.2 618.2L241.9 619.3L241.4 621.1L240.9 621.9L240.0 622.8L240.5 624.6L240.3 625.6L240.5 627.0L240.9 628.3L241.1 630.3L239.0 630.6L237.5 630.7L235.7 630.3L235.3 628.9L235.1 627.2L234.8 626.4L234.9 624.9L234.6 622.8L234.9 621.5L234.7 620.6L234.9 619.3L234.9 617.7L234.5 616.4L234.1 615.3L233.6 614.3L234.0 612.2L233.9 610.3L234.4 609.3L234.7 608.2L234.9 606.9L235.7 605.7L236.0 604.8L235.8 603.3L235.4 601.2L235.8 600.2L235.9 598.8L235.7 597.1L235.7 595.7L236.4 593.9L237.0 592.5L237.8 590.7 M242.1 480.4L243.2 480.4L244.3 480.1L245.3 479.6L246.4 479.3L248.1 479.9L249.6 481.4L249.9 482.8L250.0 483.7L249.8 485.2L250.3 486.9L250.3 487.9L249.7 489.4L248.8 490.5L248.7 492.0L248.4 493.1L248.6 494.3L248.6 495.7L248.3 496.9L248.7 497.9L248.9 499.0L249.6 500.7L250.3 501.5L251.5 502.5L252.5 504.0L252.8 505.0L253.6 506.0L254.5 506.7L255.5 507.8L257.1 509.3L256.0 510.7L255.0 512.5L254.3 512.0L253.1 511.4L251.1 510.5L249.8 509.6L248.6 509.3L246.6 510.0L245.4 510.6L244.3 511.4L245.0 512.5L245.7 513.2L245.9 514.4L246.4 515.7L245.2 516.7L244.3 517.9L243.6 516.0L242.4 514.6L241.4 513.6L241.0 512.6L240.0 511.4L240.3 510.2L240.2 508.8L240.8 507.4L240.8 505.8L241.1 505.0L240.5 503.2L240.2 502.0L239.3 500.1L237.8 498.6L238.2 497.3L238.1 496.4L238.4 495.1L238.1 493.4L237.8 492.1L238.3 490.1L239.3 488.6L240.2 487.2L241.1 485.7L241.4 484.8L241.5 483.4L241.4 482.3L242.1 480.4 M248.6 520.0L249.6 519.5L251.0 518.6L252.8 517.9L254.5 518.4L255.7 519.0L257.1 520.0L257.4 521.7L258.2 523.2L258.3 524.1L259.0 525.3L259.3 526.4L257.5 527.7L256.3 528.3L255.0 528.6L253.5 527.7L252.0 527.2L250.7 526.4L249.7 525.1L249.0 523.4L248.7 521.5L248.6 520.0 M259.3 515.7L261.4 516.3L262.5 517.2L263.3 517.6L264.6 517.9L265.3 519.3L265.5 520.2L266.2 521.6L266.7 522.8L266.8 524.3L265.1 524.5L263.6 525.4L262.4 524.1L261.6 522.9L260.9 522.2L260.3 521.1L260.4 519.2L260.0 518.2L259.8 517.0L259.3 515.7 M252.8 530.7L254.4 531.4L255.6 531.9L257.1 532.8L257.2 534.6L256.6 536.1L256.1 537.1L255.1 536.4L254.1 535.9L252.8 535.0L253.0 533.5L253.3 532.5L252.8 530.7 M248.6 550.0L249.5 549.0L250.2 548.4L251.2 547.7L251.9 546.4L252.8 545.7L254.1 544.8L255.8 543.6L256.3 542.8L257.1 541.4L258.3 540.6L258.9 539.8L260.0 539.1L260.9 538.0L262.3 537.5L263.6 537.1L264.6 536.4L265.7 535.6L266.7 534.8L267.1 533.7L267.8 532.8L268.8 534.2L269.3 535.2L269.9 537.0L270.4 538.2L271.1 539.3L271.0 540.5L270.9 541.9L271.3 542.9L271.3 544.6L271.3 545.9L272.1 547.8L271.9 549.4L271.3 550.4L270.9 552.2L270.4 553.1L270.0 554.3L269.2 555.5L268.1 557.0L266.8 558.2L265.7 558.6L264.5 558.1L263.1 556.5L261.4 555.3L260.0 554.7L258.7 553.9L257.9 553.0L257.1 552.1L256.3 552.5L255.0 553.1L253.7 553.5L252.8 554.3L252.2 553.3L251.6 552.1L249.7 551.0L248.6 550.0 M225.0 541.4L225.7 540.3L226.6 539.6L227.2 537.8L228.2 537.3L229.3 536.1L230.3 535.0L230.8 533.6L231.8 532.9L232.5 532.1L233.6 530.7L234.8 530.0L235.5 529.0L235.8 527.9L236.8 526.4L236.3 528.2L236.1 529.5L235.7 530.7L234.9 531.4L233.7 532.3L232.9 533.8L232.7 534.6L232.2 536.0L231.4 537.1L230.6 537.9L230.0 539.4L229.1 539.9L228.0 541.0L227.1 542.5L226.0 541.8L225.0 541.4 M276.4 584.3L277.7 582.7L278.2 580.9L278.6 580.0L279.3 581.3L279.5 582.4L279.7 583.6L280.1 584.9L280.7 586.4L280.1 588.1L280.1 589.6L279.2 591.3L278.6 592.8L279.3 594.1L279.3 595.5L279.7 596.3L279.8 597.5L279.6 599.3L278.5 600.4L277.5 601.4L277.1 599.3L277.4 597.6L276.9 596.2L276.9 594.6L276.4 592.8L276.9 590.7L277.2 589.6L277.3 587.7L276.5 585.7L276.4 584.3 M278.6 614.3L279.5 614.0L281.1 613.2L283.1 613.5L285.0 613.2L287.0 613.6L288.8 614.7L289.8 614.9L291.4 614.7L292.0 616.3L292.5 617.5L291.1 617.3L289.9 617.9L289.0 618.0L287.6 617.8L286.1 618.1L284.1 618.2L282.9 617.8L281.1 617.7L279.6 617.5L279.2 616.2L278.6 614.3 M268.9 615.3L270.2 615.1L271.2 614.9L273.1 614.6L274.3 614.7L274.4 615.5L274.6 616.9L274.7 618.1L273.5 618.3L272.2 618.6L270.9 618.7L269.6 618.1L269.0 616.8L268.9 615.3 M104.6 473.9L105.4 476.1 M104.6 550.0L105.4 552.6 M177.4 569.3L178.3 571.8 M175.3 612.1L177.8 611.7L178.3 614.7L175.7 615.1L175.3 612.1 M205.0 735.0L205.5 734.0L206.6 733.1L207.3 731.9L207.8 731.1L208.8 730.0L210.5 729.4L211.8 728.8L213.6 728.0L214.8 727.0L215.8 725.7L217.5 725.0L219.3 724.4L222.0 723.0L223.5 722.8L225.3 722.2L226.5 722.2L228.2 721.7L230.0 721.2L231.5 721.3L233.5 721.3L235.3 721.3L238.0 720.2L239.0 719.7L239.9 718.9L241.0 718.4L242.5 717.5L242.9 715.6L243.4 714.3L244.7 712.1L245.9 710.2L246.5 709.1L247.8 707.7L249.0 706.7L250.0 705.0L250.7 703.6L251.5 701.8L252.6 700.9L253.7 700.3L255.0 698.8L256.7 697.8L258.0 697.3L259.1 695.7L260.0 695.0L260.5 693.8L261.6 692.4L262.4 691.3L263.2 690.7L263.8 689.3L265.0 687.5L266.8 686.5L268.8 685.8L270.0 684.6L271.1 683.9L272.5 682.5L274.0 683.0L274.8 683.2L276.1 683.9L278.2 684.1L280.0 685.0L281.4 685.8L282.2 686.7L282.9 687.6L284.6 687.9L286.2 688.8L286.7 687.4L286.7 685.4L287.7 683.8L288.3 682.2L288.5 681.3L288.8 680.0L289.4 678.6L289.7 676.0L290.6 674.2L290.9 672.6L290.3 671.7L290.0 670.1L290.3 668.6L290.0 667.5L291.9 666.9L293.6 666.7L294.8 666.8L296.4 666.7L297.5 666.2L299.4 666.2L301.3 665.7L302.5 665.0L304.2 666.0L305.2 667.2L307.0 667.7L308.9 668.4L310.0 668.8L312.0 668.7L313.1 668.8L314.8 669.1L316.1 669.4L318.1 669.6L320.0 670.0L320.8 671.3L322.3 672.4L323.8 673.8L322.7 675.1L322.3 676.1L321.8 677.5L320.8 679.1L320.0 680.0L319.1 681.7L318.4 683.5L318.0 685.3L317.5 686.2L318.6 687.3L319.6 688.4L320.0 689.3L321.1 690.8L322.5 692.5L323.9 693.0L325.4 694.2L326.6 695.6L327.4 696.4L328.5 696.9L330.0 697.5L331.5 698.0L333.1 698.5L334.4 699.3L335.5 700.5L336.2 701.2L337.8 702.4L339.2 703.8L340.0 705.0L340.9 704.0L341.8 703.3L343.0 702.6L344.3 701.0L345.0 700.0L345.4 698.5L345.2 697.4L345.2 696.1L346.2 695.0L347.0 693.5L347.4 691.5L347.5 690.0L347.4 688.6L347.2 687.5L347.2 686.1L346.8 684.8L347.7 683.2L348.4 680.8L348.6 679.3L348.8 677.5L348.8 676.1L348.7 675.2L348.5 673.0L348.9 672.0L349.3 670.7L349.9 668.8L350.0 667.5L350.6 666.5L351.5 665.3L352.0 664.0L352.0 662.5L353.0 663.8L353.8 665.1L354.2 666.5L354.1 667.3L354.7 668.5L355.0 670.0L355.0 671.0L355.6 672.7L355.7 674.7L356.7 676.3L357.0 677.7L358.0 679.0L358.8 680.0L360.0 680.8L361.1 681.9L362.2 683.1L362.7 683.8L364.1 685.4L365.0 686.2L366.1 688.0L366.6 689.6L366.9 690.7L367.6 692.4L368.0 693.8L368.8 695.0L369.3 696.5L369.9 698.4L369.9 700.5L370.0 702.7L370.2 703.8L370.0 705.0L370.7 706.1L371.0 708.1L372.3 709.8L372.7 711.7L372.7 712.8L373.0 714.0L373.8 715.0L374.8 715.8L375.8 716.1L377.5 716.6L379.3 717.5L381.0 718.7L382.5 720.0L383.0 721.5L383.2 723.0L384.2 724.0L385.0 724.9L385.8 726.1L386.2 727.5L386.5 728.7L386.9 729.6L387.3 730.5L388.3 731.6L388.9 732.6L389.8 733.4L391.2 735.0L392.5 735.4L393.3 736.0L394.5 737.3L395.6 738.5L396.2 740.0L397.1 741.5L397.6 743.4L398.0 744.6L398.5 745.8L399.4 746.9L400.0 747.5L401.4 748.7L401.9 749.7L403.0 750.2L404.9 751.0L406.2 752.5L406.0 753.9L406.4 755.8L406.7 756.6L407.3 758.0L407.2 759.3L407.6 760.7L407.5 762.5L408.1 765.0L407.7 767.1L407.2 768.2L406.5 769.9L406.9 771.1L406.9 772.8L406.9 773.9L407.5 775.0L407.3 776.4L406.9 777.3L406.2 778.6L406.5 780.0L406.7 781.2L406.5 783.0L406.2 785.0L405.8 786.0L405.3 787.6L404.5 789.4L403.7 791.1L403.5 792.5L403.6 793.8L403.8 795.0L403.6 795.9L402.9 797.1L402.8 799.0L402.3 800.1L400.9 801.8L400.7 803.3L400.0 805.0L400.0 807.2L399.4 808.7L398.5 810.0L397.6 810.6L396.8 812.6L396.2 813.8L395.3 814.4L394.3 816.1L393.8 817.2L393.6 818.5L393.1 820.2L393.2 821.1L392.5 822.5L392.0 823.7L392.0 824.9L391.9 826.3L391.0 827.1L390.5 828.4L390.0 830.0L388.4 830.5L387.0 830.5L385.3 830.8L383.6 831.9L382.5 832.5L381.0 833.7L379.8 834.1L378.8 834.3L377.1 834.3L375.0 835.0L373.3 835.7L372.3 837.0L371.2 837.5L369.8 836.9L368.9 836.4L368.1 835.6L366.8 835.0L366.1 834.2L365.0 833.8L363.6 834.5L361.6 834.7L359.8 834.9L358.7 835.8L357.5 836.2L355.7 835.5L353.6 835.3L351.9 834.9L350.0 835.0L348.7 834.6L347.8 834.1L346.9 833.0L345.2 832.3L344.1 831.5L343.4 831.0L342.5 830.0L341.8 828.6L341.1 827.4L340.8 826.6L340.2 825.8L339.5 824.1L338.8 822.5L338.2 821.3L337.8 819.8L337.8 818.9L337.0 817.4L336.0 816.5L335.0 815.0L333.8 814.6L332.4 813.8L331.1 813.3L330.0 812.5L329.9 810.5L329.0 808.7L328.7 807.2L328.5 805.1L328.1 803.9L328.8 801.7L328.8 800.0L328.0 801.5L327.1 802.7L326.1 803.8L325.8 804.9L325.0 805.9L325.0 807.5L324.0 808.4L323.2 809.8L321.8 811.4L320.0 812.5L318.8 812.2L317.8 811.8L316.1 810.5L315.0 810.0L314.6 808.8L313.9 807.2L313.4 806.3L312.7 804.6L312.2 803.2L311.9 802.1L311.2 801.1L310.0 800.0L308.3 799.6L307.4 798.9L306.0 798.1L305.3 797.5L304.4 796.2L303.8 795.6L302.5 795.0L301.3 794.6L299.4 793.3L298.1 792.9L296.4 792.3L294.9 792.7L294.0 792.6L292.5 792.5L291.2 792.6L289.1 792.8L287.6 793.1L285.9 794.1L284.3 794.0L282.1 794.3L281.4 793.8L280.0 793.8L278.8 794.5L277.6 794.8L275.6 795.7L274.3 796.8L272.2 797.0L271.1 797.3L269.2 797.3L267.5 797.5L266.6 798.6L265.2 799.6L263.9 800.4L261.6 801.3L261.0 802.0L259.8 802.8L258.5 803.2L257.5 803.8L256.6 804.8L255.3 805.5L253.4 806.3L252.3 806.8L251.2 807.3L249.5 807.0L247.5 807.5L245.6 807.7L244.2 807.7L243.0 807.9L241.1 807.6L239.5 807.7L238.6 808.5L237.5 808.8L236.0 809.4L234.9 810.2L233.1 810.4L232.1 811.5L231.3 811.9L230.0 812.5L228.3 812.7L227.2 812.8L226.0 812.6L224.4 813.0L222.5 813.8L220.7 812.7L219.6 812.4L218.5 812.3L216.6 811.8L215.0 811.2L214.2 810.0L214.0 808.0L213.0 806.3L212.5 805.0L213.1 803.5L213.6 802.6L214.1 801.4L214.7 800.3L215.4 799.1L216.2 797.5L216.2 796.3L216.3 794.5L216.5 792.9L216.3 791.1L215.8 790.3L215.4 789.1L215.0 787.5L214.7 786.2L214.3 785.0L213.5 783.5L212.8 782.6L212.8 781.4L212.8 780.3L213.0 779.1L212.5 777.5L212.5 775.7L212.7 774.3L212.6 773.5L211.8 772.2L211.1 771.4L210.9 769.6L210.0 767.5L209.4 766.1L209.3 765.0L208.6 763.2L208.0 762.3L207.0 761.5L206.2 760.0L205.3 758.7L204.5 757.0L203.8 755.0L204.0 753.5L204.0 752.5L204.4 751.0L204.5 749.4L204.7 748.2L205.0 746.2L205.0 745.0L204.3 743.4L204.2 742.3L204.2 740.7L204.1 739.4L204.7 737.7L205.0 736.5L205.0 735.0 M322.5 818.8L323.7 818.0L324.8 817.8L326.0 817.7L327.5 817.5L328.3 818.5L328.8 820.0L326.7 819.8L325.1 820.4L323.8 820.5L322.5 818.8 M255.0 660.0L256.0 659.3L256.7 657.9L257.4 656.8L258.7 655.7L260.6 654.8L261.1 653.8L262.5 652.5L263.5 651.9L265.3 650.6L266.9 649.2L268.0 648.5L269.9 647.8L271.5 647.8L272.5 647.5L274.0 648.6L275.0 650.0L273.6 651.5L272.5 652.2L271.0 652.8L269.2 653.8L267.5 655.0L265.8 655.2L264.8 655.5L263.5 656.5L262.3 657.9L261.0 659.1L260.0 660.0L258.2 659.5L256.8 660.0L255.0 660.0 M308.8 631.2L310.4 630.5L312.0 630.0L311.8 631.3L312.3 633.0L312.6 634.4L312.5 636.2L311.2 636.5L309.5 637.5L308.9 636.5L308.7 635.3L308.8 634.4L308.8 632.8L308.8 631.2 M295.0 640.0L297.5 643.8 M292.9 602.1L294.2 601.2L295.3 600.4L295.8 599.5L297.2 599.0L298.3 598.5L299.3 597.8L300.3 598.4L301.6 598.5L302.8 598.5L304.0 598.8L305.7 598.9L306.9 600.4L307.6 600.9L308.7 601.8L309.7 603.2L310.0 604.3L311.2 606.0L311.1 607.4L311.8 609.3L311.7 611.5L312.1 612.8L313.3 613.2L314.2 613.8L315.2 614.2L316.4 615.0L317.9 613.4L319.4 612.1L320.4 611.0L321.5 610.6L322.3 609.7L322.9 608.6L323.9 608.0L325.6 606.9L327.0 606.2L328.3 605.7L329.3 605.3L331.3 606.1L332.8 606.6L334.3 607.5L335.2 607.8L336.8 608.1L337.9 608.6L339.6 609.1L340.5 609.8L342.2 610.5L343.5 611.0L345.4 611.8L346.3 612.8L347.0 613.5L348.3 614.3L350.1 614.5L351.8 615.1L352.9 616.1L354.2 616.5L354.9 617.1L356.3 618.7L357.5 619.1L358.8 619.5L359.8 620.0L361.4 620.3L363.0 621.3L364.6 622.7L365.7 623.8L366.5 624.1L367.9 624.6L369.0 625.4L369.5 626.2L370.7 628.0L371.3 629.2L372.1 630.0L373.5 630.8L374.7 631.5L375.3 632.2L376.4 633.2L377.0 634.4L376.9 635.8L377.8 637.3L378.6 638.6L379.1 639.7L379.8 641.5L380.4 643.0L381.1 644.3L381.8 645.0L382.7 646.9L383.9 647.8L384.4 649.2L384.7 650.1L385.0 651.4L386.2 652.5L387.7 653.8L388.3 654.7L389.3 655.7L390.6 656.5L391.7 657.1L393.0 657.7L393.9 658.5L395.1 659.8L395.7 661.1L393.5 661.4L391.4 661.1L390.4 660.7L389.0 660.8L387.9 660.1L386.2 659.1L385.0 658.9L383.5 658.3L382.5 657.3L381.3 656.1L380.7 654.6L380.3 653.8L379.5 652.4L378.4 650.8L377.1 650.1L376.4 649.3L375.5 647.9L374.5 647.1L372.9 645.9L372.1 645.0L371.2 644.6L369.6 644.4L368.7 644.0L367.5 643.1L365.7 642.8L363.7 642.6L362.5 642.7L361.2 642.9L359.3 643.9L358.0 645.0L357.0 645.4L356.2 646.1L355.0 647.1L354.7 648.3L354.3 649.2L353.8 650.1L352.9 651.4L351.2 651.8L350.2 652.0L348.8 652.0L347.1 652.4L345.4 652.5L343.8 651.3L342.3 649.9L341.3 648.6L339.9 647.8L337.9 647.1L337.0 646.4L336.0 644.6L335.8 643.0L335.3 641.4L334.6 640.7L334.0 639.0L333.8 638.1L332.8 636.7L332.2 635.8L331.4 634.3L330.9 633.4L329.9 632.2L328.7 631.0L327.1 630.0L325.5 629.5L324.4 628.7L323.2 627.5L322.4 626.5L320.7 625.7L319.8 624.7L318.7 623.9L317.2 623.3L316.1 622.5L314.3 621.4L312.9 619.8L312.1 619.6L310.9 618.9L309.4 618.8L307.9 618.2L306.6 617.0L306.0 616.4L304.8 615.6L304.4 614.4L303.6 612.8L302.1 611.6L300.7 610.9L299.9 610.0L299.3 608.6L297.7 607.4L296.8 606.1L295.0 605.3L294.4 604.0L293.7 603.4L292.9 602.1 M345.4 611.8L345.4 652.5 M328.2 646.1L329.3 645.3L330.1 644.4L331.6 643.4L332.5 642.8L333.5 643.8L334.4 644.5L335.3 646.1L334.5 646.5L333.4 647.6L331.4 648.2L330.0 647.5L329.2 646.7L328.2 646.1 M391.4 610.3L392.7 610.6L393.8 611.0L395.0 611.6L396.8 611.8L398.4 612.3L399.8 612.8L401.0 613.7L402.1 615.0L402.5 615.7L403.5 616.8L404.7 618.4L405.3 619.3L405.2 620.6L404.7 621.4L403.9 622.3L403.2 623.6L401.7 624.0L400.4 624.9L399.5 625.9L397.8 626.8L396.4 627.2L394.6 627.4L392.5 628.1L391.4 628.9L389.7 629.6L387.9 629.6L385.8 630.0L383.9 630.0L385.0 631.2L386.1 632.3L387.1 633.2L388.5 633.1L389.4 633.2L390.3 633.0L391.7 633.1L393.4 632.7L394.3 632.6L395.7 632.6L396.8 631.2L398.6 630.1L399.8 629.4L401.1 628.9L401.8 627.8L402.7 626.6L403.6 625.2L404.3 624.6L405.3 623.6 M414.6 627.4L415.5 628.4L416.2 629.8L416.6 631.4L417.1 632.1L418.0 633.5L418.4 634.5L419.3 636.0L420.3 637.5L418.9 637.9L418.2 638.6L417.8 636.8L416.8 635.6L416.4 634.6L415.4 633.2L414.8 631.2L414.7 629.1L414.6 627.4 M423.6 637.5L427.8 640.3 M433.2 643.9L439.6 647.1 M425.7 643.9L430.0 649.3 M442.8 649.3L447.1 655.7 M449.3 658.9L452.5 662.1 M440.7 665.3L443.9 669.0 M475.0 687.8L475.8 689.0L476.3 691.0L476.9 692.2L478.2 693.2L478.5 694.5L478.9 696.4L479.6 697.2L480.3 698.6 M482.5 705.0L483.6 707.1 M486.8 711.4L488.9 715.7 M462.1 721.7L463.8 722.9L465.1 723.4L466.4 724.3L468.1 725.1L469.3 725.8L470.4 726.9L471.5 727.7L471.9 728.5L472.8 729.6L474.1 730.4L474.9 731.3L475.7 732.3L477.1 733.9L475.1 733.7L473.9 733.9L472.7 733.5L471.8 732.8L470.4 731.6L469.5 730.8L468.6 730.3L467.9 729.4L466.8 727.8L465.5 726.5L464.3 726.0L463.5 725.3L462.9 724.1L462.5 723.3L462.1 721.7 M529.6 705.0L530.7 704.9L532.2 704.2L533.9 703.9L534.6 704.7L535.4 705.6L536.1 707.1L535.1 708.1L534.4 708.6L532.8 709.7L530.8 709.0L529.6 708.2L529.4 706.2L529.6 705.0 M537.1 698.6L538.6 697.5L540.4 697.0L542.5 696.8L543.4 698.5L544.0 699.6L542.9 700.1L541.7 700.0L540.5 700.6L539.3 700.7L538.6 699.6L537.1 698.6 M566.7 726.8L569.3 726.4L569.7 729.0L567.1 729.4L566.7 726.8 M310.0 630.0L311.0 629.2L312.1 628.9L312.0 630.1L312.2 631.6L312.3 632.8L312.3 633.9L312.3 634.9L312.6 636.4L311.7 637.3L310.0 638.1L309.4 636.7L309.2 635.6L309.6 634.7L309.6 633.2L309.5 631.4L310.0 630.0 M295.0 642.8L295.9 641.9L296.8 641.2L298.2 639.6L298.1 641.0L297.4 642.9L297.1 645.0L296.1 645.4L294.6 646.1L294.8 644.3L295.0 642.8 M301.4 630.0L304.6 627.8 M373.2 608.6L375.2 607.9L376.4 607.5L376.9 608.4L377.5 609.6 M507.1 580.7L508.2 586.1 M514.6 598.3L515.7 600.0 M367.9 499.3L368.9 501.4 M363.6 510.0L364.6 512.1 M311.7 547.5L312.6 549.6 M432.1 550.7L434.3 552.9 M484.6 547.5L486.1 549.6 M281.1 580.7L281.8 582.2L282.0 583.4L282.1 585.0L281.8 586.6L281.7 587.7L281.1 589.3 M506.8 810.0L507.8 811.8L508.8 812.8L510.5 814.2L511.1 815.0L512.1 816.1L512.7 817.1L513.3 818.0L514.4 818.7L515.7 819.7L516.1 820.8L516.7 821.7L517.5 823.2L518.7 824.1L519.2 824.8L520.2 826.3L521.4 827.3L522.9 828.6L524.6 829.2L526.1 829.0L527.7 829.4L528.7 829.8L530.0 830.4L531.5 830.2L532.8 830.7L534.4 831.6L536.1 832.1L536.2 833.9L535.7 835.7L534.9 836.9L534.7 837.9L533.6 839.3L532.0 840.6L530.5 842.2L528.9 843.6L528.2 844.6L527.2 845.9L526.7 847.6L526.1 849.3L524.9 850.7L524.6 851.8L523.8 852.3L522.6 852.5L521.1 853.7L519.3 854.3L518.4 852.7L518.0 851.8L516.4 850.5L515.7 849.3L515.5 847.6L515.8 846.4L516.1 845.4L516.7 844.1L517.5 842.9L516.0 841.5L514.9 839.9L514.2 839.0L513.1 838.4L512.1 837.5L512.1 835.4L512.4 834.0L512.8 833.1L513.3 831.7L513.9 830.4L513.2 828.3L512.2 827.3L511.2 826.5L510.5 825.6L510.0 824.6L510.0 823.2L509.3 821.4L509.3 819.9L509.0 818.1L508.3 816.9L508.0 815.5L507.6 813.9L507.2 812.4L507.3 811.4L506.8 810.0 M665.0 469.6L666.4 469.2L667.3 469.0L668.0 468.4L669.3 467.9L669.6 469.2L669.9 470.2L670.6 471.8L672.1 473.2L671.4 473.7L670.1 474.3L668.7 475.9L667.5 476.8L666.7 475.3L666.1 474.4L665.9 473.0L665.5 471.7L665.0 469.6 M642.5 457.1L646.1 457.9 M653.2 461.4L656.8 462.9 M658.6 465.0L662.1 466.4 M696.1 703.6L698.6 706.4 M747.9 651.8L751.4 655.4 M580.0 680.4L585.4 682.9 M567.5 726.8L569.3 728.6 M983.8 292.1L986.3 292.4 M986.3 293.2L987.9 294.2L988.8 295.3L990.2 295.7L990.9 296.2L992.8 297.0L994.1 297.1L994.8 298.0L996.2 299.1L997.5 300.2L998.9 301.1L1000.0 301.6L1000.9 301.9L1002.1 302.1L1003.1 302.3L1004.6 302.6L1005.5 302.8L1006.7 303.4L1008.2 303.2L1009.4 303.4L1010.7 303.8L1012.0 303.7L1014.0 304.4L1016.1 304.2L1017.5 304.4L1018.8 304.7L1020.6 305.3L1022.4 305.8L1024.3 305.5L1026.1 305.9L1027.2 306.3L1028.7 306.6L1029.9 305.9L1030.7 305.5L1031.9 305.0L1030.7 303.4L1029.8 302.3L1028.0 301.3L1027.1 300.3L1026.1 299.7L1024.7 298.3L1024.0 297.2L1023.1 296.2L1022.4 295.6L1021.5 294.4L1020.4 293.2L1019.3 292.3L1018.5 291.6L1017.4 291.4L1015.6 290.6L1014.1 289.7L1013.0 289.3 M1018.5 311.3L1018.1 312.2L1017.3 313.3L1016.3 315.0L1015.4 316.0L1014.5 317.6L1013.9 318.7L1013.8 320.8L1013.3 322.2L1012.2 323.9L1012.4 325.5L1012.7 326.8L1012.7 328.5L1012.6 329.8L1012.2 331.7L1012.6 332.5L1013.0 333.8L1013.7 334.6L1014.6 335.6L1016.0 334.2L1016.6 333.2L1017.7 331.7L1018.3 330.5L1018.5 329.1L1018.3 327.9L1018.5 326.8L1019.0 325.7L1019.3 323.9L1019.9 322.8L1020.1 321.7L1020.6 320.2L1021.1 318.4L1021.5 317.0L1021.6 316.0L1022.4 315.3L1023.2 314.0L1024.0 312.1L1022.6 311.7L1020.9 310.5L1019.6 310.8L1018.5 311.3 M1031.9 306.6L1032.9 306.4L1034.2 306.3L1035.7 307.0L1036.9 307.0L1038.1 307.4L1039.6 307.9L1041.5 308.9L1043.1 309.3L1044.4 309.7L1045.5 310.7L1046.3 311.2L1047.6 311.7L1049.1 312.1L1050.0 312.9L1051.3 313.7L1053.1 314.4L1051.8 315.4L1050.7 316.8L1049.0 316.8L1047.8 316.6L1046.0 316.0L1045.2 316.9L1044.1 317.5L1042.9 319.1L1041.6 320.9L1040.7 322.4L1040.5 323.9L1040.1 324.7L1039.0 326.0L1038.6 327.3L1038.1 328.6L1037.0 327.5L1036.1 326.9L1035.0 325.4L1035.1 323.4L1034.8 321.9L1034.2 320.7L1033.9 319.8L1033.5 318.3L1033.1 316.8L1032.6 316.0L1033.1 314.1L1033.4 312.1L1033.5 310.5L1033.2 309.4L1032.9 308.3L1031.9 306.6 M1035.0 332.5L1035.8 331.7L1036.7 331.1L1037.6 330.3L1038.6 329.6L1039.7 329.4L1040.8 329.1L1042.7 328.9L1044.3 328.6L1046.0 327.8L1047.1 327.8L1048.7 327.4L1049.9 326.5L1051.3 325.7L1052.3 325.4L1054.2 324.6L1055.4 324.3L1057.0 323.1L1056.2 324.1L1055.5 324.9L1055.0 325.8L1053.9 327.0L1052.7 327.8L1050.9 328.4L1049.7 329.4L1049.1 330.1L1047.7 330.5L1047.0 331.0L1045.2 331.7L1043.8 332.4L1042.9 333.3L1041.2 333.9L1039.7 334.3L1038.1 335.6L1036.4 335.2L1035.0 334.9L1034.9 334.0L1035.0 332.5 M1053.9 323.9L1055.8 323.2L1057.3 322.0L1058.6 321.5L1060.1 321.0L1061.7 321.0L1063.4 320.1L1064.9 319.9L1065.9 319.7L1067.6 319.4L1069.1 319.1L1070.4 319.1L1070.9 320.5L1071.1 321.5L1069.6 322.4L1068.6 322.8L1067.5 323.1L1066.4 323.9L1064.8 324.0L1063.6 324.1L1062.7 324.3L1061.3 324.6L1060.1 325.4L1058.5 325.7L1056.8 325.7L1055.4 325.4L1054.6 324.4L1053.9 323.9 M1070.4 319.1L1071.3 318.2L1072.2 317.4L1073.9 316.7L1075.9 316.0L1077.4 315.7L1078.5 315.4L1079.9 314.8L1081.2 314.6L1082.1 314.4L1084.2 313.8L1085.3 313.5L1086.8 313.5L1088.1 314.1L1090.0 314.1L1091.2 314.0L1092.7 314.0L1094.1 313.6L1095.4 313.6L1096.3 313.6L1097.4 311.9L1098.2 311.1L1099.4 310.5L1100.8 308.8L1101.4 307.1L1101.9 306.1L1102.6 305.0L1103.5 304.3L1104.2 303.0L1105.0 301.4L1105.7 300.3L1107.4 300.1L1108.9 299.9L1110.8 300.1L1112.0 300.0L1112.8 301.7L1113.2 302.8L1114.4 304.1L1114.9 306.0L1115.1 308.1L1115.9 309.7L1116.3 310.7L1116.8 312.1L1117.1 313.1L1117.5 314.4 M1096.3 303.4L1097.7 302.1L1098.3 300.8L1098.9 300.1L1100.0 299.5L1101.0 298.7L1102.2 298.1L1103.3 296.8L1104.3 295.7L1105.7 294.0L1106.7 293.5L1108.1 293.2L1109.4 292.1L1110.1 290.8L1111.1 290.3L1112.0 289.3L1112.7 288.7L1114.0 287.7L1115.0 286.1L1116.8 284.8L1118.3 283.8L1119.4 282.5L1120.2 282.1L1121.4 281.4L1122.8 281.6L1124.3 281.3L1125.5 281.3L1127.5 281.5L1129.2 281.3L1130.8 280.6L1132.8 280.9L1134.3 281.4L1135.4 282.0L1137.3 282.2L1139.3 282.0L1140.3 281.4L1142.0 281.3L1143.1 281.4L1144.4 281.5L1146.3 280.5L1148.2 280.3L1149.7 279.9L1150.9 279.7L1152.8 278.7L1154.4 278.6L1156.0 278.3L1157.3 277.8L1158.6 277.2L1159.5 276.9L1161.4 276.4L1162.5 275.6L1163.8 275.1L1165.8 275.2L1167.0 274.9L1168.8 274.6L1170.6 274.3L1171.7 273.6L1173.3 273.5L1174.8 273.6 M1096.3 303.4L1097.8 302.3L1098.9 301.2L1099.4 300.3L1100.2 299.5L1101.3 298.8L1102.7 297.7L1104.1 297.1L1105.8 296.3L1107.5 295.7L1109.2 294.5L1110.4 293.2L1112.2 292.0L1113.3 291.6L1115.1 290.6L1116.7 290.1L1118.3 289.9L1119.3 289.4L1120.3 289.0L1121.5 288.9L1123.0 288.5L1124.0 288.6L1125.4 288.9L1126.7 289.0L1127.6 289.1L1129.3 289.3L1130.2 290.4L1131.6 291.6L1130.9 293.1L1130.2 293.9L1129.3 294.8L1129.0 296.0L1128.6 297.2L1127.7 298.7L1128.3 300.4L1129.1 301.2L1130.1 302.6L1131.6 303.3L1132.1 304.1L1133.2 305.0L1134.6 305.2L1135.5 305.8L1137.1 306.6L1138.5 306.4L1139.7 306.2L1141.1 305.7L1141.8 305.3L1143.5 304.9L1144.9 304.6L1146.6 304.2 M1130.8 283.8L1132.4 284.2L1134.3 284.6L1136.1 284.9L1137.1 285.4L1138.4 285.9L1139.2 286.6L1141.1 287.0L1142.0 287.3L1143.4 287.7L1142.0 288.1L1140.6 288.1L1138.7 287.7L1137.8 287.6L1136.4 287.0L1134.6 286.7L1133.2 285.8L1131.9 285.0L1130.8 283.8 M1122.2 319.1L1123.3 317.6L1124.6 316.0L1125.8 315.5L1127.0 315.2L1128.4 314.5L1129.3 313.6L1130.2 313.4L1131.9 313.1L1134.0 312.4L1135.6 311.3L1137.3 310.6L1138.5 310.4L1140.1 310.2L1141.8 309.7L1143.4 309.5L1144.3 309.1L1145.9 309.0L1146.7 308.7L1148.1 308.1L1149.0 307.7L1150.6 307.4L1151.8 306.8L1152.8 306.6L1153.1 307.9L1153.6 308.9L1151.6 309.5L1149.7 310.5L1148.5 311.0L1147.5 311.1L1146.3 311.8L1145.3 312.2L1143.4 312.9L1142.3 313.6L1141.1 314.0L1139.4 315.3L1138.2 315.5L1137.1 316.0L1135.4 316.4L1134.4 317.2L1133.1 318.3L1132.2 318.5L1130.8 319.1L1129.9 320.1L1128.4 321.4L1127.2 322.1L1126.1 322.3L1124.2 322.1L1123.0 322.3L1122.6 321.0L1122.2 319.1 M1146.6 304.2L1148.5 303.4L1149.7 302.6L1150.7 303.6L1152.1 305.0L1150.4 305.6L1148.9 306.6L1147.6 305.0L1146.6 304.2 M1142.6 299.5L1144.5 299.1L1145.8 298.7L1145.0 299.3L1144.2 300.3L1142.6 299.5 M1117.5 314.4L1116.1 315.3L1115.1 316.0L1114.0 316.6L1112.8 317.3L1112.0 317.6L1110.3 318.0L1108.9 318.7L1107.3 319.9L1106.4 320.8L1105.3 322.1L1103.7 323.0L1102.6 323.9L1101.4 325.3L1100.3 325.9L1099.4 327.8L1098.8 329.3L1098.5 330.4L1097.9 331.7L1098.5 333.0L1099.1 333.8L1100.2 334.9L1101.8 334.1L1101.2 335.5L1101.0 336.4L1099.7 336.7L1098.3 336.8L1097.5 337.2L1096.3 338.0L1094.5 338.9L1092.4 339.1L1090.9 339.3L1090.0 339.6L1088.7 339.6L1087.2 339.8L1085.5 340.6L1083.7 341.1L1082.6 342.2L1082.1 343.1L1080.6 344.3L1080.3 345.2L1080.2 346.8L1079.7 347.8L1079.0 349.0L1077.1 349.6L1075.9 350.6L1075.3 349.9L1074.6 348.6L1074.3 347.4L1072.5 348.6L1071.8 349.4L1071.1 350.6L1071.1 351.8L1071.5 353.2L1072.1 354.1L1072.7 355.3L1073.4 356.3L1074.0 357.9L1074.3 360.0L1073.9 361.7L1073.7 363.0L1072.7 364.7L1073.0 366.2L1073.3 367.4L1073.8 368.5L1074.3 369.4L1073.9 371.4L1073.2 372.8L1072.7 374.1L1071.7 375.1L1071.2 376.1L1069.6 377.3L1068.6 376.3L1068.0 375.7L1067.1 377.3L1066.4 378.0L1065.7 378.8L1064.9 380.4L1064.0 380.8L1063.0 381.8L1061.7 383.6L1060.4 384.2L1058.8 385.4L1057.9 386.1L1057.0 386.7L1055.7 387.7L1054.8 388.4L1053.5 389.1L1052.3 389.8L1051.5 390.6L1050.8 391.7L1049.3 392.9L1048.2 393.9L1047.6 394.6L1046.0 395.8L1045.5 396.9L1044.4 398.5L1044.1 399.6L1043.6 401.2L1043.4 402.3L1043.6 404.0L1044.6 405.6L1044.8 406.9L1045.2 408.7L1045.5 409.6L1045.6 410.9L1045.6 412.3L1046.3 413.3L1046.8 415.0L1047.2 416.7L1047.7 417.8L1048.2 419.5L1048.4 421.3L1048.8 422.7L1049.0 424.3L1049.7 425.5L1049.9 427.6L1049.9 428.6L1050.1 430.2L1049.9 431.8L1049.9 433.8L1049.5 435.6L1049.1 436.8L1048.4 437.8L1046.8 437.3L1045.2 437.0L1044.6 435.6L1044.2 434.4L1043.3 433.4L1042.9 432.3L1042.2 430.5L1041.3 428.6L1040.5 427.6L1040.1 425.6L1039.5 424.5L1039.1 423.3L1038.1 421.3L1037.7 420.1L1037.6 419.1L1037.4 417.7L1037.4 416.1L1037.4 415.0L1036.5 413.2L1035.9 412.0L1035.0 410.3L1033.9 409.3L1033.4 408.5L1031.9 407.1L1030.4 406.9L1029.3 406.4L1028.5 405.9L1027.1 405.6L1025.2 405.6L1024.2 405.2L1022.3 404.7L1020.9 404.8L1019.6 405.1L1017.5 404.9L1016.0 405.1L1014.6 405.6L1012.8 404.9L1011.3 404.6L1009.9 404.8L1008.1 405.2L1006.8 405.8L1005.1 407.1L1004.3 409.2L1004.0 410.7L1003.6 411.8L1002.4 410.7L1002.0 410.0L1000.4 408.7L998.9 408.8L998.0 409.2L996.5 410.0L995.7 410.3L994.5 410.3L992.4 410.0L991.0 409.8L989.4 409.5L987.8 409.4L986.1 408.8L985.0 409.0L983.1 408.7 M1156.0 297.1L1157.1 295.2L1157.8 294.2L1158.5 293.2L1159.4 292.5L1160.7 290.9L1161.7 290.0L1162.3 288.8L1163.0 287.6L1163.6 286.4L1163.9 285.1L1164.5 284.1L1165.4 283.0L1166.4 281.5L1166.8 280.8L1167.4 279.6L1168.3 278.3L1168.8 277.1L1169.4 276.3L1170.1 275.1L1171.8 274.4L1173.0 273.8L1174.8 273.6L1175.8 275.1L1176.4 275.9L1174.9 277.2L1174.2 278.4L1173.3 279.9L1172.3 281.0L1171.9 281.9L1170.9 283.8L1172.4 284.2L1173.9 284.8L1174.8 285.4L1176.2 285.5L1177.3 285.6L1178.7 285.5L1179.9 285.8L1181.1 286.1L1182.7 287.6L1184.0 288.1L1184.8 288.7L1185.8 289.3L1186.8 290.3L1187.1 291.3L1188.1 292.1L1189.0 294.0L1189.2 295.3L1189.7 297.0L1190.6 298.7L1190.2 300.0L1189.8 301.0L1189.3 302.6L1189.0 303.4L1188.1 302.6L1187.3 301.7L1186.0 301.1L1185.1 300.3L1184.2 298.7L1182.7 297.1L1181.1 297.8L1179.6 298.7L1177.8 300.0L1176.4 301.1L1175.3 300.8L1173.5 300.7L1171.7 300.3L1170.7 300.2L1169.2 299.6L1167.9 299.0L1166.9 298.7L1165.4 298.7L1163.9 298.5L1162.7 298.7L1160.7 297.9L1158.9 297.9L1156.9 297.7L1156.0 297.1 M1174.1 267.3L1174.8 269.1L1175.6 270.4L1175.0 272.3L1174.8 273.6 M1042.1 264.1L1043.1 264.8L1044.0 265.3L1045.2 266.1L1046.0 267.3L1046.4 268.6L1046.7 269.6L1047.2 271.0L1048.4 272.5L1049.1 273.6L1049.7 275.5L1050.7 276.7L1052.4 277.4L1053.9 278.3L1054.9 277.7L1055.9 276.8L1057.0 275.1L1057.6 273.6L1057.7 272.3L1058.6 270.4L1058.2 269.3L1058.2 268.2L1058.0 267.1L1057.8 265.7 M1027.1 457.4L1028.5 456.2L1030.1 455.4L1031.1 454.4L1031.9 452.7L1033.5 452.0L1034.7 451.3L1036.1 451.2L1037.5 451.1L1039.0 450.8L1039.7 450.3L1040.8 450.1L1042.5 449.8L1043.6 450.1L1044.7 450.1L1046.1 450.7L1047.6 451.1L1049.3 452.1L1050.4 452.3L1052.5 452.6L1054.1 453.9L1055.4 454.3L1056.4 455.4L1057.5 456.3L1058.7 456.9L1060.8 457.4L1061.9 457.8L1063.3 459.0L1064.2 459.7L1065.3 460.8L1066.9 461.8L1068.2 462.1L1069.3 462.5L1070.1 463.3L1071.1 463.7L1072.7 464.3L1074.3 465.1L1075.8 465.7L1076.6 466.4L1078.2 467.7L1079.0 468.4L1080.5 469.5L1082.1 470.0 M1027.1 457.4L1028.5 457.9L1029.8 458.3L1031.5 458.3L1033.4 459.0L1034.7 458.9L1035.6 459.0L1037.0 458.8L1038.7 458.0L1039.7 457.4L1040.8 458.0L1042.6 458.8L1044.3 458.8L1045.6 458.9L1047.6 459.0L1048.7 459.9L1049.5 460.5L1050.5 461.2L1052.1 461.3L1053.9 462.1L1055.5 463.2L1057.1 463.9L1058.5 464.3L1060.1 465.3L1061.3 466.5L1062.5 468.1L1063.8 469.2L1064.9 470.0 M1056.2 428.3L1057.6 428.2L1058.5 427.6L1059.6 427.3L1061.7 427.6L1062.7 428.4L1063.8 428.7L1065.6 429.9L1066.3 431.9L1066.4 433.1 M1060.9 438.6L1062.5 444.8 M1068.0 435.4L1069.2 436.2L1070.1 437.4L1070.6 438.3L1071.4 439.5L1072.0 440.4L1072.7 441.7L1073.7 443.3L1074.0 444.6L1074.9 445.3L1075.9 446.4 M1077.4 449.6L1082.1 455.8 M1074.3 443.3L1075.1 448.0 M1090.0 459.0L1093.9 459.3 M1040.5 441.7L1042.3 441.7L1043.2 441.4L1044.4 440.9L1046.3 440.5L1048.4 440.4" fill="none" stroke="#7e7e7e" stroke-width="1.05" stroke-linejoin="round" stroke-linecap="round"/></g>
<g id="flows">
<g opacity="0.2">
<path d="M701.8 191.6L709.7 193.7L717.5 196.1L707.2 238.3L699.8 236.6L690.5 234.2Z" fill="#cabef2"/>
<path d="M709.7 193.7L717.5 196.1L727.2 199.4L712.7 239.9L707.2 238.3L699.8 236.6Z" fill="#c9bcf1"/>
<path d="M717.5 196.1L727.2 199.4L736.5 203.5L716.2 241.5L712.7 239.9L707.2 238.3Z" fill="#c8bbf1"/>
<path d="M727.2 199.4L736.5 203.5L745.6 208.1L722.8 245.3L716.2 241.5L712.7 239.9Z" fill="#c7b9f1"/>
<path d="M736.5 203.5L745.6 208.1L752.8 212.0L727.6 248.4L722.8 245.3L716.2 241.5Z" fill="#c5b8f1"/>
<path d="M745.6 208.1L752.8 212.0L760.0 215.9L735.5 253.6L727.6 248.4L722.8 245.3Z" fill="#c4b6f0"/>
<path d="M752.8 212.0L760.0 215.9L767.1 219.9L740.2 256.9L735.5 253.6L727.6 248.4Z" fill="#c3b5f0"/>
<path d="M760.0 215.9L767.1 219.9L774.3 223.8L746.4 261.3L740.2 256.9L735.5 253.6Z" fill="#c2b3f0"/>
<path d="M767.1 219.9L774.3 223.8L781.4 227.7L752.5 265.9L746.4 261.3L740.2 256.9Z" fill="#c1b2ef"/>
<path d="M774.3 223.8L781.4 227.7L790.3 232.8L758.5 270.7L752.5 265.9L746.4 261.3Z" fill="#c0b0ef"/>
<path d="M781.4 227.7L790.3 232.8L795.6 235.8L762.9 274.3L758.5 270.7L752.5 265.9Z" fill="#bfaeef"/>
<path d="M790.3 232.8L795.6 235.8L802.5 240.1L770.2 280.4L762.9 274.3L758.5 270.7Z" fill="#beadee"/>
<path d="M795.6 235.8L802.5 240.1L809.4 244.5L776.1 285.3L770.2 280.4L762.9 274.3Z" fill="#bcacee"/>
<path d="M802.5 240.1L809.4 244.5L816.2 249.0L781.9 290.2L776.1 285.3L770.2 280.4Z" fill="#bbaaee"/>
<path d="M809.4 244.5L816.2 249.0L823.0 253.6L787.8 295.1L781.9 290.2L776.1 285.3Z" fill="#baa8ee"/>
<path d="M816.2 249.0L823.0 253.6L829.6 258.3L793.6 299.9L787.8 295.1L781.9 290.2Z" fill="#b9a7ed"/>
<path d="M823.0 253.6L829.6 258.3L836.2 263.1L799.4 304.9L793.6 299.9L787.8 295.1Z" fill="#b8a5ed"/>
<path d="M829.6 258.3L836.2 263.1L842.7 268.0L805.1 310.0L799.4 304.9L793.6 299.9Z" fill="#b7a4ed"/>
<path d="M836.2 263.1L842.7 268.0L849.2 273.0L810.7 315.2L805.1 310.0L799.4 304.9Z" fill="#b5a2ed"/>
<path d="M842.7 268.0L849.2 273.0L855.6 278.0L816.3 320.4L810.7 315.2L805.1 310.0Z" fill="#b4a1ec"/>
<path d="M849.2 273.0L855.6 278.0L863.6 284.4L821.7 325.7L816.3 320.4L810.7 315.2Z" fill="#b39fec"/>
<path d="M855.6 278.0L863.6 284.4L870.0 289.5L827.0 331.2L821.7 325.7L816.3 320.4Z" fill="#b29dec"/>
<path d="M863.6 284.4L870.0 289.5L876.2 294.7L830.9 335.4L827.0 331.2L821.7 325.7Z" fill="#b19ceb"/>
<path d="M870.0 289.5L876.2 294.7L882.4 300.1L835.9 341.1L830.9 335.4L827.0 331.2Z" fill="#af9aeb"/>
<path d="M876.2 294.7L882.4 300.1L889.9 306.9L842.1 348.3L835.9 341.1L830.9 335.4Z" fill="#ae99eb"/>
<path d="M882.4 300.1L889.9 306.9L895.8 312.6L847.1 354.1L842.1 348.3L835.9 341.1Z" fill="#ad97eb"/>
<path d="M889.9 306.9L895.8 312.6L900.2 316.9L852.1 359.9L847.1 354.1L842.1 348.3Z" fill="#ac95ea"/>
<path d="M895.8 312.6L900.2 316.9L905.9 322.8L857.2 365.6L852.1 359.9L847.1 354.1Z" fill="#ab94ea"/>
<path d="M900.2 316.9L905.9 322.8L911.4 328.7L862.2 371.3L857.2 365.6L852.1 359.9Z" fill="#a992ea"/>
<path d="M905.9 322.8L911.4 328.7L916.9 334.7L868.5 378.5L862.2 371.3L857.2 365.6Z" fill="#a891ea"/>
<path d="M911.4 328.7L916.9 334.7L921.1 339.3L872.3 382.8L868.5 378.5L862.2 371.3Z" fill="#a78fea"/>
<path d="M916.9 334.7L921.1 339.3L926.4 345.4L879.0 389.5L872.3 382.8L868.5 378.5Z" fill="#a68ee9"/>
<path d="M921.1 339.3L926.4 345.4L932.8 353.3L884.0 395.2L879.0 389.5L872.3 382.8Z" fill="#a58ce9"/>
<path d="M926.4 345.4L932.8 353.3L937.7 359.9L888.8 401.1L884.0 395.2L879.0 389.5Z" fill="#a38ae9"/>
<path d="M932.8 353.3L937.7 359.9L942.6 366.4L893.6 407.0L888.8 401.1L884.0 395.2Z" fill="#a289e9"/>
<path d="M937.7 359.9L942.6 366.4L947.7 372.8L898.4 413.0L893.6 407.0L888.8 401.1Z" fill="#a187e9"/>
<path d="M942.6 366.4L947.7 372.8L953.0 379.0L903.2 418.9L898.4 413.0L893.6 407.0Z" fill="#a086e8"/>
<path d="M947.7 372.8L953.0 379.0L956.9 383.7L908.0 424.8L903.2 418.9L898.4 413.0Z" fill="#9f84e8"/>
<path d="M953.0 379.0L956.9 383.7L962.1 390.0L915.6 433.4L908.0 424.8L903.2 418.9Z" fill="#9e83e8"/>
<path d="M956.9 383.7L962.1 390.0L965.9 394.8L919.4 437.6L915.6 433.4L908.0 424.8Z" fill="#9c81e8"/>
<path d="M962.1 390.0L965.9 394.8L972.1 402.9L924.5 443.3L919.4 437.6L915.6 433.4Z" fill="#9b80e8"/>
<path d="M965.9 394.8L972.1 402.9L976.9 409.5L929.4 449.2L924.5 443.3L919.4 437.6Z" fill="#9a7ee7"/>
<path d="M972.1 402.9L976.9 409.5L981.5 416.2L932.9 453.6L929.4 449.2L924.5 443.3Z" fill="#997de7"/>
<path d="M976.9 409.5L981.5 416.2L985.8 423.1L937.6 459.7L932.9 453.6L929.4 449.2Z" fill="#987be7"/>
<path d="M981.5 416.2L985.8 423.1L991.3 431.8L942.0 465.9L937.6 459.7L932.9 453.6Z" fill="#977ae7"/>
<path d="M985.8 423.1L991.3 431.8L995.6 438.7L946.4 472.1L942.0 465.9L937.6 459.7Z" fill="#9678e7"/>
<path d="M991.3 431.8L995.6 438.7L998.9 443.8L950.7 478.4L946.4 472.1L942.0 465.9Z" fill="#9576e6"/>
<path d="M995.6 438.7L998.9 443.8L1003.3 450.7L955.2 484.6L950.7 478.4L946.4 472.1Z" fill="#9375e6"/>
<path d="M998.9 443.8L1003.3 450.7L1007.8 457.5L960.8 492.3L955.2 484.6L950.7 478.4Z" fill="#9274e6"/>
<path d="M1003.3 450.7L1007.8 457.5L1012.4 464.3L965.3 498.4L960.8 492.3L955.2 484.6Z" fill="#9172e6"/>
<path d="M1007.8 457.5L1012.4 464.3L1017.0 471.0L971.0 506.1L965.3 498.4L960.8 492.3Z" fill="#9070e5"/>
<path d="M1012.4 464.3L1017.0 471.0L1021.5 477.8L975.6 512.2L971.0 506.1L965.3 498.4Z" fill="#8f6fe5"/>
<path d="M1017.0 471.0L1021.5 477.8L1025.8 484.7L980.2 518.3L975.6 512.2L971.0 506.1Z" fill="#8e6de5"/>
<path d="M1021.5 477.8L1025.8 484.7L1029.9 491.8L984.7 524.4L980.2 518.3L975.6 512.2Z" fill="#8d6ce4"/>
<path d="M1025.8 484.7L1029.9 491.8L1033.0 497.1L989.3 530.5L984.7 524.4L980.2 518.3Z" fill="#8c6ae4"/>
<path d="M1029.9 491.8L1033.0 497.1L1037.3 504.1L993.8 536.6L989.3 530.5L984.7 524.4Z" fill="#8b69e3"/>
<path d="M1033.0 497.1L1037.3 504.1L1041.7 510.9L998.3 542.7L993.8 536.6L989.3 530.5Z" fill="#8a67e3"/>
<path d="M1037.3 504.1L1041.7 510.9L1046.4 517.6L1002.9 548.9L998.3 542.7L993.8 536.6Z" fill="#8966e3"/>
<path d="M1041.7 510.9L1046.4 517.6L1051.1 524.3L1008.5 556.5L1002.9 548.9L998.3 542.7Z" fill="#8864e2"/>
<path d="M1046.4 517.6L1051.1 524.3L1055.8 530.9L1013.1 562.7L1008.5 556.5L1002.9 548.9Z" fill="#8663e2"/>
<path d="M1051.1 524.3L1055.8 530.9L1060.7 537.5L1017.6 568.8L1013.1 562.7L1008.5 556.5Z" fill="#8561e1"/>
<path d="M1055.8 530.9L1060.7 537.5L1065.5 544.0L1022.1 574.9L1017.6 568.8L1013.1 562.7Z" fill="#845fe1"/>
<path d="M1060.7 537.5L1065.5 544.0L1069.2 548.9L1026.7 581.1L1022.1 574.9L1017.6 568.8Z" fill="#835ee1"/>
<path d="M1065.5 544.0L1069.2 548.9L1074.1 555.4L1031.2 587.2L1026.7 581.1L1022.1 574.9Z" fill="#825de0"/>
<path d="M1069.2 548.9L1074.1 555.4L1079.1 561.9L1035.7 593.3L1031.2 587.2L1026.7 581.1Z" fill="#825ce0"/>
<path d="M1074.1 555.4L1079.1 561.9L1084.1 568.3L1041.4 601.0L1035.7 593.3L1031.2 587.2Z" fill="#815ae0"/>
<path d="M1079.1 561.9L1084.1 568.3L1089.1 574.8L1046.0 607.0L1041.4 601.0L1035.7 593.3Z" fill="#8059df"/>
<path d="M1084.1 568.3L1089.1 574.8L1094.1 581.2L1050.6 613.1L1046.0 607.0L1041.4 601.0Z" fill="#7f57df"/>
<path d="M1089.1 574.8L1094.1 581.2L1097.9 586.0L1055.2 619.2L1050.6 613.1L1046.0 607.0Z" fill="#7e56df"/>
<path d="M1094.1 581.2L1097.9 586.0L1103.0 592.4L1059.9 625.3L1055.2 619.2L1050.6 613.1Z" fill="#7d55de"/>
<path d="M1097.9 586.0L1103.0 592.4L1108.0 598.9L1065.7 632.8L1059.9 625.3L1055.2 619.2Z" fill="#7c54de"/>
<path d="M1103.0 592.4L1108.0 598.9L1113.1 605.3L1071.6 640.3L1065.7 632.8L1059.9 625.3Z" fill="#7b52de"/>
<path d="M1108.0 598.9L1113.1 605.3L1115.6 608.5L1081.0 649.7L1071.6 640.3L1065.7 632.8Z" fill="#7a51dd"/>
<path d="M1113.1 605.3L1115.6 608.5L1121.9 616.5L1082.4 651.0L1081.0 649.7L1071.6 640.3Z" fill="#794fdd"/>
<path d="M1115.6 608.5L1121.9 616.5L1132.0 629.3L1082.4 651.0L1082.4 651.0L1081.0 649.7Z" fill="#784edc"/>
<path d="M1121.9 616.5L1132.0 629.3L1132.0 629.3L1082.4 651.0L1082.4 651.0L1082.4 651.0Z" fill="#774ddc"/>
</g>
<g opacity="0.3">
<path d="M863.6 284.4L870.0 289.5L876.2 294.7L830.9 335.4L827.0 331.2L821.7 325.7Z" fill="#b19ceb"/>
<path d="M870.0 289.5L876.2 294.7L882.4 300.1L835.9 341.1L830.9 335.4L827.0 331.2Z" fill="#af9aeb"/>
<path d="M876.2 294.7L882.4 300.1L889.9 306.9L842.1 348.3L835.9 341.1L830.9 335.4Z" fill="#ae99eb"/>
<path d="M882.4 300.1L889.9 306.9L895.8 312.6L847.1 354.1L842.1 348.3L835.9 341.1Z" fill="#ad97eb"/>
<path d="M889.9 306.9L895.8 312.6L900.2 316.9L852.1 359.9L847.1 354.1L842.1 348.3Z" fill="#ac95ea"/>
<path d="M895.8 312.6L900.2 316.9L905.9 322.8L857.2 365.6L852.1 359.9L847.1 354.1Z" fill="#ab94ea"/>
<path d="M900.2 316.9L905.9 322.8L911.4 328.7L862.2 371.3L857.2 365.6L852.1 359.9Z" fill="#a992ea"/>
<path d="M905.9 322.8L911.4 328.7L916.9 334.7L868.5 378.5L862.2 371.3L857.2 365.6Z" fill="#a891ea"/>
<path d="M911.4 328.7L916.9 334.7L921.1 339.3L872.3 382.8L868.5 378.5L862.2 371.3Z" fill="#a78fea"/>
<path d="M916.9 334.7L921.1 339.3L926.4 345.4L879.0 389.5L872.3 382.8L868.5 378.5Z" fill="#a68ee9"/>
<path d="M921.1 339.3L926.4 345.4L932.8 353.3L884.0 395.2L879.0 389.5L872.3 382.8Z" fill="#a58ce9"/>
<path d="M926.4 345.4L932.8 353.3L937.7 359.9L888.8 401.1L884.0 395.2L879.0 389.5Z" fill="#a38ae9"/>
<path d="M932.8 353.3L937.7 359.9L942.6 366.4L893.6 407.0L888.8 401.1L884.0 395.2Z" fill="#a289e9"/>
<path d="M937.7 359.9L942.6 366.4L947.7 372.8L898.4 413.0L893.6 407.0L888.8 401.1Z" fill="#a187e9"/>
<path d="M942.6 366.4L947.7 372.8L953.0 379.0L903.2 418.9L898.4 413.0L893.6 407.0Z" fill="#a086e8"/>
<path d="M947.7 372.8L953.0 379.0L956.9 383.7L908.0 424.8L903.2 418.9L898.4 413.0Z" fill="#9f84e8"/>
<path d="M953.0 379.0L956.9 383.7L962.1 390.0L915.6 433.4L908.0 424.8L903.2 418.9Z" fill="#9e83e8"/>
<path d="M956.9 383.7L962.1 390.0L965.9 394.8L919.4 437.6L915.6 433.4L908.0 424.8Z" fill="#9c81e8"/>
<path d="M962.1 390.0L965.9 394.8L972.1 402.9L924.5 443.3L919.4 437.6L915.6 433.4Z" fill="#9b80e8"/>
<path d="M965.9 394.8L972.1 402.9L976.9 409.5L929.4 449.2L924.5 443.3L919.4 437.6Z" fill="#9a7ee7"/>
<path d="M972.1 402.9L976.9 409.5L981.5 416.2L932.9 453.6L929.4 449.2L924.5 443.3Z" fill="#997de7"/>
<path d="M976.9 409.5L981.5 416.2L985.8 423.1L937.6 459.7L932.9 453.6L929.4 449.2Z" fill="#987be7"/>
<path d="M981.5 416.2L985.8 423.1L991.3 431.8L942.0 465.9L937.6 459.7L932.9 453.6Z" fill="#977ae7"/>
<path d="M985.8 423.1L991.3 431.8L995.6 438.7L946.4 472.1L942.0 465.9L937.6 459.7Z" fill="#9678e7"/>
<path d="M991.3 431.8L995.6 438.7L998.9 443.8L950.7 478.4L946.4 472.1L942.0 465.9Z" fill="#9576e6"/>
<path d="M995.6 438.7L998.9 443.8L1003.3 450.7L955.2 484.6L950.7 478.4L946.4 472.1Z" fill="#9375e6"/>
<path d="M998.9 443.8L1003.3 450.7L1007.8 457.5L960.8 492.3L955.2 484.6L950.7 478.4Z" fill="#9274e6"/>
<path d="M1003.3 450.7L1007.8 457.5L1012.4 464.3L965.3 498.4L960.8 492.3L955.2 484.6Z" fill="#9172e6"/>
<path d="M1007.8 457.5L1012.4 464.3L1017.0 471.0L971.0 506.1L965.3 498.4L960.8 492.3Z" fill="#9070e5"/>
<path d="M1012.4 464.3L1017.0 471.0L1021.5 477.8L975.6 512.2L971.0 506.1L965.3 498.4Z" fill="#8f6fe5"/>
<path d="M1017.0 471.0L1021.5 477.8L1025.8 484.7L980.2 518.3L975.6 512.2L971.0 506.1Z" fill="#8e6de5"/>
<path d="M1021.5 477.8L1025.8 484.7L1029.9 491.8L984.7 524.4L980.2 518.3L975.6 512.2Z" fill="#8d6ce4"/>
<path d="M1025.8 484.7L1029.9 491.8L1033.0 497.1L989.3 530.5L984.7 524.4L980.2 518.3Z" fill="#8c6ae4"/>
<path d="M1029.9 491.8L1033.0 497.1L1037.3 504.1L993.8 536.6L989.3 530.5L984.7 524.4Z" fill="#8b69e3"/>
<path d="M1033.0 497.1L1037.3 504.1L1041.7 510.9L998.3 542.7L993.8 536.6L989.3 530.5Z" fill="#8a67e3"/>
<path d="M1037.3 504.1L1041.7 510.9L1046.4 517.6L1002.9 548.9L998.3 542.7L993.8 536.6Z" fill="#8966e3"/>
<path d="M1041.7 510.9L1046.4 517.6L1051.1 524.3L1008.5 556.5L1002.9 548.9L998.3 542.7Z" fill="#8864e2"/>
<path d="M1046.4 517.6L1051.1 524.3L1055.8 530.9L1013.1 562.7L1008.5 556.5L1002.9 548.9Z" fill="#8663e2"/>
<path d="M1051.1 524.3L1055.8 530.9L1060.7 537.5L1017.6 568.8L1013.1 562.7L1008.5 556.5Z" fill="#8561e1"/>
<path d="M1055.8 530.9L1060.7 537.5L1065.5 544.0L1022.1 574.9L1017.6 568.8L1013.1 562.7Z" fill="#845fe1"/>
<path d="M1060.7 537.5L1065.5 544.0L1069.2 548.9L1026.7 581.1L1022.1 574.9L1017.6 568.8Z" fill="#835ee1"/>
<path d="M1065.5 544.0L1069.2 548.9L1074.1 555.4L1031.2 587.2L1026.7 581.1L1022.1 574.9Z" fill="#825de0"/>
<path d="M1069.2 548.9L1074.1 555.4L1079.1 561.9L1035.7 593.3L1031.2 587.2L1026.7 581.1Z" fill="#825ce0"/>
<path d="M1074.1 555.4L1079.1 561.9L1084.1 568.3L1041.4 601.0L1035.7 593.3L1031.2 587.2Z" fill="#815ae0"/>
<path d="M1079.1 561.9L1084.1 568.3L1089.1 574.8L1046.0 607.0L1041.4 601.0L1035.7 593.3Z" fill="#8059df"/>
<path d="M1084.1 568.3L1089.1 574.8L1094.1 581.2L1050.6 613.1L1046.0 607.0L1041.4 601.0Z" fill="#7f57df"/>
<path d="M1089.1 574.8L1094.1 581.2L1097.9 586.0L1055.2 619.2L1050.6 613.1L1046.0 607.0Z" fill="#7e56df"/>
<path d="M1094.1 581.2L1097.9 586.0L1103.0 592.4L1059.9 625.3L1055.2 619.2L1050.6 613.1Z" fill="#7d55de"/>
<path d="M1097.9 586.0L1103.0 592.4L1108.0 598.9L1065.7 632.8L1059.9 625.3L1055.2 619.2Z" fill="#7c54de"/>
<path d="M1103.0 592.4L1108.0 598.9L1113.1 605.3L1071.6 640.3L1065.7 632.8L1059.9 625.3Z" fill="#7b52de"/>
<path d="M1108.0 598.9L1113.1 605.3L1115.6 608.5L1081.0 649.7L1071.6 640.3L1065.7 632.8Z" fill="#7a51dd"/>
<path d="M1113.1 605.3L1115.6 608.5L1121.9 616.5L1082.4 651.0L1081.0 649.7L1071.6 640.3Z" fill="#794fdd"/>
<path d="M1115.6 608.5L1121.9 616.5L1132.0 629.3L1082.4 651.0L1082.4 651.0L1081.0 649.7Z" fill="#784edc"/>
<path d="M1121.9 616.5L1132.0 629.3L1132.0 629.3L1082.4 651.0L1082.4 651.0L1082.4 651.0Z" fill="#774ddc"/>
</g>
<path d="M1157 611.1L1063.1 654.3L1156.2 724.3Z" fill="#8f6de1" opacity="0.45"/>
<path d="M163.6 267L428 210.5" stroke="#f2a81a" stroke-width="8.1" fill="none"/>
<path d="M444.9 208L419.7 203.6L426.5 211.3L427.3 224.4Z" fill="#f2a81a"/>
<path d="M200.7 452.1C203.2 449.6 211.3 442.0 215.7 437.1C220.1 432.2 223.9 427.6 227.1 422.9C230.3 418.1 233.4 412.9 235.0 408.6C236.6 404.3 236.7 400.9 236.6 397.1C236.5 393.3 234.8 389.5 234.3 385.7C233.8 381.9 233.1 378.1 233.6 374.3C234.1 370.5 235.3 366.7 237.1 362.9C238.9 359.1 241.4 355.2 244.3 351.4C247.2 347.6 250.7 343.6 254.3 340.0C257.9 336.4 261.6 333.4 265.7 330.0C269.8 326.6 276.8 321.3 279.0 319.6" stroke="#f2a81a" stroke-width="7.7" fill="none"/>
<path d="M295.2 305.4L281.4 330.7L279.4 319.2L268.3 315.6Z" fill="#f2a81a"/>
<path d="M295.7 304.6C296.6 303.8 297.5 302.9 301.4 300.0C305.3 297.1 313.4 291.7 319.3 287.5C325.2 283.3 331.2 279.0 337.1 275.0C343.1 271.0 349.0 267.1 355.0 263.4C361.0 259.7 366.9 256.0 372.9 252.7C378.8 249.4 384.8 246.5 390.7 243.8C396.6 241.1 402.7 238.7 408.6 236.6C414.6 234.5 420.4 232.8 426.4 231.3C432.3 229.8 438.4 228.5 444.3 227.7C450.2 226.8 454.7 226.4 462.1 226.2C469.5 225.9 478.5 225.5 488.6 226.2C498.7 226.9 511.5 228.3 522.9 230.6C534.3 232.8 547.6 236.9 557.1 239.7C566.6 242.5 573.8 245.1 580.0 247.3C586.2 249.5 592.1 251.9 594.5 252.8" stroke="#f2a81a" stroke-width="6.5" fill="none"/>
<path d="M613.6 260.4L584.3 260.4L593.9 253.2L591.2 241.6Z" fill="#f2a81a"/>
<path d="M614.6 256.8L632.5 240.4" stroke="#f2a81a" stroke-width="6.5" fill="none"/>
<path d="M647.4 227.4L634.5 253.1L632.0 241.7L620.8 238.5Z" fill="#f2a81a"/>
<path d="M971.3 197.2L954.6 240.3" stroke="#f2a81a" stroke-width="6.2" fill="none"/>
<text transform="translate(155.7 268) scale(1 1.09)" x="0" y="8.6" text-anchor="middle" font-family="'DejaVu Sans',sans-serif" font-size="25" fill="#000">✖</text>
<text transform="translate(897.5 308.7) scale(1 1.09)" x="0" y="8.6" text-anchor="middle" font-family="'DejaVu Sans',sans-serif" font-size="25" fill="#000">✖</text>
<text transform="translate(1085.8 882.4) scale(1 1.09)" x="0" y="8.6" text-anchor="middle" font-family="'DejaVu Sans',sans-serif" font-size="25" fill="#000">✖</text>
<text transform="translate(35.20 75.00) scale(0.8560 1)" x="-0.00" y="0" font-size="26" fill="#000">A</text>
<text transform="translate(65.50 252.60) scale(1.0269 1)" x="-1.49" y="0" font-size="18.6" fill="#000">Mal'ta</text>
<text transform="translate(47.50 275.70) scale(1.0863 1)" x="-0.74" y="0" font-size="18.6" fill="#000">ca. 24 KYA</text>
<text transform="translate(215.10 197.30) scale(1.1890 1)" x="-0.73" y="0" font-size="24.2" font-weight="bold" fill="#6fd9d6">SIBERIANS</text>
<text transform="translate(132.90 310.60) scale(1.3463 1)" x="-1.50" y="0" font-size="23" font-weight="bold" fill="#f3a3ef">EAST</text>
<text transform="translate(112.80 338.70) scale(1.3939 1)" x="-0.58" y="0" font-size="23" font-weight="bold" fill="#f3a3ef">ASIANS</text>
<text transform="translate(490.90 203.40) scale(1.0778 1)" x="-0.80" y="0" font-size="20" font-weight="bold" fill="#000">ca. 23 KYA</text>
<text transform="translate(498.00 262.50) scale(1.0632 1)" x="-0.00" y="0" font-size="18.6" fill="#000">Aleutian</text>
<text transform="translate(560.30 286.20) scale(1.0753 1)" x="-1.67" y="0" font-size="18.6" fill="#000">Islands</text>
<text transform="translate(0 194.60) scale(1.2681 1)" y="0" font-size="24" font-weight="bold" fill="#22b04e"><tspan x="569.92">I</tspan><tspan x="660.37">N</tspan><tspan x="763.08">U</tspan><tspan x="871.15">I</tspan><tspan x="976.01">T</tspan></text>
<text transform="translate(0 265.00) scale(1.0085 1)" y="0" font-size="25.7" font-weight="bold" fill="#7656d8"><tspan x="731.46">ATHABASCANS</tspan> <tspan x="942.85">&amp;</tspan> <tspan x="975.06">NORTHERN AMERINDIANS</tspan></text>
<text transform="translate(791.40 299.70) scale(1.0276 1)" x="-0.00" y="0" font-size="19" fill="#000">Anzick</text>
<text transform="translate(769.50 323.30) scale(1.0536 1)" x="-0.76" y="0" font-size="19" fill="#000">ca. 12.6 KYA</text>
<text transform="translate(905.20 328.60) rotate(52.4) scale(0.9980 1)" x="-0.90" y="0" font-size="22.5" font-weight="bold" fill="#000" stroke="#000" stroke-width="0.5">ca. 13 KYA</text>
<text transform="translate(1064.90 523.30) scale(1.1663 1)" x="-0.75" y="0" font-size="25" font-weight="bold" fill="#7050d6">SOUTHERN</text>
<text transform="translate(1168.60 676.70) scale(1.1996 1)" x="-0.61" y="0" font-size="24.3" font-weight="bold" fill="#7050d6">AMERINDIANS</text>
<rect x="682" y="794.3" width="131" height="34.7" fill="#fff" stroke="#000" stroke-width="4"/>
<path d="M693.5 813.5L712.2 813.5" stroke="#f2a81a" stroke-width="4.6" stroke-linecap="round" fill="none"/>
<text transform="translate(721.00 819.00) scale(0.9679 1)" x="-0.93" y="0" font-size="18.6" fill="#000">Gene flow</text>
<text transform="translate(953.80 869.40) scale(1.0733 1)" x="-1.49" y="0" font-size="18.6" fill="#000">Monte Verde</text>
<text transform="translate(958.30 893.40) scale(1.0724 1)" x="-0.74" y="0" font-size="18.6" fill="#000">ca. 14.6 KYA</text>
</g>
<g id="panel-b">
<rect x="21.7" y="868" width="859" height="517" fill="none" stroke="#000" stroke-width="3.6"/>
<path d="M107.3 902.3L634.3 902.3 M107.3 900.4L107.3 1084.4 M107.3 1082.5L201.6 1082.5 M201.6 970.2L201.6 1198.5 M201.6 972L546.2 972 M546.2 948.2L546.2 1005.3 M546.2 950L634.3 950 M546.2 1003.4L634.3 1003.4 M201.6 1196.6L292 1196.6 M292 1102.7L292 1282 M292 1104.6L377.1 1104.6 M377.1 1045.3L377.1 1163.5 M377.1 1047.1L634.3 1047.1 M377.1 1161.6L461 1161.6 M461 1118.3L461 1200.2 M461 1120.1L546.2 1120.1 M546.2 1094.4L546.2 1152 M546.2 1096.2L634.3 1096.2 M546.2 1150L634.3 1150 M461 1198.3L634.3 1198.3 M292 1280L461 1280 M461 1242.3L461 1319 M461 1244.1L634.3 1244.1 M461 1317.1L546.2 1317.1 M546.2 1291.3L546.2 1343.1 M546.2 1293.1L634.3 1293.1 M546.2 1341.3L634.3 1341.3" fill="none" stroke="#0a0a0a" stroke-width="3.8"/>
<path d="M339.4 902.5L339.4 1262" stroke="#e8a71e" stroke-width="5" fill="none"/>
<path d="M339.4 1279.5L328.8 1249.5L339.4 1257.5L350 1249.5Z" fill="#eda61e"/>
<path d="M584.5 1150.5L584.5 1242.5" stroke="#e8a71e" stroke-width="5" fill="none"/>
<text transform="translate(646.30 913.20) scale(1.0731 1)" x="-1.96" y="0" font-size="24.5" fill="#000">Mal'ta (n=1)</text>
<text transform="translate(646.25 959.50) scale(1.0793 1)" x="-1.96" y="0" font-size="24.5" fill="#f4a4ec">Han (n=1)</text>
<text transform="translate(646.00 1013.75) scale(1.0408 1)" x="-1.96" y="0" font-size="24.5" fill="#8bdcee">Nivhks (n=2)</text>
<text transform="translate(646.00 1056.75) scale(1.0350 1)" x="-1.96" y="0" font-size="24.5" fill="#8bdcee">Koryak (n=2)</text>
<text transform="translate(645.75 1158.75) scale(1.0426 1)" x="-2.21" y="0" font-size="24.5" fill="#1fa04a">Inuit (n=2)</text>
<text transform="translate(646.75 1207.50) scale(1.0375 1)" x="-1.10" y="0" font-size="24.5" fill="#1414d2">Saqqaq (n=1)</text>
<text transform="translate(648.00 1250.00) scale(1.0269 1)" x="-0.00" y="0" font-size="24.5" fill="#e21f2d">Athabascan (n=2)</text>
<text transform="translate(648.00 1298.75) scale(1.0304 1)" x="-0.00" y="0" font-size="24.5" fill="#7660c8">Anzick–1 (n=1)</text>
<text transform="translate(646.75 1348.75) scale(1.0418 1)" x="-1.96" y="0" font-size="24.5" fill="#7660c8">Karitiana (n=2)</text>
<text transform="translate(0 1104.25) scale(1.0460 1)" y="0" font-size="24.5" fill="#8bdcee"><tspan x="617.92">Siberian Yupik (n=2</tspan><tspan x="831.23" fill="#000">)</tspan></text>
<text transform="translate(34.60 903.00) scale(1.0617 1)" x="-2.00" y="0" font-size="25" fill="#000">B</text>
<path d="M45 1196.8L67 1196.8" stroke="#e8a71e" stroke-width="5" fill="none"/>
<rect x="46.6" y="1207.15" width="19.8" height="17.95" fill="#595959" stroke="#333" stroke-width="0.8"/>
<rect x="46.6" y="1230.9" width="19.8" height="18.20" fill="#ffc2ff" stroke="#333" stroke-width="0.8"/>
<rect x="46.6" y="1255.9" width="19.8" height="17.20" fill="#a8ffff" stroke="#333" stroke-width="0.8"/>
<rect x="46.6" y="1278.9" width="19.8" height="17.70" fill="#5c5cff" stroke="#333" stroke-width="0.8"/>
<rect x="46.6" y="1302.9" width="19.8" height="17.20" fill="#5ccc8c" stroke="#333" stroke-width="0.8"/>
<rect x="46.6" y="1326.9" width="19.8" height="17.20" fill="#a98ce8" stroke="#333" stroke-width="0.8"/>
<rect x="46.6" y="1350.9" width="19.8" height="17.20" fill="#ff6868" stroke="#333" stroke-width="0.8"/>
<text transform="translate(74.60 1203.00) scale(0.9839 1)" x="-0.90" y="0" font-size="18" fill="#000">Gene flow</text>
<text transform="translate(74.30 1224.50) scale(0.9964 1)" x="-0.00" y="0" font-size="18" fill="#000">Ancient Siberian</text>
<text transform="translate(74.60 1248.75) scale(1.0177 1)" x="-1.44" y="0" font-size="18" fill="#000">East Asian</text>
<text transform="translate(75.30 1273.25) scale(1.0019 1)" x="-0.81" y="0" font-size="18" fill="#000">Siberian</text>
<text transform="translate(74.60 1296.75) scale(1.0000 1)" x="-1.44" y="0" font-size="18" fill="#000">Paleo-Eskimo</text>
<text transform="translate(74.80 1320.50) scale(0.9955 1)" x="-1.62" y="0" font-size="18" fill="#000">Inuit (Greenland)</text>
<text transform="translate(75.30 1345.00) scale(1.0003 1)" x="-0.81" y="0" font-size="18" fill="#000">South/Central Amerindian</text>
<text transform="translate(74.80 1368.75) scale(0.9982 1)" x="-0.00" y="0" font-size="18" fill="#000">Athabascan</text>
</g>
</svg>
</body></html>
